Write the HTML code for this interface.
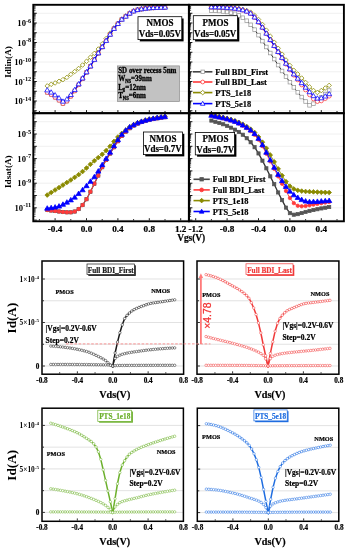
<!DOCTYPE html>
<html><head><meta charset="utf-8"><title>Figure</title>
<style>
html,body{margin:0;padding:0;background:#fff;}
body{width:348px;height:550px;overflow:hidden;}
svg{display:block;}
svg text{font-family:"Liberation Serif","Times New Roman",serif;}
</style></head><body>
<svg width="348" height="550" viewBox="0 0 348 550">
<rect width="348" height="550" fill="#fff"/>
<line x1="33.3" y1="110.75" x2="343.9" y2="110.75" stroke="#ececec" stroke-width="0.8" />
<line x1="33.3" y1="101" x2="343.9" y2="101" stroke="#ececec" stroke-width="0.8" />
<line x1="33.3" y1="91.25" x2="343.9" y2="91.25" stroke="#ececec" stroke-width="0.8" />
<line x1="33.3" y1="81.5" x2="343.9" y2="81.5" stroke="#ececec" stroke-width="0.8" />
<line x1="33.3" y1="71.75" x2="343.9" y2="71.75" stroke="#ececec" stroke-width="0.8" />
<line x1="33.3" y1="62" x2="343.9" y2="62" stroke="#ececec" stroke-width="0.8" />
<line x1="33.3" y1="52.25" x2="343.9" y2="52.25" stroke="#ececec" stroke-width="0.8" />
<line x1="33.3" y1="42.5" x2="343.9" y2="42.5" stroke="#ececec" stroke-width="0.8" />
<line x1="33.3" y1="32.75" x2="343.9" y2="32.75" stroke="#ececec" stroke-width="0.8" />
<line x1="33.3" y1="23" x2="343.9" y2="23" stroke="#ececec" stroke-width="0.8" />
<line x1="33.3" y1="13.25" x2="343.9" y2="13.25" stroke="#ececec" stroke-width="0.8" />
<line x1="33.3" y1="220.1" x2="343.9" y2="220.1" stroke="#ececec" stroke-width="0.8" />
<line x1="33.3" y1="207.8" x2="343.9" y2="207.8" stroke="#ececec" stroke-width="0.8" />
<line x1="33.3" y1="195.5" x2="343.9" y2="195.5" stroke="#ececec" stroke-width="0.8" />
<line x1="33.3" y1="183.2" x2="343.9" y2="183.2" stroke="#ececec" stroke-width="0.8" />
<line x1="33.3" y1="170.9" x2="343.9" y2="170.9" stroke="#ececec" stroke-width="0.8" />
<line x1="33.3" y1="158.6" x2="343.9" y2="158.6" stroke="#ececec" stroke-width="0.8" />
<line x1="33.3" y1="146.3" x2="343.9" y2="146.3" stroke="#ececec" stroke-width="0.8" />
<line x1="33.3" y1="134" x2="343.9" y2="134" stroke="#ececec" stroke-width="0.8" />
<line x1="33.3" y1="121.7" x2="343.9" y2="121.7" stroke="#ececec" stroke-width="0.8" />
<polyline points="47.25,92.41 51.17,94.51 55.1,97.27 59.02,100.22 62.95,103.6 66.88,101.11 70.8,96.26 74.72,90.9 78.65,84.75 82.57,78.67 86.5,72.3 90.42,66.32 94.35,59.78 98.27,53.24 102.2,47 106.12,40.72 110.05,34.52 113.97,28.63 117.9,23.72 121.82,19.38 125.75,16.34 129.67,13.32 133.6,11.1 137.52,9.79 141.45,9.01 145.38,8.4 149.3,8 153.22,7.8 157.15,7.6 161.07,7.4 165,7.3" fill="none" stroke="#222" stroke-width="0.9" stroke-linejoin="round" />
<rect x="45.45" y="90.61" width="3.6" height="3.6" fill="#fff" stroke="#999" stroke-width="0.75"/>
<rect x="49.38" y="92.71" width="3.6" height="3.6" fill="#fff" stroke="#999" stroke-width="0.75"/>
<rect x="53.3" y="95.47" width="3.6" height="3.6" fill="#fff" stroke="#999" stroke-width="0.75"/>
<rect x="57.23" y="98.42" width="3.6" height="3.6" fill="#fff" stroke="#999" stroke-width="0.75"/>
<rect x="61.15" y="101.8" width="3.6" height="3.6" fill="#fff" stroke="#999" stroke-width="0.75"/>
<rect x="65.08" y="99.31" width="3.6" height="3.6" fill="#fff" stroke="#999" stroke-width="0.75"/>
<rect x="69" y="94.46" width="3.6" height="3.6" fill="#fff" stroke="#999" stroke-width="0.75"/>
<rect x="72.92" y="89.1" width="3.6" height="3.6" fill="#fff" stroke="#999" stroke-width="0.75"/>
<rect x="76.85" y="82.95" width="3.6" height="3.6" fill="#fff" stroke="#999" stroke-width="0.75"/>
<rect x="80.77" y="76.87" width="3.6" height="3.6" fill="#fff" stroke="#999" stroke-width="0.75"/>
<rect x="84.7" y="70.5" width="3.6" height="3.6" fill="#fff" stroke="#999" stroke-width="0.75"/>
<rect x="88.62" y="64.52" width="3.6" height="3.6" fill="#fff" stroke="#999" stroke-width="0.75"/>
<rect x="92.55" y="57.98" width="3.6" height="3.6" fill="#fff" stroke="#999" stroke-width="0.75"/>
<rect x="96.47" y="51.44" width="3.6" height="3.6" fill="#fff" stroke="#999" stroke-width="0.75"/>
<rect x="100.4" y="45.2" width="3.6" height="3.6" fill="#fff" stroke="#999" stroke-width="0.75"/>
<rect x="104.32" y="38.92" width="3.6" height="3.6" fill="#fff" stroke="#999" stroke-width="0.75"/>
<rect x="108.25" y="32.72" width="3.6" height="3.6" fill="#fff" stroke="#999" stroke-width="0.75"/>
<rect x="112.17" y="26.83" width="3.6" height="3.6" fill="#fff" stroke="#999" stroke-width="0.75"/>
<rect x="116.1" y="21.92" width="3.6" height="3.6" fill="#fff" stroke="#999" stroke-width="0.75"/>
<rect x="120.02" y="17.58" width="3.6" height="3.6" fill="#fff" stroke="#999" stroke-width="0.75"/>
<rect x="123.95" y="14.54" width="3.6" height="3.6" fill="#fff" stroke="#999" stroke-width="0.75"/>
<rect x="127.87" y="11.52" width="3.6" height="3.6" fill="#fff" stroke="#999" stroke-width="0.75"/>
<rect x="131.8" y="9.3" width="3.6" height="3.6" fill="#fff" stroke="#999" stroke-width="0.75"/>
<rect x="135.72" y="7.99" width="3.6" height="3.6" fill="#fff" stroke="#999" stroke-width="0.75"/>
<rect x="139.65" y="7.21" width="3.6" height="3.6" fill="#fff" stroke="#999" stroke-width="0.75"/>
<rect x="143.57" y="6.6" width="3.6" height="3.6" fill="#fff" stroke="#999" stroke-width="0.75"/>
<rect x="147.5" y="6.2" width="3.6" height="3.6" fill="#fff" stroke="#999" stroke-width="0.75"/>
<rect x="151.42" y="6" width="3.6" height="3.6" fill="#fff" stroke="#999" stroke-width="0.75"/>
<rect x="155.35" y="5.8" width="3.6" height="3.6" fill="#fff" stroke="#999" stroke-width="0.75"/>
<rect x="159.27" y="5.6" width="3.6" height="3.6" fill="#fff" stroke="#999" stroke-width="0.75"/>
<rect x="163.2" y="5.5" width="3.6" height="3.6" fill="#fff" stroke="#999" stroke-width="0.75"/>
<polyline points="47.25,85.89 51.17,84.34 55.1,82.96 59.02,81.29 62.95,79.62 66.88,77.38 70.8,74.35 74.72,71.5 78.65,68.49 82.57,65.02 86.5,61.3 90.42,57.28 94.35,53.45 98.27,49.03 102.2,43.9 106.12,38.57 110.05,33.13 113.97,28.03 117.9,23.31 121.82,19.18 125.75,16.14 129.67,13.32 133.6,11.1 137.52,9.79 141.45,9.01 145.38,8.4 149.3,8 153.22,7.8 157.15,7.6 161.07,7.4 165,7.3" fill="none" stroke="#8a8a00" stroke-width="0.9" stroke-linejoin="round" />
<path d="M47.25,83.59L49.55,85.89L47.25,88.19L44.95,85.89Z" fill="#fff" stroke="#8a8a00" stroke-width="0.75"/>
<path d="M51.17,82.04L53.47,84.34L51.17,86.64L48.88,84.34Z" fill="#fff" stroke="#8a8a00" stroke-width="0.75"/>
<path d="M55.1,80.66L57.4,82.96L55.1,85.26L52.8,82.96Z" fill="#fff" stroke="#8a8a00" stroke-width="0.75"/>
<path d="M59.02,78.99L61.32,81.29L59.02,83.59L56.73,81.29Z" fill="#fff" stroke="#8a8a00" stroke-width="0.75"/>
<path d="M62.95,77.32L65.25,79.62L62.95,81.92L60.65,79.62Z" fill="#fff" stroke="#8a8a00" stroke-width="0.75"/>
<path d="M66.88,75.08L69.17,77.38L66.88,79.68L64.58,77.38Z" fill="#fff" stroke="#8a8a00" stroke-width="0.75"/>
<path d="M70.8,72.05L73.1,74.35L70.8,76.65L68.5,74.35Z" fill="#fff" stroke="#8a8a00" stroke-width="0.75"/>
<path d="M74.72,69.2L77.02,71.5L74.72,73.8L72.42,71.5Z" fill="#fff" stroke="#8a8a00" stroke-width="0.75"/>
<path d="M78.65,66.19L80.95,68.49L78.65,70.79L76.35,68.49Z" fill="#fff" stroke="#8a8a00" stroke-width="0.75"/>
<path d="M82.57,62.72L84.87,65.02L82.57,67.32L80.27,65.02Z" fill="#fff" stroke="#8a8a00" stroke-width="0.75"/>
<path d="M86.5,59L88.8,61.3L86.5,63.6L84.2,61.3Z" fill="#fff" stroke="#8a8a00" stroke-width="0.75"/>
<path d="M90.42,54.98L92.72,57.28L90.42,59.58L88.12,57.28Z" fill="#fff" stroke="#8a8a00" stroke-width="0.75"/>
<path d="M94.35,51.15L96.65,53.45L94.35,55.75L92.05,53.45Z" fill="#fff" stroke="#8a8a00" stroke-width="0.75"/>
<path d="M98.27,46.73L100.57,49.03L98.27,51.33L95.97,49.03Z" fill="#fff" stroke="#8a8a00" stroke-width="0.75"/>
<path d="M102.2,41.6L104.5,43.9L102.2,46.2L99.9,43.9Z" fill="#fff" stroke="#8a8a00" stroke-width="0.75"/>
<path d="M106.12,36.27L108.42,38.57L106.12,40.87L103.82,38.57Z" fill="#fff" stroke="#8a8a00" stroke-width="0.75"/>
<path d="M110.05,30.83L112.35,33.13L110.05,35.43L107.75,33.13Z" fill="#fff" stroke="#8a8a00" stroke-width="0.75"/>
<path d="M113.97,25.73L116.27,28.03L113.97,30.33L111.67,28.03Z" fill="#fff" stroke="#8a8a00" stroke-width="0.75"/>
<path d="M117.9,21.01L120.2,23.31L117.9,25.61L115.6,23.31Z" fill="#fff" stroke="#8a8a00" stroke-width="0.75"/>
<path d="M121.82,16.88L124.12,19.18L121.82,21.48L119.52,19.18Z" fill="#fff" stroke="#8a8a00" stroke-width="0.75"/>
<path d="M125.75,13.84L128.05,16.14L125.75,18.44L123.45,16.14Z" fill="#fff" stroke="#8a8a00" stroke-width="0.75"/>
<path d="M129.67,11.02L131.97,13.32L129.67,15.62L127.37,13.32Z" fill="#fff" stroke="#8a8a00" stroke-width="0.75"/>
<path d="M133.6,8.8L135.9,11.1L133.6,13.4L131.3,11.1Z" fill="#fff" stroke="#8a8a00" stroke-width="0.75"/>
<path d="M137.52,7.49L139.82,9.79L137.52,12.09L135.22,9.79Z" fill="#fff" stroke="#8a8a00" stroke-width="0.75"/>
<path d="M141.45,6.71L143.75,9.01L141.45,11.31L139.15,9.01Z" fill="#fff" stroke="#8a8a00" stroke-width="0.75"/>
<path d="M145.38,6.1L147.68,8.4L145.38,10.7L143.07,8.4Z" fill="#fff" stroke="#8a8a00" stroke-width="0.75"/>
<path d="M149.3,5.7L151.6,8L149.3,10.3L147,8Z" fill="#fff" stroke="#8a8a00" stroke-width="0.75"/>
<path d="M153.22,5.5L155.52,7.8L153.22,10.1L150.92,7.8Z" fill="#fff" stroke="#8a8a00" stroke-width="0.75"/>
<path d="M157.15,5.3L159.45,7.6L157.15,9.9L154.85,7.6Z" fill="#fff" stroke="#8a8a00" stroke-width="0.75"/>
<path d="M161.07,5.1L163.38,7.4L161.07,9.7L158.77,7.4Z" fill="#fff" stroke="#8a8a00" stroke-width="0.75"/>
<path d="M165,5L167.3,7.3L165,9.6L162.7,7.3Z" fill="#fff" stroke="#8a8a00" stroke-width="0.75"/>
<polyline points="47.25,92.41 51.17,94.51 55.1,97.27 59.02,100.22 62.95,103.6 66.88,101.11 70.8,96.26 74.72,90.9 78.65,84.75 82.57,78.67 86.5,72.3 90.42,66.32 94.35,59.78 98.27,53.24 102.2,47 106.12,40.72 110.05,34.52 113.97,28.63 117.9,23.72 121.82,19.38 125.75,16.34 129.67,13.32 133.6,11.1 137.52,9.79 141.45,9.01 145.38,8.4 149.3,8 153.22,7.8 157.15,7.6 161.07,7.4 165,7.3" fill="none" stroke="#ff3b3b" stroke-width="0.9" stroke-linejoin="round" />
<circle cx="47.25" cy="92.41" r="2" fill="#fff" stroke="#ff3b3b" stroke-width="0.75"/>
<circle cx="51.17" cy="94.51" r="2" fill="#fff" stroke="#ff3b3b" stroke-width="0.75"/>
<circle cx="55.1" cy="97.27" r="2" fill="#fff" stroke="#ff3b3b" stroke-width="0.75"/>
<circle cx="59.02" cy="100.22" r="2" fill="#fff" stroke="#ff3b3b" stroke-width="0.75"/>
<circle cx="62.95" cy="103.6" r="2" fill="#fff" stroke="#ff3b3b" stroke-width="0.75"/>
<circle cx="66.88" cy="101.11" r="2" fill="#fff" stroke="#ff3b3b" stroke-width="0.75"/>
<circle cx="70.8" cy="96.26" r="2" fill="#fff" stroke="#ff3b3b" stroke-width="0.75"/>
<circle cx="74.72" cy="90.9" r="2" fill="#fff" stroke="#ff3b3b" stroke-width="0.75"/>
<circle cx="78.65" cy="84.75" r="2" fill="#fff" stroke="#ff3b3b" stroke-width="0.75"/>
<circle cx="82.57" cy="78.67" r="2" fill="#fff" stroke="#ff3b3b" stroke-width="0.75"/>
<circle cx="86.5" cy="72.3" r="2" fill="#fff" stroke="#ff3b3b" stroke-width="0.75"/>
<circle cx="90.42" cy="66.32" r="2" fill="#fff" stroke="#ff3b3b" stroke-width="0.75"/>
<circle cx="94.35" cy="59.78" r="2" fill="#fff" stroke="#ff3b3b" stroke-width="0.75"/>
<circle cx="98.27" cy="53.24" r="2" fill="#fff" stroke="#ff3b3b" stroke-width="0.75"/>
<circle cx="102.2" cy="47" r="2" fill="#fff" stroke="#ff3b3b" stroke-width="0.75"/>
<circle cx="106.12" cy="40.72" r="2" fill="#fff" stroke="#ff3b3b" stroke-width="0.75"/>
<circle cx="110.05" cy="34.52" r="2" fill="#fff" stroke="#ff3b3b" stroke-width="0.75"/>
<circle cx="113.97" cy="28.63" r="2" fill="#fff" stroke="#ff3b3b" stroke-width="0.75"/>
<circle cx="117.9" cy="23.72" r="2" fill="#fff" stroke="#ff3b3b" stroke-width="0.75"/>
<circle cx="121.82" cy="19.38" r="2" fill="#fff" stroke="#ff3b3b" stroke-width="0.75"/>
<circle cx="125.75" cy="16.34" r="2" fill="#fff" stroke="#ff3b3b" stroke-width="0.75"/>
<circle cx="129.67" cy="13.32" r="2" fill="#fff" stroke="#ff3b3b" stroke-width="0.75"/>
<circle cx="133.6" cy="11.1" r="2" fill="#fff" stroke="#ff3b3b" stroke-width="0.75"/>
<circle cx="137.52" cy="9.79" r="2" fill="#fff" stroke="#ff3b3b" stroke-width="0.75"/>
<circle cx="141.45" cy="9.01" r="2" fill="#fff" stroke="#ff3b3b" stroke-width="0.75"/>
<circle cx="145.38" cy="8.4" r="2" fill="#fff" stroke="#ff3b3b" stroke-width="0.75"/>
<circle cx="149.3" cy="8" r="2" fill="#fff" stroke="#ff3b3b" stroke-width="0.75"/>
<circle cx="153.22" cy="7.8" r="2" fill="#fff" stroke="#ff3b3b" stroke-width="0.75"/>
<circle cx="157.15" cy="7.6" r="2" fill="#fff" stroke="#ff3b3b" stroke-width="0.75"/>
<circle cx="161.07" cy="7.4" r="2" fill="#fff" stroke="#ff3b3b" stroke-width="0.75"/>
<circle cx="165" cy="7.3" r="2" fill="#fff" stroke="#ff3b3b" stroke-width="0.75"/>
<polyline points="47.25,90.12 51.17,92.31 55.1,95.07 59.02,98.02 62.95,101.4 66.88,99.1 70.8,94.74 74.72,89.77 78.65,84.02 82.57,78.15 86.5,72 90.42,66.12 94.35,59.58 98.27,53.04 102.2,46.8 106.12,40.62 110.05,34.42 113.97,28.63 117.9,23.72 121.82,19.38 125.75,16.34 129.67,13.32 133.6,11.1 137.52,9.79 141.45,9.01 145.38,8.4 149.3,8 153.22,7.8 157.15,7.6 161.07,7.4 165,7.3" fill="none" stroke="#0000ff" stroke-width="1.1" stroke-linejoin="round" />
<path d="M47.25,87.6L49.77,91.92L44.73,91.92Z" fill="#fff" stroke="#0000ff" stroke-width="0.75"/>
<path d="M51.17,89.79L53.7,94.11L48.65,94.11Z" fill="#fff" stroke="#0000ff" stroke-width="0.75"/>
<path d="M55.1,92.55L57.62,96.87L52.58,96.87Z" fill="#fff" stroke="#0000ff" stroke-width="0.75"/>
<path d="M59.02,95.5L61.55,99.82L56.5,99.82Z" fill="#fff" stroke="#0000ff" stroke-width="0.75"/>
<path d="M62.95,98.88L65.47,103.2L60.43,103.2Z" fill="#fff" stroke="#0000ff" stroke-width="0.75"/>
<path d="M66.88,96.58L69.39,100.9L64.36,100.9Z" fill="#fff" stroke="#0000ff" stroke-width="0.75"/>
<path d="M70.8,92.22L73.32,96.54L68.28,96.54Z" fill="#fff" stroke="#0000ff" stroke-width="0.75"/>
<path d="M74.72,87.25L77.24,91.57L72.2,91.57Z" fill="#fff" stroke="#0000ff" stroke-width="0.75"/>
<path d="M78.65,81.5L81.17,85.82L76.13,85.82Z" fill="#fff" stroke="#0000ff" stroke-width="0.75"/>
<path d="M82.57,75.63L85.09,79.95L80.05,79.95Z" fill="#fff" stroke="#0000ff" stroke-width="0.75"/>
<path d="M86.5,69.48L89.02,73.8L83.98,73.8Z" fill="#fff" stroke="#0000ff" stroke-width="0.75"/>
<path d="M90.42,63.6L92.94,67.92L87.9,67.92Z" fill="#fff" stroke="#0000ff" stroke-width="0.75"/>
<path d="M94.35,57.06L96.87,61.38L91.83,61.38Z" fill="#fff" stroke="#0000ff" stroke-width="0.75"/>
<path d="M98.27,50.52L100.79,54.84L95.75,54.84Z" fill="#fff" stroke="#0000ff" stroke-width="0.75"/>
<path d="M102.2,44.28L104.72,48.6L99.68,48.6Z" fill="#fff" stroke="#0000ff" stroke-width="0.75"/>
<path d="M106.12,38.1L108.64,42.42L103.6,42.42Z" fill="#fff" stroke="#0000ff" stroke-width="0.75"/>
<path d="M110.05,31.9L112.57,36.22L107.53,36.22Z" fill="#fff" stroke="#0000ff" stroke-width="0.75"/>
<path d="M113.97,26.11L116.49,30.43L111.45,30.43Z" fill="#fff" stroke="#0000ff" stroke-width="0.75"/>
<path d="M117.9,21.2L120.42,25.52L115.38,25.52Z" fill="#fff" stroke="#0000ff" stroke-width="0.75"/>
<path d="M121.82,16.86L124.34,21.18L119.3,21.18Z" fill="#fff" stroke="#0000ff" stroke-width="0.75"/>
<path d="M125.75,13.82L128.27,18.14L123.23,18.14Z" fill="#fff" stroke="#0000ff" stroke-width="0.75"/>
<path d="M129.67,10.8L132.19,15.12L127.15,15.12Z" fill="#fff" stroke="#0000ff" stroke-width="0.75"/>
<path d="M133.6,8.58L136.12,12.9L131.08,12.9Z" fill="#fff" stroke="#0000ff" stroke-width="0.75"/>
<path d="M137.52,7.27L140.04,11.59L135,11.59Z" fill="#fff" stroke="#0000ff" stroke-width="0.75"/>
<path d="M141.45,6.49L143.97,10.81L138.93,10.81Z" fill="#fff" stroke="#0000ff" stroke-width="0.75"/>
<path d="M145.38,5.88L147.9,10.2L142.85,10.2Z" fill="#fff" stroke="#0000ff" stroke-width="0.75"/>
<path d="M149.3,5.48L151.82,9.8L146.78,9.8Z" fill="#fff" stroke="#0000ff" stroke-width="0.75"/>
<path d="M153.22,5.28L155.74,9.6L150.7,9.6Z" fill="#fff" stroke="#0000ff" stroke-width="0.75"/>
<path d="M157.15,5.08L159.67,9.4L154.63,9.4Z" fill="#fff" stroke="#0000ff" stroke-width="0.75"/>
<path d="M161.07,4.88L163.59,9.2L158.55,9.2Z" fill="#fff" stroke="#0000ff" stroke-width="0.75"/>
<path d="M165,4.78L167.52,9.1L162.48,9.1Z" fill="#fff" stroke="#0000ff" stroke-width="0.75"/>
<polyline points="211.4,10.8 215.32,10.8 219.25,10.99 223.17,11.48 227.1,11.98 231.02,12.78 234.95,13.78 238.88,15.44 242.8,17.73 246.73,20.73 250.65,24.83 254.58,29.64 258.5,35.15 262.43,41.09 266.35,46.97 270.28,53.01 274.2,59.05 278.13,65.09 282.05,70.98 285.98,76.62 289.9,82.16 293.83,87.4 297.75,92.32 301.68,97.05 305.6,101.5 309.53,105.3 313.45,103.68 317.38,100.7 321.3,97.48 325.23,94.07 329.15,90.54" fill="none" stroke="#222" stroke-width="1.0" stroke-linejoin="round" />
<rect x="209.6" y="9" width="3.6" height="3.6" fill="#fff" stroke="#999" stroke-width="0.75"/>
<rect x="213.52" y="9" width="3.6" height="3.6" fill="#fff" stroke="#999" stroke-width="0.75"/>
<rect x="217.45" y="9.19" width="3.6" height="3.6" fill="#fff" stroke="#999" stroke-width="0.75"/>
<rect x="221.37" y="9.68" width="3.6" height="3.6" fill="#fff" stroke="#999" stroke-width="0.75"/>
<rect x="225.3" y="10.18" width="3.6" height="3.6" fill="#fff" stroke="#999" stroke-width="0.75"/>
<rect x="229.22" y="10.98" width="3.6" height="3.6" fill="#fff" stroke="#999" stroke-width="0.75"/>
<rect x="233.15" y="11.98" width="3.6" height="3.6" fill="#fff" stroke="#999" stroke-width="0.75"/>
<rect x="237.07" y="13.64" width="3.6" height="3.6" fill="#fff" stroke="#999" stroke-width="0.75"/>
<rect x="241" y="15.93" width="3.6" height="3.6" fill="#fff" stroke="#999" stroke-width="0.75"/>
<rect x="244.93" y="18.93" width="3.6" height="3.6" fill="#fff" stroke="#999" stroke-width="0.75"/>
<rect x="248.85" y="23.03" width="3.6" height="3.6" fill="#fff" stroke="#999" stroke-width="0.75"/>
<rect x="252.78" y="27.84" width="3.6" height="3.6" fill="#fff" stroke="#999" stroke-width="0.75"/>
<rect x="256.7" y="33.35" width="3.6" height="3.6" fill="#fff" stroke="#999" stroke-width="0.75"/>
<rect x="260.62" y="39.29" width="3.6" height="3.6" fill="#fff" stroke="#999" stroke-width="0.75"/>
<rect x="264.55" y="45.17" width="3.6" height="3.6" fill="#fff" stroke="#999" stroke-width="0.75"/>
<rect x="268.48" y="51.21" width="3.6" height="3.6" fill="#fff" stroke="#999" stroke-width="0.75"/>
<rect x="272.4" y="57.25" width="3.6" height="3.6" fill="#fff" stroke="#999" stroke-width="0.75"/>
<rect x="276.33" y="63.29" width="3.6" height="3.6" fill="#fff" stroke="#999" stroke-width="0.75"/>
<rect x="280.25" y="69.18" width="3.6" height="3.6" fill="#fff" stroke="#999" stroke-width="0.75"/>
<rect x="284.18" y="74.82" width="3.6" height="3.6" fill="#fff" stroke="#999" stroke-width="0.75"/>
<rect x="288.1" y="80.36" width="3.6" height="3.6" fill="#fff" stroke="#999" stroke-width="0.75"/>
<rect x="292.03" y="85.6" width="3.6" height="3.6" fill="#fff" stroke="#999" stroke-width="0.75"/>
<rect x="295.95" y="90.52" width="3.6" height="3.6" fill="#fff" stroke="#999" stroke-width="0.75"/>
<rect x="299.88" y="95.25" width="3.6" height="3.6" fill="#fff" stroke="#999" stroke-width="0.75"/>
<rect x="303.8" y="99.7" width="3.6" height="3.6" fill="#fff" stroke="#999" stroke-width="0.75"/>
<rect x="307.73" y="103.5" width="3.6" height="3.6" fill="#fff" stroke="#999" stroke-width="0.75"/>
<rect x="311.65" y="101.88" width="3.6" height="3.6" fill="#fff" stroke="#999" stroke-width="0.75"/>
<rect x="315.58" y="98.9" width="3.6" height="3.6" fill="#fff" stroke="#999" stroke-width="0.75"/>
<rect x="319.5" y="95.68" width="3.6" height="3.6" fill="#fff" stroke="#999" stroke-width="0.75"/>
<rect x="323.43" y="92.27" width="3.6" height="3.6" fill="#fff" stroke="#999" stroke-width="0.75"/>
<rect x="327.35" y="88.74" width="3.6" height="3.6" fill="#fff" stroke="#999" stroke-width="0.75"/>
<polyline points="211.4,6.8 215.32,6.83 219.25,6.9 223.17,7.09 227.1,7.39 231.02,7.7 234.95,8.09 238.88,8.68 242.8,9.48 246.73,10.57 250.65,12.22 254.58,15.38 258.5,19.48 262.43,24.5 266.35,30.18 270.28,36.21 274.2,42.25 278.13,48.29 282.05,54.18 285.98,60.02 289.9,65.47 293.83,70.32 297.75,74.05 301.68,78.07 305.6,82.49 309.53,86.92 313.45,90.5 317.38,92.5 321.3,90.56 325.23,88.05 329.15,85.4" fill="none" stroke="#8a8a00" stroke-width="0.9" stroke-linejoin="round" />
<path d="M211.4,4.5L213.7,6.8L211.4,9.1L209.1,6.8Z" fill="#fff" stroke="#8a8a00" stroke-width="0.75"/>
<path d="M215.32,4.53L217.62,6.83L215.32,9.13L213.02,6.83Z" fill="#fff" stroke="#8a8a00" stroke-width="0.75"/>
<path d="M219.25,4.6L221.55,6.9L219.25,9.2L216.95,6.9Z" fill="#fff" stroke="#8a8a00" stroke-width="0.75"/>
<path d="M223.17,4.79L225.47,7.09L223.17,9.39L220.87,7.09Z" fill="#fff" stroke="#8a8a00" stroke-width="0.75"/>
<path d="M227.1,5.09L229.4,7.39L227.1,9.69L224.8,7.39Z" fill="#fff" stroke="#8a8a00" stroke-width="0.75"/>
<path d="M231.02,5.4L233.32,7.7L231.02,10L228.72,7.7Z" fill="#fff" stroke="#8a8a00" stroke-width="0.75"/>
<path d="M234.95,5.79L237.25,8.09L234.95,10.39L232.65,8.09Z" fill="#fff" stroke="#8a8a00" stroke-width="0.75"/>
<path d="M238.88,6.38L241.18,8.68L238.88,10.98L236.57,8.68Z" fill="#fff" stroke="#8a8a00" stroke-width="0.75"/>
<path d="M242.8,7.18L245.1,9.48L242.8,11.78L240.5,9.48Z" fill="#fff" stroke="#8a8a00" stroke-width="0.75"/>
<path d="M246.73,8.27L249.03,10.57L246.73,12.87L244.43,10.57Z" fill="#fff" stroke="#8a8a00" stroke-width="0.75"/>
<path d="M250.65,9.92L252.95,12.22L250.65,14.52L248.35,12.22Z" fill="#fff" stroke="#8a8a00" stroke-width="0.75"/>
<path d="M254.58,13.08L256.88,15.38L254.58,17.68L252.28,15.38Z" fill="#fff" stroke="#8a8a00" stroke-width="0.75"/>
<path d="M258.5,17.18L260.8,19.48L258.5,21.78L256.2,19.48Z" fill="#fff" stroke="#8a8a00" stroke-width="0.75"/>
<path d="M262.43,22.2L264.73,24.5L262.43,26.8L260.12,24.5Z" fill="#fff" stroke="#8a8a00" stroke-width="0.75"/>
<path d="M266.35,27.88L268.65,30.18L266.35,32.48L264.05,30.18Z" fill="#fff" stroke="#8a8a00" stroke-width="0.75"/>
<path d="M270.28,33.91L272.58,36.21L270.28,38.51L267.98,36.21Z" fill="#fff" stroke="#8a8a00" stroke-width="0.75"/>
<path d="M274.2,39.95L276.5,42.25L274.2,44.55L271.9,42.25Z" fill="#fff" stroke="#8a8a00" stroke-width="0.75"/>
<path d="M278.13,45.99L280.43,48.29L278.13,50.59L275.83,48.29Z" fill="#fff" stroke="#8a8a00" stroke-width="0.75"/>
<path d="M282.05,51.88L284.35,54.18L282.05,56.48L279.75,54.18Z" fill="#fff" stroke="#8a8a00" stroke-width="0.75"/>
<path d="M285.98,57.72L288.28,60.02L285.98,62.32L283.68,60.02Z" fill="#fff" stroke="#8a8a00" stroke-width="0.75"/>
<path d="M289.9,63.17L292.2,65.47L289.9,67.77L287.6,65.47Z" fill="#fff" stroke="#8a8a00" stroke-width="0.75"/>
<path d="M293.83,68.02L296.13,70.32L293.83,72.62L291.53,70.32Z" fill="#fff" stroke="#8a8a00" stroke-width="0.75"/>
<path d="M297.75,71.75L300.05,74.05L297.75,76.35L295.45,74.05Z" fill="#fff" stroke="#8a8a00" stroke-width="0.75"/>
<path d="M301.68,75.77L303.98,78.07L301.68,80.37L299.38,78.07Z" fill="#fff" stroke="#8a8a00" stroke-width="0.75"/>
<path d="M305.6,80.19L307.9,82.49L305.6,84.79L303.3,82.49Z" fill="#fff" stroke="#8a8a00" stroke-width="0.75"/>
<path d="M309.53,84.62L311.83,86.92L309.53,89.22L307.23,86.92Z" fill="#fff" stroke="#8a8a00" stroke-width="0.75"/>
<path d="M313.45,88.2L315.75,90.5L313.45,92.8L311.15,90.5Z" fill="#fff" stroke="#8a8a00" stroke-width="0.75"/>
<path d="M317.38,90.2L319.68,92.5L317.38,94.8L315.08,92.5Z" fill="#fff" stroke="#8a8a00" stroke-width="0.75"/>
<path d="M321.3,88.26L323.6,90.56L321.3,92.86L319,90.56Z" fill="#fff" stroke="#8a8a00" stroke-width="0.75"/>
<path d="M325.23,85.75L327.53,88.05L325.23,90.35L322.93,88.05Z" fill="#fff" stroke="#8a8a00" stroke-width="0.75"/>
<path d="M329.15,83.1L331.45,85.4L329.15,87.7L326.85,85.4Z" fill="#fff" stroke="#8a8a00" stroke-width="0.75"/>
<polyline points="211.4,7.2 215.32,7.23 219.25,7.3 223.17,7.48 227.1,7.79 231.02,8.14 234.95,8.59 238.88,9.26 242.8,10.17 246.73,11.47 250.65,13.5 254.58,17.46 258.5,22.27 262.43,27.69 266.35,33.76 270.28,40 274.2,46.05 278.13,52.18 282.05,58.17 285.98,64.11 289.9,69.86 293.83,75.11 297.75,79.81 301.68,84.84 305.6,89.87 309.53,94.71 313.45,98.88 317.38,101.5 321.3,100.83 325.23,98.55 329.15,96.1" fill="none" stroke="#ff3b3b" stroke-width="0.9" stroke-linejoin="round" />
<circle cx="211.4" cy="7.2" r="2" fill="#fff" stroke="#ff3b3b" stroke-width="0.75"/>
<circle cx="215.32" cy="7.23" r="2" fill="#fff" stroke="#ff3b3b" stroke-width="0.75"/>
<circle cx="219.25" cy="7.3" r="2" fill="#fff" stroke="#ff3b3b" stroke-width="0.75"/>
<circle cx="223.17" cy="7.48" r="2" fill="#fff" stroke="#ff3b3b" stroke-width="0.75"/>
<circle cx="227.1" cy="7.79" r="2" fill="#fff" stroke="#ff3b3b" stroke-width="0.75"/>
<circle cx="231.02" cy="8.14" r="2" fill="#fff" stroke="#ff3b3b" stroke-width="0.75"/>
<circle cx="234.95" cy="8.59" r="2" fill="#fff" stroke="#ff3b3b" stroke-width="0.75"/>
<circle cx="238.88" cy="9.26" r="2" fill="#fff" stroke="#ff3b3b" stroke-width="0.75"/>
<circle cx="242.8" cy="10.17" r="2" fill="#fff" stroke="#ff3b3b" stroke-width="0.75"/>
<circle cx="246.73" cy="11.47" r="2" fill="#fff" stroke="#ff3b3b" stroke-width="0.75"/>
<circle cx="250.65" cy="13.5" r="2" fill="#fff" stroke="#ff3b3b" stroke-width="0.75"/>
<circle cx="254.58" cy="17.46" r="2" fill="#fff" stroke="#ff3b3b" stroke-width="0.75"/>
<circle cx="258.5" cy="22.27" r="2" fill="#fff" stroke="#ff3b3b" stroke-width="0.75"/>
<circle cx="262.43" cy="27.69" r="2" fill="#fff" stroke="#ff3b3b" stroke-width="0.75"/>
<circle cx="266.35" cy="33.76" r="2" fill="#fff" stroke="#ff3b3b" stroke-width="0.75"/>
<circle cx="270.28" cy="40" r="2" fill="#fff" stroke="#ff3b3b" stroke-width="0.75"/>
<circle cx="274.2" cy="46.05" r="2" fill="#fff" stroke="#ff3b3b" stroke-width="0.75"/>
<circle cx="278.13" cy="52.18" r="2" fill="#fff" stroke="#ff3b3b" stroke-width="0.75"/>
<circle cx="282.05" cy="58.17" r="2" fill="#fff" stroke="#ff3b3b" stroke-width="0.75"/>
<circle cx="285.98" cy="64.11" r="2" fill="#fff" stroke="#ff3b3b" stroke-width="0.75"/>
<circle cx="289.9" cy="69.86" r="2" fill="#fff" stroke="#ff3b3b" stroke-width="0.75"/>
<circle cx="293.83" cy="75.11" r="2" fill="#fff" stroke="#ff3b3b" stroke-width="0.75"/>
<circle cx="297.75" cy="79.81" r="2" fill="#fff" stroke="#ff3b3b" stroke-width="0.75"/>
<circle cx="301.68" cy="84.84" r="2" fill="#fff" stroke="#ff3b3b" stroke-width="0.75"/>
<circle cx="305.6" cy="89.87" r="2" fill="#fff" stroke="#ff3b3b" stroke-width="0.75"/>
<circle cx="309.53" cy="94.71" r="2" fill="#fff" stroke="#ff3b3b" stroke-width="0.75"/>
<circle cx="313.45" cy="98.88" r="2" fill="#fff" stroke="#ff3b3b" stroke-width="0.75"/>
<circle cx="317.38" cy="101.5" r="2" fill="#fff" stroke="#ff3b3b" stroke-width="0.75"/>
<circle cx="321.3" cy="100.83" r="2" fill="#fff" stroke="#ff3b3b" stroke-width="0.75"/>
<circle cx="325.23" cy="98.55" r="2" fill="#fff" stroke="#ff3b3b" stroke-width="0.75"/>
<circle cx="329.15" cy="96.1" r="2" fill="#fff" stroke="#ff3b3b" stroke-width="0.75"/>
<polyline points="211.4,7 215.32,7.03 219.25,7.1 223.17,7.28 227.1,7.59 231.02,7.94 234.95,8.39 238.88,9.06 242.8,9.97 246.73,11.27 250.65,13.3 254.58,17.16 258.5,21.87 262.43,27.29 266.35,33.36 270.28,39.6 274.2,45.65 278.13,51.69 282.05,57.58 285.98,63.42 289.9,69.06 293.83,74.11 297.75,78.43 301.68,82.86 305.6,87.38 309.53,91.92 313.45,95.89 317.38,98.3 321.3,98.01 325.23,96.24 329.15,93.9" fill="none" stroke="#0000ff" stroke-width="1.1" stroke-linejoin="round" />
<path d="M211.4,4.48L213.92,8.8L208.88,8.8Z" fill="#fff" stroke="#0000ff" stroke-width="0.75"/>
<path d="M215.32,4.51L217.84,8.83L212.8,8.83Z" fill="#fff" stroke="#0000ff" stroke-width="0.75"/>
<path d="M219.25,4.58L221.77,8.9L216.73,8.9Z" fill="#fff" stroke="#0000ff" stroke-width="0.75"/>
<path d="M223.17,4.76L225.69,9.08L220.65,9.08Z" fill="#fff" stroke="#0000ff" stroke-width="0.75"/>
<path d="M227.1,5.07L229.62,9.39L224.58,9.39Z" fill="#fff" stroke="#0000ff" stroke-width="0.75"/>
<path d="M231.02,5.42L233.54,9.74L228.5,9.74Z" fill="#fff" stroke="#0000ff" stroke-width="0.75"/>
<path d="M234.95,5.87L237.47,10.19L232.43,10.19Z" fill="#fff" stroke="#0000ff" stroke-width="0.75"/>
<path d="M238.88,6.54L241.4,10.86L236.35,10.86Z" fill="#fff" stroke="#0000ff" stroke-width="0.75"/>
<path d="M242.8,7.45L245.32,11.77L240.28,11.77Z" fill="#fff" stroke="#0000ff" stroke-width="0.75"/>
<path d="M246.73,8.75L249.25,13.07L244.21,13.07Z" fill="#fff" stroke="#0000ff" stroke-width="0.75"/>
<path d="M250.65,10.78L253.17,15.1L248.13,15.1Z" fill="#fff" stroke="#0000ff" stroke-width="0.75"/>
<path d="M254.58,14.64L257.1,18.96L252.06,18.96Z" fill="#fff" stroke="#0000ff" stroke-width="0.75"/>
<path d="M258.5,19.35L261.02,23.67L255.98,23.67Z" fill="#fff" stroke="#0000ff" stroke-width="0.75"/>
<path d="M262.43,24.77L264.94,29.09L259.91,29.09Z" fill="#fff" stroke="#0000ff" stroke-width="0.75"/>
<path d="M266.35,30.84L268.87,35.16L263.83,35.16Z" fill="#fff" stroke="#0000ff" stroke-width="0.75"/>
<path d="M270.28,37.08L272.8,41.4L267.76,41.4Z" fill="#fff" stroke="#0000ff" stroke-width="0.75"/>
<path d="M274.2,43.13L276.72,47.45L271.68,47.45Z" fill="#fff" stroke="#0000ff" stroke-width="0.75"/>
<path d="M278.13,49.17L280.65,53.49L275.61,53.49Z" fill="#fff" stroke="#0000ff" stroke-width="0.75"/>
<path d="M282.05,55.06L284.57,59.38L279.53,59.38Z" fill="#fff" stroke="#0000ff" stroke-width="0.75"/>
<path d="M285.98,60.9L288.5,65.22L283.46,65.22Z" fill="#fff" stroke="#0000ff" stroke-width="0.75"/>
<path d="M289.9,66.54L292.42,70.86L287.38,70.86Z" fill="#fff" stroke="#0000ff" stroke-width="0.75"/>
<path d="M293.83,71.59L296.35,75.91L291.31,75.91Z" fill="#fff" stroke="#0000ff" stroke-width="0.75"/>
<path d="M297.75,75.91L300.27,80.23L295.23,80.23Z" fill="#fff" stroke="#0000ff" stroke-width="0.75"/>
<path d="M301.68,80.34L304.2,84.66L299.16,84.66Z" fill="#fff" stroke="#0000ff" stroke-width="0.75"/>
<path d="M305.6,84.86L308.12,89.18L303.08,89.18Z" fill="#fff" stroke="#0000ff" stroke-width="0.75"/>
<path d="M309.53,89.4L312.05,93.72L307.01,93.72Z" fill="#fff" stroke="#0000ff" stroke-width="0.75"/>
<path d="M313.45,93.37L315.97,97.69L310.93,97.69Z" fill="#fff" stroke="#0000ff" stroke-width="0.75"/>
<path d="M317.38,95.78L319.9,100.1L314.86,100.1Z" fill="#fff" stroke="#0000ff" stroke-width="0.75"/>
<path d="M321.3,95.49L323.82,99.81L318.78,99.81Z" fill="#fff" stroke="#0000ff" stroke-width="0.75"/>
<path d="M325.23,93.72L327.75,98.04L322.71,98.04Z" fill="#fff" stroke="#0000ff" stroke-width="0.75"/>
<path d="M329.15,91.38L331.67,95.7L326.63,95.7Z" fill="#fff" stroke="#0000ff" stroke-width="0.75"/>
<polyline points="47.25,209.99 51.17,210.5 55.1,211 59.02,211.49 62.95,212 66.88,212.3 70.8,212.3 74.72,211.52 78.65,209.04 82.57,205.03 86.5,199.2 90.42,191.75 94.35,183.7 98.27,175.55 102.2,167.2 106.12,159.96 110.05,153.58 113.97,147.24 117.9,141.2 121.82,135.87 125.75,131.65 129.67,128.22 133.6,125.6 137.52,123.59 141.45,122.02 145.38,120.81 149.3,119.8 153.22,119 157.15,118.31 161.07,117.7 165,117.2" fill="none" stroke="#333" stroke-width="1.2" stroke-linejoin="round" />
<rect x="45.65" y="208.39" width="3.2" height="3.2" fill="#555" stroke="#555" stroke-width="0.75"/>
<rect x="49.57" y="208.9" width="3.2" height="3.2" fill="#555" stroke="#555" stroke-width="0.75"/>
<rect x="53.5" y="209.4" width="3.2" height="3.2" fill="#555" stroke="#555" stroke-width="0.75"/>
<rect x="57.42" y="209.89" width="3.2" height="3.2" fill="#555" stroke="#555" stroke-width="0.75"/>
<rect x="61.35" y="210.4" width="3.2" height="3.2" fill="#555" stroke="#555" stroke-width="0.75"/>
<rect x="65.28" y="210.7" width="3.2" height="3.2" fill="#555" stroke="#555" stroke-width="0.75"/>
<rect x="69.2" y="210.7" width="3.2" height="3.2" fill="#555" stroke="#555" stroke-width="0.75"/>
<rect x="73.12" y="209.92" width="3.2" height="3.2" fill="#555" stroke="#555" stroke-width="0.75"/>
<rect x="77.05" y="207.44" width="3.2" height="3.2" fill="#555" stroke="#555" stroke-width="0.75"/>
<rect x="80.97" y="203.43" width="3.2" height="3.2" fill="#555" stroke="#555" stroke-width="0.75"/>
<rect x="84.9" y="197.6" width="3.2" height="3.2" fill="#555" stroke="#555" stroke-width="0.75"/>
<rect x="88.82" y="190.15" width="3.2" height="3.2" fill="#555" stroke="#555" stroke-width="0.75"/>
<rect x="92.75" y="182.1" width="3.2" height="3.2" fill="#555" stroke="#555" stroke-width="0.75"/>
<rect x="96.67" y="173.95" width="3.2" height="3.2" fill="#555" stroke="#555" stroke-width="0.75"/>
<rect x="100.6" y="165.6" width="3.2" height="3.2" fill="#555" stroke="#555" stroke-width="0.75"/>
<rect x="104.52" y="158.36" width="3.2" height="3.2" fill="#555" stroke="#555" stroke-width="0.75"/>
<rect x="108.45" y="151.98" width="3.2" height="3.2" fill="#555" stroke="#555" stroke-width="0.75"/>
<rect x="112.38" y="145.64" width="3.2" height="3.2" fill="#555" stroke="#555" stroke-width="0.75"/>
<rect x="116.3" y="139.6" width="3.2" height="3.2" fill="#555" stroke="#555" stroke-width="0.75"/>
<rect x="120.22" y="134.27" width="3.2" height="3.2" fill="#555" stroke="#555" stroke-width="0.75"/>
<rect x="124.15" y="130.05" width="3.2" height="3.2" fill="#555" stroke="#555" stroke-width="0.75"/>
<rect x="128.07" y="126.62" width="3.2" height="3.2" fill="#555" stroke="#555" stroke-width="0.75"/>
<rect x="132" y="124" width="3.2" height="3.2" fill="#555" stroke="#555" stroke-width="0.75"/>
<rect x="135.92" y="121.99" width="3.2" height="3.2" fill="#555" stroke="#555" stroke-width="0.75"/>
<rect x="139.85" y="120.42" width="3.2" height="3.2" fill="#555" stroke="#555" stroke-width="0.75"/>
<rect x="143.78" y="119.21" width="3.2" height="3.2" fill="#555" stroke="#555" stroke-width="0.75"/>
<rect x="147.7" y="118.2" width="3.2" height="3.2" fill="#555" stroke="#555" stroke-width="0.75"/>
<rect x="151.62" y="117.4" width="3.2" height="3.2" fill="#555" stroke="#555" stroke-width="0.75"/>
<rect x="155.55" y="116.71" width="3.2" height="3.2" fill="#555" stroke="#555" stroke-width="0.75"/>
<rect x="159.47" y="116.1" width="3.2" height="3.2" fill="#555" stroke="#555" stroke-width="0.75"/>
<rect x="163.4" y="115.6" width="3.2" height="3.2" fill="#555" stroke="#555" stroke-width="0.75"/>
<polyline points="47.25,195.03 51.17,192.52 55.1,190 59.02,187.55 62.95,185.03 66.88,182.52 70.8,180 74.72,177.35 78.65,174.64 82.57,171.52 86.5,168 90.42,164.28 94.35,160.84 98.27,157.62 102.2,154.3 106.12,150.57 110.05,146.26 113.97,141.43 117.9,137 121.82,133.38 125.75,130.14 129.67,127.02 133.6,124.7 137.52,122.89 141.45,121.42 145.38,120.21 149.3,119.2 153.22,118.4 157.15,117.71 161.07,117.1 165,116.6" fill="none" stroke="#8a8a00" stroke-width="0.9" stroke-linejoin="round" />
<path d="M47.25,192.67L49.61,195.03L47.25,197.39L44.89,195.03Z" fill="#8a8a00" stroke="#8a8a00" stroke-width="0.75"/>
<path d="M51.17,190.16L53.53,192.52L51.17,194.87L48.82,192.52Z" fill="#8a8a00" stroke="#8a8a00" stroke-width="0.75"/>
<path d="M55.1,187.64L57.46,190L55.1,192.36L52.74,190Z" fill="#8a8a00" stroke="#8a8a00" stroke-width="0.75"/>
<path d="M59.02,185.19L61.38,187.55L59.02,189.9L56.67,187.55Z" fill="#8a8a00" stroke="#8a8a00" stroke-width="0.75"/>
<path d="M62.95,182.67L65.31,185.03L62.95,187.39L60.59,185.03Z" fill="#8a8a00" stroke="#8a8a00" stroke-width="0.75"/>
<path d="M66.88,180.16L69.23,182.52L66.88,184.87L64.52,182.52Z" fill="#8a8a00" stroke="#8a8a00" stroke-width="0.75"/>
<path d="M70.8,177.64L73.16,180L70.8,182.36L68.44,180Z" fill="#8a8a00" stroke="#8a8a00" stroke-width="0.75"/>
<path d="M74.72,174.99L77.08,177.35L74.72,179.71L72.37,177.35Z" fill="#8a8a00" stroke="#8a8a00" stroke-width="0.75"/>
<path d="M78.65,172.28L81.01,174.64L78.65,176.99L76.29,174.64Z" fill="#8a8a00" stroke="#8a8a00" stroke-width="0.75"/>
<path d="M82.57,169.16L84.93,171.52L82.57,173.88L80.22,171.52Z" fill="#8a8a00" stroke="#8a8a00" stroke-width="0.75"/>
<path d="M86.5,165.64L88.86,168L86.5,170.36L84.14,168Z" fill="#8a8a00" stroke="#8a8a00" stroke-width="0.75"/>
<path d="M90.42,161.92L92.78,164.28L90.42,166.63L88.07,164.28Z" fill="#8a8a00" stroke="#8a8a00" stroke-width="0.75"/>
<path d="M94.35,158.48L96.71,160.84L94.35,163.2L91.99,160.84Z" fill="#8a8a00" stroke="#8a8a00" stroke-width="0.75"/>
<path d="M98.27,155.26L100.63,157.62L98.27,159.98L95.92,157.62Z" fill="#8a8a00" stroke="#8a8a00" stroke-width="0.75"/>
<path d="M102.2,151.94L104.56,154.3L102.2,156.66L99.84,154.3Z" fill="#8a8a00" stroke="#8a8a00" stroke-width="0.75"/>
<path d="M106.12,148.22L108.48,150.57L106.12,152.93L103.77,150.57Z" fill="#8a8a00" stroke="#8a8a00" stroke-width="0.75"/>
<path d="M110.05,143.9L112.41,146.26L110.05,148.62L107.69,146.26Z" fill="#8a8a00" stroke="#8a8a00" stroke-width="0.75"/>
<path d="M113.97,139.07L116.33,141.43L113.97,143.79L111.62,141.43Z" fill="#8a8a00" stroke="#8a8a00" stroke-width="0.75"/>
<path d="M117.9,134.64L120.26,137L117.9,139.36L115.54,137Z" fill="#8a8a00" stroke="#8a8a00" stroke-width="0.75"/>
<path d="M121.82,131.02L124.18,133.38L121.82,135.74L119.47,133.38Z" fill="#8a8a00" stroke="#8a8a00" stroke-width="0.75"/>
<path d="M125.75,127.78L128.11,130.14L125.75,132.5L123.39,130.14Z" fill="#8a8a00" stroke="#8a8a00" stroke-width="0.75"/>
<path d="M129.67,124.66L132.03,127.02L129.67,129.37L127.32,127.02Z" fill="#8a8a00" stroke="#8a8a00" stroke-width="0.75"/>
<path d="M133.6,122.34L135.96,124.7L133.6,127.06L131.24,124.7Z" fill="#8a8a00" stroke="#8a8a00" stroke-width="0.75"/>
<path d="M137.52,120.53L139.88,122.89L137.52,125.25L135.17,122.89Z" fill="#8a8a00" stroke="#8a8a00" stroke-width="0.75"/>
<path d="M141.45,119.06L143.81,121.42L141.45,123.77L139.09,121.42Z" fill="#8a8a00" stroke="#8a8a00" stroke-width="0.75"/>
<path d="M145.38,117.85L147.73,120.21L145.38,122.56L143.02,120.21Z" fill="#8a8a00" stroke="#8a8a00" stroke-width="0.75"/>
<path d="M149.3,116.84L151.66,119.2L149.3,121.56L146.94,119.2Z" fill="#8a8a00" stroke="#8a8a00" stroke-width="0.75"/>
<path d="M153.22,116.04L155.58,118.4L153.22,120.75L150.87,118.4Z" fill="#8a8a00" stroke="#8a8a00" stroke-width="0.75"/>
<path d="M157.15,115.35L159.51,117.71L157.15,120.07L154.79,117.71Z" fill="#8a8a00" stroke="#8a8a00" stroke-width="0.75"/>
<path d="M161.07,114.75L163.43,117.1L161.07,119.46L158.72,117.1Z" fill="#8a8a00" stroke="#8a8a00" stroke-width="0.75"/>
<path d="M165,114.24L167.36,116.6L165,118.96L162.64,116.6Z" fill="#8a8a00" stroke="#8a8a00" stroke-width="0.75"/>
<polyline points="47.25,209.99 51.17,210.5 55.1,211 59.02,211.49 62.95,212 66.88,212.3 70.8,212.3 74.72,211.52 78.65,209.04 82.57,205.03 86.5,199.2 90.42,191.75 94.35,183.7 98.27,175.55 102.2,167.2 106.12,159.96 110.05,153.58 113.97,147.24 117.9,141.2 121.82,135.87 125.75,131.65 129.67,128.22 133.6,125.6 137.52,123.59 141.45,122.02 145.38,120.81 149.3,119.8 153.22,119 157.15,118.31 161.07,117.7 165,117.2" fill="none" stroke="#ff3b3b" stroke-width="0.9" stroke-linejoin="round" />
<circle cx="47.25" cy="209.99" r="1.7" fill="#ff3b3b" stroke="#ff3b3b" stroke-width="0.75"/>
<circle cx="51.17" cy="210.5" r="1.7" fill="#ff3b3b" stroke="#ff3b3b" stroke-width="0.75"/>
<circle cx="55.1" cy="211" r="1.7" fill="#ff3b3b" stroke="#ff3b3b" stroke-width="0.75"/>
<circle cx="59.02" cy="211.49" r="1.7" fill="#ff3b3b" stroke="#ff3b3b" stroke-width="0.75"/>
<circle cx="62.95" cy="212" r="1.7" fill="#ff3b3b" stroke="#ff3b3b" stroke-width="0.75"/>
<circle cx="66.88" cy="212.3" r="1.7" fill="#ff3b3b" stroke="#ff3b3b" stroke-width="0.75"/>
<circle cx="70.8" cy="212.3" r="1.7" fill="#ff3b3b" stroke="#ff3b3b" stroke-width="0.75"/>
<circle cx="74.72" cy="211.52" r="1.7" fill="#ff3b3b" stroke="#ff3b3b" stroke-width="0.75"/>
<circle cx="78.65" cy="209.04" r="1.7" fill="#ff3b3b" stroke="#ff3b3b" stroke-width="0.75"/>
<circle cx="82.57" cy="205.03" r="1.7" fill="#ff3b3b" stroke="#ff3b3b" stroke-width="0.75"/>
<circle cx="86.5" cy="199.2" r="1.7" fill="#ff3b3b" stroke="#ff3b3b" stroke-width="0.75"/>
<circle cx="90.42" cy="191.75" r="1.7" fill="#ff3b3b" stroke="#ff3b3b" stroke-width="0.75"/>
<circle cx="94.35" cy="183.7" r="1.7" fill="#ff3b3b" stroke="#ff3b3b" stroke-width="0.75"/>
<circle cx="98.27" cy="175.55" r="1.7" fill="#ff3b3b" stroke="#ff3b3b" stroke-width="0.75"/>
<circle cx="102.2" cy="167.2" r="1.7" fill="#ff3b3b" stroke="#ff3b3b" stroke-width="0.75"/>
<circle cx="106.12" cy="159.96" r="1.7" fill="#ff3b3b" stroke="#ff3b3b" stroke-width="0.75"/>
<circle cx="110.05" cy="153.58" r="1.7" fill="#ff3b3b" stroke="#ff3b3b" stroke-width="0.75"/>
<circle cx="113.97" cy="147.24" r="1.7" fill="#ff3b3b" stroke="#ff3b3b" stroke-width="0.75"/>
<circle cx="117.9" cy="141.2" r="1.7" fill="#ff3b3b" stroke="#ff3b3b" stroke-width="0.75"/>
<circle cx="121.82" cy="135.87" r="1.7" fill="#ff3b3b" stroke="#ff3b3b" stroke-width="0.75"/>
<circle cx="125.75" cy="131.65" r="1.7" fill="#ff3b3b" stroke="#ff3b3b" stroke-width="0.75"/>
<circle cx="129.67" cy="128.22" r="1.7" fill="#ff3b3b" stroke="#ff3b3b" stroke-width="0.75"/>
<circle cx="133.6" cy="125.6" r="1.7" fill="#ff3b3b" stroke="#ff3b3b" stroke-width="0.75"/>
<circle cx="137.52" cy="123.59" r="1.7" fill="#ff3b3b" stroke="#ff3b3b" stroke-width="0.75"/>
<circle cx="141.45" cy="122.02" r="1.7" fill="#ff3b3b" stroke="#ff3b3b" stroke-width="0.75"/>
<circle cx="145.38" cy="120.81" r="1.7" fill="#ff3b3b" stroke="#ff3b3b" stroke-width="0.75"/>
<circle cx="149.3" cy="119.8" r="1.7" fill="#ff3b3b" stroke="#ff3b3b" stroke-width="0.75"/>
<circle cx="153.22" cy="119" r="1.7" fill="#ff3b3b" stroke="#ff3b3b" stroke-width="0.75"/>
<circle cx="157.15" cy="118.31" r="1.7" fill="#ff3b3b" stroke="#ff3b3b" stroke-width="0.75"/>
<circle cx="161.07" cy="117.7" r="1.7" fill="#ff3b3b" stroke="#ff3b3b" stroke-width="0.75"/>
<circle cx="165" cy="117.2" r="1.7" fill="#ff3b3b" stroke="#ff3b3b" stroke-width="0.75"/>
<polyline points="47.25,208.31 51.17,207.8 55.1,207.2 59.02,206.22 62.95,204.42 66.88,202.31 70.8,200 74.72,197.26 78.65,193.65 82.57,189.92 86.5,185.8 90.42,181.47 94.35,176.86 98.27,171.24 102.2,164.8 106.12,158.56 110.05,152.28 113.97,145.84 117.9,139.8 121.82,134.47 125.75,130.35 129.67,127.02 133.6,124.8 137.52,122.99 141.45,121.52 145.38,120.31 149.3,119.3 153.22,118.5 157.15,117.81 161.07,117.2 165,116.7" fill="none" stroke="#0000ff" stroke-width="0.9" stroke-linejoin="round" />
<path d="M47.25,205.68L49.88,210.18L44.62,210.18Z" fill="#0000ff" stroke="#0000ff" stroke-width="0.75"/>
<path d="M51.17,205.18L53.8,209.68L48.55,209.68Z" fill="#0000ff" stroke="#0000ff" stroke-width="0.75"/>
<path d="M55.1,204.57L57.72,209.07L52.47,209.07Z" fill="#0000ff" stroke="#0000ff" stroke-width="0.75"/>
<path d="M59.02,203.6L61.65,208.1L56.4,208.1Z" fill="#0000ff" stroke="#0000ff" stroke-width="0.75"/>
<path d="M62.95,201.8L65.57,206.3L60.32,206.3Z" fill="#0000ff" stroke="#0000ff" stroke-width="0.75"/>
<path d="M66.88,199.69L69.5,204.19L64.25,204.19Z" fill="#0000ff" stroke="#0000ff" stroke-width="0.75"/>
<path d="M70.8,197.38L73.42,201.88L68.17,201.88Z" fill="#0000ff" stroke="#0000ff" stroke-width="0.75"/>
<path d="M74.72,194.63L77.35,199.13L72.1,199.13Z" fill="#0000ff" stroke="#0000ff" stroke-width="0.75"/>
<path d="M78.65,191.02L81.27,195.52L76.02,195.52Z" fill="#0000ff" stroke="#0000ff" stroke-width="0.75"/>
<path d="M82.57,187.3L85.2,191.8L79.95,191.8Z" fill="#0000ff" stroke="#0000ff" stroke-width="0.75"/>
<path d="M86.5,183.18L89.12,187.68L83.87,187.68Z" fill="#0000ff" stroke="#0000ff" stroke-width="0.75"/>
<path d="M90.42,178.85L93.05,183.35L87.8,183.35Z" fill="#0000ff" stroke="#0000ff" stroke-width="0.75"/>
<path d="M94.35,174.24L96.97,178.74L91.72,178.74Z" fill="#0000ff" stroke="#0000ff" stroke-width="0.75"/>
<path d="M98.27,168.61L100.9,173.11L95.65,173.11Z" fill="#0000ff" stroke="#0000ff" stroke-width="0.75"/>
<path d="M102.2,162.18L104.82,166.68L99.57,166.68Z" fill="#0000ff" stroke="#0000ff" stroke-width="0.75"/>
<path d="M106.12,155.94L108.75,160.44L103.5,160.44Z" fill="#0000ff" stroke="#0000ff" stroke-width="0.75"/>
<path d="M110.05,149.66L112.67,154.16L107.42,154.16Z" fill="#0000ff" stroke="#0000ff" stroke-width="0.75"/>
<path d="M113.97,143.21L116.6,147.71L111.35,147.71Z" fill="#0000ff" stroke="#0000ff" stroke-width="0.75"/>
<path d="M117.9,137.18L120.52,141.68L115.27,141.68Z" fill="#0000ff" stroke="#0000ff" stroke-width="0.75"/>
<path d="M121.82,131.85L124.45,136.35L119.2,136.35Z" fill="#0000ff" stroke="#0000ff" stroke-width="0.75"/>
<path d="M125.75,127.72L128.38,132.22L123.12,132.22Z" fill="#0000ff" stroke="#0000ff" stroke-width="0.75"/>
<path d="M129.67,124.39L132.3,128.89L127.05,128.89Z" fill="#0000ff" stroke="#0000ff" stroke-width="0.75"/>
<path d="M133.6,122.18L136.22,126.68L130.97,126.68Z" fill="#0000ff" stroke="#0000ff" stroke-width="0.75"/>
<path d="M137.52,120.36L140.15,124.86L134.9,124.86Z" fill="#0000ff" stroke="#0000ff" stroke-width="0.75"/>
<path d="M141.45,118.89L144.07,123.39L138.82,123.39Z" fill="#0000ff" stroke="#0000ff" stroke-width="0.75"/>
<path d="M145.38,117.68L148,122.18L142.75,122.18Z" fill="#0000ff" stroke="#0000ff" stroke-width="0.75"/>
<path d="M149.3,116.68L151.92,121.18L146.67,121.18Z" fill="#0000ff" stroke="#0000ff" stroke-width="0.75"/>
<path d="M153.22,115.87L155.85,120.37L150.6,120.37Z" fill="#0000ff" stroke="#0000ff" stroke-width="0.75"/>
<path d="M157.15,115.18L159.77,119.68L154.52,119.68Z" fill="#0000ff" stroke="#0000ff" stroke-width="0.75"/>
<path d="M161.07,114.58L163.7,119.08L158.45,119.08Z" fill="#0000ff" stroke="#0000ff" stroke-width="0.75"/>
<path d="M165,114.08L167.62,118.58L162.37,118.58Z" fill="#0000ff" stroke="#0000ff" stroke-width="0.75"/>
<polyline points="211.4,120.57 215.32,121.78 219.25,122.95 223.17,124.25 227.1,125.86 231.02,127.66 234.95,129.67 238.88,131.92 242.8,134.72 246.73,138.23 250.65,142.23 254.58,147.22 258.5,153.43 262.43,160.66 266.35,168.3 270.28,176.35 274.2,184.2 278.13,192.45 282.05,200.11 285.98,207.6 289.9,213.14 293.83,214.7 297.75,214.13 301.68,213.04 305.6,211.93 309.53,210.92 313.45,210.03 317.38,209.23 321.3,208.42 325.23,207.71 329.15,207.03" fill="none" stroke="#333" stroke-width="1.3" stroke-linejoin="round" />
<rect x="209.8" y="118.97" width="3.2" height="3.2" fill="#555" stroke="#555" stroke-width="0.75"/>
<rect x="213.72" y="120.18" width="3.2" height="3.2" fill="#555" stroke="#555" stroke-width="0.75"/>
<rect x="217.65" y="121.35" width="3.2" height="3.2" fill="#555" stroke="#555" stroke-width="0.75"/>
<rect x="221.57" y="122.65" width="3.2" height="3.2" fill="#555" stroke="#555" stroke-width="0.75"/>
<rect x="225.5" y="124.26" width="3.2" height="3.2" fill="#555" stroke="#555" stroke-width="0.75"/>
<rect x="229.42" y="126.06" width="3.2" height="3.2" fill="#555" stroke="#555" stroke-width="0.75"/>
<rect x="233.35" y="128.07" width="3.2" height="3.2" fill="#555" stroke="#555" stroke-width="0.75"/>
<rect x="237.28" y="130.32" width="3.2" height="3.2" fill="#555" stroke="#555" stroke-width="0.75"/>
<rect x="241.2" y="133.12" width="3.2" height="3.2" fill="#555" stroke="#555" stroke-width="0.75"/>
<rect x="245.13" y="136.63" width="3.2" height="3.2" fill="#555" stroke="#555" stroke-width="0.75"/>
<rect x="249.05" y="140.63" width="3.2" height="3.2" fill="#555" stroke="#555" stroke-width="0.75"/>
<rect x="252.98" y="145.62" width="3.2" height="3.2" fill="#555" stroke="#555" stroke-width="0.75"/>
<rect x="256.9" y="151.83" width="3.2" height="3.2" fill="#555" stroke="#555" stroke-width="0.75"/>
<rect x="260.82" y="159.06" width="3.2" height="3.2" fill="#555" stroke="#555" stroke-width="0.75"/>
<rect x="264.75" y="166.7" width="3.2" height="3.2" fill="#555" stroke="#555" stroke-width="0.75"/>
<rect x="268.68" y="174.75" width="3.2" height="3.2" fill="#555" stroke="#555" stroke-width="0.75"/>
<rect x="272.6" y="182.6" width="3.2" height="3.2" fill="#555" stroke="#555" stroke-width="0.75"/>
<rect x="276.53" y="190.85" width="3.2" height="3.2" fill="#555" stroke="#555" stroke-width="0.75"/>
<rect x="280.45" y="198.51" width="3.2" height="3.2" fill="#555" stroke="#555" stroke-width="0.75"/>
<rect x="284.38" y="206" width="3.2" height="3.2" fill="#555" stroke="#555" stroke-width="0.75"/>
<rect x="288.3" y="211.54" width="3.2" height="3.2" fill="#555" stroke="#555" stroke-width="0.75"/>
<rect x="292.23" y="213.1" width="3.2" height="3.2" fill="#555" stroke="#555" stroke-width="0.75"/>
<rect x="296.15" y="212.53" width="3.2" height="3.2" fill="#555" stroke="#555" stroke-width="0.75"/>
<rect x="300.08" y="211.44" width="3.2" height="3.2" fill="#555" stroke="#555" stroke-width="0.75"/>
<rect x="304" y="210.33" width="3.2" height="3.2" fill="#555" stroke="#555" stroke-width="0.75"/>
<rect x="307.93" y="209.32" width="3.2" height="3.2" fill="#555" stroke="#555" stroke-width="0.75"/>
<rect x="311.85" y="208.43" width="3.2" height="3.2" fill="#555" stroke="#555" stroke-width="0.75"/>
<rect x="315.78" y="207.63" width="3.2" height="3.2" fill="#555" stroke="#555" stroke-width="0.75"/>
<rect x="319.7" y="206.82" width="3.2" height="3.2" fill="#555" stroke="#555" stroke-width="0.75"/>
<rect x="323.63" y="206.11" width="3.2" height="3.2" fill="#555" stroke="#555" stroke-width="0.75"/>
<rect x="327.55" y="205.43" width="3.2" height="3.2" fill="#555" stroke="#555" stroke-width="0.75"/>
<polyline points="211.4,114.98 215.32,115.78 219.25,116.57 223.17,117.37 227.1,118.37 231.02,119.48 234.95,120.78 238.88,122.35 242.8,124.25 246.73,126.55 250.65,129.19 254.58,132.48 258.5,136.88 262.43,142.19 266.35,148.26 270.28,154.98 274.2,161.82 278.13,168.87 282.05,175.56 285.98,181.63 289.9,186.21 293.83,188.96 297.75,190.36 301.68,191.08 305.6,191.49 309.53,191.7 313.45,191.89 317.38,192.09 321.3,192.3 325.23,192.4 329.15,192.5" fill="none" stroke="#8a8a00" stroke-width="0.9" stroke-linejoin="round" />
<path d="M211.4,112.62L213.76,114.98L211.4,117.34L209.04,114.98Z" fill="#8a8a00" stroke="#8a8a00" stroke-width="0.75"/>
<path d="M215.32,113.43L217.68,115.78L215.32,118.14L212.97,115.78Z" fill="#8a8a00" stroke="#8a8a00" stroke-width="0.75"/>
<path d="M219.25,114.21L221.61,116.57L219.25,118.93L216.89,116.57Z" fill="#8a8a00" stroke="#8a8a00" stroke-width="0.75"/>
<path d="M223.17,115.01L225.53,117.37L223.17,119.73L220.82,117.37Z" fill="#8a8a00" stroke="#8a8a00" stroke-width="0.75"/>
<path d="M227.1,116.02L229.46,118.37L227.1,120.73L224.74,118.37Z" fill="#8a8a00" stroke="#8a8a00" stroke-width="0.75"/>
<path d="M231.02,117.12L233.38,119.48L231.02,121.83L228.67,119.48Z" fill="#8a8a00" stroke="#8a8a00" stroke-width="0.75"/>
<path d="M234.95,118.42L237.31,120.78L234.95,123.14L232.59,120.78Z" fill="#8a8a00" stroke="#8a8a00" stroke-width="0.75"/>
<path d="M238.88,119.99L241.23,122.35L238.88,124.7L236.52,122.35Z" fill="#8a8a00" stroke="#8a8a00" stroke-width="0.75"/>
<path d="M242.8,121.89L245.16,124.25L242.8,126.6L240.44,124.25Z" fill="#8a8a00" stroke="#8a8a00" stroke-width="0.75"/>
<path d="M246.73,124.2L249.08,126.55L246.73,128.91L244.37,126.55Z" fill="#8a8a00" stroke="#8a8a00" stroke-width="0.75"/>
<path d="M250.65,126.83L253.01,129.19L250.65,131.55L248.29,129.19Z" fill="#8a8a00" stroke="#8a8a00" stroke-width="0.75"/>
<path d="M254.58,130.12L256.93,132.48L254.58,134.84L252.22,132.48Z" fill="#8a8a00" stroke="#8a8a00" stroke-width="0.75"/>
<path d="M258.5,134.52L260.86,136.88L258.5,139.23L256.14,136.88Z" fill="#8a8a00" stroke="#8a8a00" stroke-width="0.75"/>
<path d="M262.43,139.83L264.78,142.19L262.43,144.55L260.07,142.19Z" fill="#8a8a00" stroke="#8a8a00" stroke-width="0.75"/>
<path d="M266.35,145.9L268.71,148.26L266.35,150.61L263.99,148.26Z" fill="#8a8a00" stroke="#8a8a00" stroke-width="0.75"/>
<path d="M270.28,152.63L272.63,154.98L270.28,157.34L267.92,154.98Z" fill="#8a8a00" stroke="#8a8a00" stroke-width="0.75"/>
<path d="M274.2,159.47L276.56,161.82L274.2,164.18L271.84,161.82Z" fill="#8a8a00" stroke="#8a8a00" stroke-width="0.75"/>
<path d="M278.13,166.51L280.48,168.87L278.13,171.23L275.77,168.87Z" fill="#8a8a00" stroke="#8a8a00" stroke-width="0.75"/>
<path d="M282.05,173.2L284.41,175.56L282.05,177.91L279.69,175.56Z" fill="#8a8a00" stroke="#8a8a00" stroke-width="0.75"/>
<path d="M285.98,179.28L288.33,181.63L285.98,183.99L283.62,181.63Z" fill="#8a8a00" stroke="#8a8a00" stroke-width="0.75"/>
<path d="M289.9,183.85L292.26,186.21L289.9,188.57L287.54,186.21Z" fill="#8a8a00" stroke="#8a8a00" stroke-width="0.75"/>
<path d="M293.83,186.61L296.18,188.96L293.83,191.32L291.47,188.96Z" fill="#8a8a00" stroke="#8a8a00" stroke-width="0.75"/>
<path d="M297.75,188.01L300.11,190.36L297.75,192.72L295.39,190.36Z" fill="#8a8a00" stroke="#8a8a00" stroke-width="0.75"/>
<path d="M301.68,188.73L304.03,191.08L301.68,193.44L299.32,191.08Z" fill="#8a8a00" stroke="#8a8a00" stroke-width="0.75"/>
<path d="M305.6,189.14L307.96,191.49L305.6,193.85L303.24,191.49Z" fill="#8a8a00" stroke="#8a8a00" stroke-width="0.75"/>
<path d="M309.53,189.34L311.88,191.7L309.53,194.05L307.17,191.7Z" fill="#8a8a00" stroke="#8a8a00" stroke-width="0.75"/>
<path d="M313.45,189.53L315.81,191.89L313.45,194.25L311.09,191.89Z" fill="#8a8a00" stroke="#8a8a00" stroke-width="0.75"/>
<path d="M317.38,189.74L319.73,192.09L317.38,194.45L315.02,192.09Z" fill="#8a8a00" stroke="#8a8a00" stroke-width="0.75"/>
<path d="M321.3,189.94L323.66,192.3L321.3,194.65L318.94,192.3Z" fill="#8a8a00" stroke="#8a8a00" stroke-width="0.75"/>
<path d="M325.23,190.04L327.58,192.4L325.23,194.76L322.87,192.4Z" fill="#8a8a00" stroke="#8a8a00" stroke-width="0.75"/>
<path d="M329.15,190.14L331.51,192.5L329.15,194.85L326.79,192.5Z" fill="#8a8a00" stroke="#8a8a00" stroke-width="0.75"/>
<polyline points="211.4,115.78 215.32,116.68 219.25,117.57 223.17,118.37 227.1,119.37 231.02,120.58 234.95,121.98 238.88,123.64 242.8,125.74 246.73,128.15 250.65,131.07 254.58,134.86 258.5,139.66 262.43,146.17 266.35,153.71 270.28,161.36 274.2,168.81 278.13,176.36 282.05,183.72 285.98,190.97 289.9,198.05 293.83,203.13 297.75,205.76 301.68,206.3 305.6,206.01 309.53,205.31 313.45,204.63 317.38,203.92 321.3,203.22 325.23,202.61 329.15,202.02" fill="none" stroke="#ff3b3b" stroke-width="0.9" stroke-linejoin="round" />
<circle cx="211.4" cy="115.78" r="1.7" fill="#ff3b3b" stroke="#ff3b3b" stroke-width="0.75"/>
<circle cx="215.32" cy="116.68" r="1.7" fill="#ff3b3b" stroke="#ff3b3b" stroke-width="0.75"/>
<circle cx="219.25" cy="117.57" r="1.7" fill="#ff3b3b" stroke="#ff3b3b" stroke-width="0.75"/>
<circle cx="223.17" cy="118.37" r="1.7" fill="#ff3b3b" stroke="#ff3b3b" stroke-width="0.75"/>
<circle cx="227.1" cy="119.37" r="1.7" fill="#ff3b3b" stroke="#ff3b3b" stroke-width="0.75"/>
<circle cx="231.02" cy="120.58" r="1.7" fill="#ff3b3b" stroke="#ff3b3b" stroke-width="0.75"/>
<circle cx="234.95" cy="121.98" r="1.7" fill="#ff3b3b" stroke="#ff3b3b" stroke-width="0.75"/>
<circle cx="238.88" cy="123.64" r="1.7" fill="#ff3b3b" stroke="#ff3b3b" stroke-width="0.75"/>
<circle cx="242.8" cy="125.74" r="1.7" fill="#ff3b3b" stroke="#ff3b3b" stroke-width="0.75"/>
<circle cx="246.73" cy="128.15" r="1.7" fill="#ff3b3b" stroke="#ff3b3b" stroke-width="0.75"/>
<circle cx="250.65" cy="131.07" r="1.7" fill="#ff3b3b" stroke="#ff3b3b" stroke-width="0.75"/>
<circle cx="254.58" cy="134.86" r="1.7" fill="#ff3b3b" stroke="#ff3b3b" stroke-width="0.75"/>
<circle cx="258.5" cy="139.66" r="1.7" fill="#ff3b3b" stroke="#ff3b3b" stroke-width="0.75"/>
<circle cx="262.43" cy="146.17" r="1.7" fill="#ff3b3b" stroke="#ff3b3b" stroke-width="0.75"/>
<circle cx="266.35" cy="153.71" r="1.7" fill="#ff3b3b" stroke="#ff3b3b" stroke-width="0.75"/>
<circle cx="270.28" cy="161.36" r="1.7" fill="#ff3b3b" stroke="#ff3b3b" stroke-width="0.75"/>
<circle cx="274.2" cy="168.81" r="1.7" fill="#ff3b3b" stroke="#ff3b3b" stroke-width="0.75"/>
<circle cx="278.13" cy="176.36" r="1.7" fill="#ff3b3b" stroke="#ff3b3b" stroke-width="0.75"/>
<circle cx="282.05" cy="183.72" r="1.7" fill="#ff3b3b" stroke="#ff3b3b" stroke-width="0.75"/>
<circle cx="285.98" cy="190.97" r="1.7" fill="#ff3b3b" stroke="#ff3b3b" stroke-width="0.75"/>
<circle cx="289.9" cy="198.05" r="1.7" fill="#ff3b3b" stroke="#ff3b3b" stroke-width="0.75"/>
<circle cx="293.83" cy="203.13" r="1.7" fill="#ff3b3b" stroke="#ff3b3b" stroke-width="0.75"/>
<circle cx="297.75" cy="205.76" r="1.7" fill="#ff3b3b" stroke="#ff3b3b" stroke-width="0.75"/>
<circle cx="301.68" cy="206.3" r="1.7" fill="#ff3b3b" stroke="#ff3b3b" stroke-width="0.75"/>
<circle cx="305.6" cy="206.01" r="1.7" fill="#ff3b3b" stroke="#ff3b3b" stroke-width="0.75"/>
<circle cx="309.53" cy="205.31" r="1.7" fill="#ff3b3b" stroke="#ff3b3b" stroke-width="0.75"/>
<circle cx="313.45" cy="204.63" r="1.7" fill="#ff3b3b" stroke="#ff3b3b" stroke-width="0.75"/>
<circle cx="317.38" cy="203.92" r="1.7" fill="#ff3b3b" stroke="#ff3b3b" stroke-width="0.75"/>
<circle cx="321.3" cy="203.22" r="1.7" fill="#ff3b3b" stroke="#ff3b3b" stroke-width="0.75"/>
<circle cx="325.23" cy="202.61" r="1.7" fill="#ff3b3b" stroke="#ff3b3b" stroke-width="0.75"/>
<circle cx="329.15" cy="202.02" r="1.7" fill="#ff3b3b" stroke="#ff3b3b" stroke-width="0.75"/>
<polyline points="211.4,115.38 215.32,116.28 219.25,117.17 223.17,117.97 227.1,118.97 231.02,120.18 234.95,121.48 238.88,123.14 242.8,125.15 246.73,127.45 250.65,130.18 254.58,133.67 258.5,138.46 262.43,144.87 266.35,152.31 270.28,159.96 274.2,167.32 278.13,174.47 282.05,180.77 285.98,186.63 289.9,191.3 293.83,194.94 297.75,197.61 301.68,199.75 305.6,201.18 309.53,201.8 313.45,201.71 317.38,201.51 321.3,201.21 325.23,200.91 329.15,200.61" fill="none" stroke="#0000ff" stroke-width="0.9" stroke-linejoin="round" />
<path d="M211.4,112.75L214.02,117.25L208.77,117.25Z" fill="#0000ff" stroke="#0000ff" stroke-width="0.75"/>
<path d="M215.32,113.66L217.95,118.16L212.7,118.16Z" fill="#0000ff" stroke="#0000ff" stroke-width="0.75"/>
<path d="M219.25,114.54L221.88,119.04L216.62,119.04Z" fill="#0000ff" stroke="#0000ff" stroke-width="0.75"/>
<path d="M223.17,115.35L225.8,119.85L220.55,119.85Z" fill="#0000ff" stroke="#0000ff" stroke-width="0.75"/>
<path d="M227.1,116.35L229.72,120.85L224.47,120.85Z" fill="#0000ff" stroke="#0000ff" stroke-width="0.75"/>
<path d="M231.02,117.55L233.65,122.05L228.4,122.05Z" fill="#0000ff" stroke="#0000ff" stroke-width="0.75"/>
<path d="M234.95,118.86L237.57,123.36L232.32,123.36Z" fill="#0000ff" stroke="#0000ff" stroke-width="0.75"/>
<path d="M238.88,120.52L241.5,125.02L236.25,125.02Z" fill="#0000ff" stroke="#0000ff" stroke-width="0.75"/>
<path d="M242.8,122.52L245.43,127.02L240.18,127.02Z" fill="#0000ff" stroke="#0000ff" stroke-width="0.75"/>
<path d="M246.73,124.83L249.35,129.33L244.1,129.33Z" fill="#0000ff" stroke="#0000ff" stroke-width="0.75"/>
<path d="M250.65,127.56L253.28,132.06L248.03,132.06Z" fill="#0000ff" stroke="#0000ff" stroke-width="0.75"/>
<path d="M254.58,131.05L257.2,135.55L251.95,135.55Z" fill="#0000ff" stroke="#0000ff" stroke-width="0.75"/>
<path d="M258.5,135.83L261.12,140.33L255.88,140.33Z" fill="#0000ff" stroke="#0000ff" stroke-width="0.75"/>
<path d="M262.43,142.24L265.05,146.74L259.8,146.74Z" fill="#0000ff" stroke="#0000ff" stroke-width="0.75"/>
<path d="M266.35,149.69L268.98,154.19L263.73,154.19Z" fill="#0000ff" stroke="#0000ff" stroke-width="0.75"/>
<path d="M270.28,157.34L272.9,161.84L267.65,161.84Z" fill="#0000ff" stroke="#0000ff" stroke-width="0.75"/>
<path d="M274.2,164.69L276.83,169.19L271.58,169.19Z" fill="#0000ff" stroke="#0000ff" stroke-width="0.75"/>
<path d="M278.13,171.85L280.75,176.35L275.5,176.35Z" fill="#0000ff" stroke="#0000ff" stroke-width="0.75"/>
<path d="M282.05,178.14L284.68,182.64L279.43,182.64Z" fill="#0000ff" stroke="#0000ff" stroke-width="0.75"/>
<path d="M285.98,184.01L288.6,188.51L283.35,188.51Z" fill="#0000ff" stroke="#0000ff" stroke-width="0.75"/>
<path d="M289.9,188.67L292.53,193.17L287.28,193.17Z" fill="#0000ff" stroke="#0000ff" stroke-width="0.75"/>
<path d="M293.83,192.32L296.45,196.82L291.2,196.82Z" fill="#0000ff" stroke="#0000ff" stroke-width="0.75"/>
<path d="M297.75,194.98L300.38,199.48L295.13,199.48Z" fill="#0000ff" stroke="#0000ff" stroke-width="0.75"/>
<path d="M301.68,197.12L304.3,201.62L299.05,201.62Z" fill="#0000ff" stroke="#0000ff" stroke-width="0.75"/>
<path d="M305.6,198.55L308.23,203.05L302.98,203.05Z" fill="#0000ff" stroke="#0000ff" stroke-width="0.75"/>
<path d="M309.53,199.17L312.15,203.67L306.9,203.67Z" fill="#0000ff" stroke="#0000ff" stroke-width="0.75"/>
<path d="M313.45,199.08L316.08,203.58L310.83,203.58Z" fill="#0000ff" stroke="#0000ff" stroke-width="0.75"/>
<path d="M317.38,198.88L320,203.38L314.75,203.38Z" fill="#0000ff" stroke="#0000ff" stroke-width="0.75"/>
<path d="M321.3,198.58L323.93,203.08L318.68,203.08Z" fill="#0000ff" stroke="#0000ff" stroke-width="0.75"/>
<path d="M325.23,198.28L327.85,202.78L322.6,202.78Z" fill="#0000ff" stroke="#0000ff" stroke-width="0.75"/>
<path d="M329.15,197.99L331.78,202.49L326.53,202.49Z" fill="#0000ff" stroke="#0000ff" stroke-width="0.75"/>
<rect x="139.8" y="18.5" width="43.8" height="22.9" fill="#000"/>
<rect x="138" y="16.7" width="43.8" height="22.9" fill="#fff" stroke="#000" stroke-width="0.8"/>
<text x="0" y="0" transform="translate(160,26.3) scale(1.0,1.16)" font-size="9" text-anchor="middle" font-weight="bold" fill="#000"  stroke="#000" stroke-width="0.2">NMOS</text>
<text x="0" y="0" transform="translate(159.8,37.2) scale(1.0,1.16)" font-size="9" text-anchor="middle" font-weight="bold" fill="#000"  stroke="#000" stroke-width="0.2">Vds=0.05V</text>
<rect x="195.1" y="17.5" width="44.2" height="24" fill="#000"/>
<rect x="193.3" y="15.7" width="44.2" height="24" fill="#fff" stroke="#000" stroke-width="0.8"/>
<text x="0" y="0" transform="translate(215.4,26.2) scale(1.0,1.16)" font-size="9" text-anchor="middle" font-weight="bold" fill="#000"  stroke="#000" stroke-width="0.2">PMOS</text>
<text x="0" y="0" transform="translate(215.2,36.8) scale(1.0,1.16)" font-size="9" text-anchor="middle" font-weight="bold" fill="#000"  stroke="#000" stroke-width="0.2">Vds=0.05V</text>
<rect x="145.3" y="133.8" width="39" height="22.6" fill="#000"/>
<rect x="143.5" y="132" width="39" height="22.6" fill="#fff" stroke="#000" stroke-width="0.8"/>
<text x="0" y="0" transform="translate(163,141.6) scale(1.0,1.16)" font-size="9" text-anchor="middle" font-weight="bold" fill="#000"  stroke="#000" stroke-width="0.2">NMOS</text>
<text x="0" y="0" transform="translate(162.8,152.4) scale(1.0,1.16)" font-size="9" text-anchor="middle" font-weight="bold" fill="#000"  stroke="#000" stroke-width="0.2">Vds=0.7V</text>
<rect x="197.1" y="134.3" width="39.3" height="22.4" fill="#000"/>
<rect x="195.3" y="132.5" width="39.3" height="22.4" fill="#fff" stroke="#000" stroke-width="0.8"/>
<text x="0" y="0" transform="translate(215.4,142.2) scale(1.0,1.16)" font-size="9" text-anchor="middle" font-weight="bold" fill="#000"  stroke="#000" stroke-width="0.2">PMOS</text>
<text x="0" y="0" transform="translate(215.2,153.1) scale(1.0,1.16)" font-size="9" text-anchor="middle" font-weight="bold" fill="#000"  stroke="#000" stroke-width="0.2">Vds=0.7V</text>
<rect x="117.4" y="65.9" width="62.1" height="35.6" fill="#c2c2c2" stroke="#8c8c8c" stroke-width="0.7"/>
<text x="0" y="0" transform="translate(118.2,73.3) scale(1,1.1)" font-size="7" font-weight="bold" stroke="#000" stroke-width="0.28">SD over recess 5nm</text>
<text x="0" y="0" transform="translate(118.2,81.4) scale(1,1.1)" font-size="7" font-weight="bold" stroke="#000" stroke-width="0.28">W<tspan font-size="4.6" dy="1.5">NS</tspan><tspan dy="-1.5">=39nm</tspan></text>
<text x="0" y="0" transform="translate(118.2,89.6) scale(1,1.1)" font-size="7" font-weight="bold" stroke="#000" stroke-width="0.28">L<tspan font-size="4.6" dy="1.5">g</tspan><tspan dy="-1.5">=12nm</tspan></text>
<text x="0" y="0" transform="translate(118.2,98.2) scale(1,1.1)" font-size="7" font-weight="bold" stroke="#000" stroke-width="0.28">T<tspan font-size="4.6" dy="1.5">NS</tspan><tspan dy="-1.5">=6nm</tspan></text>
<line x1="193" y1="71.8" x2="212.4" y2="71.8" stroke="#444" stroke-width="1.6" />
<rect x="201" y="70.1" width="3.4" height="3.4" fill="#fff" stroke="#999" stroke-width="0.8"/>
<text x="0" y="0" transform="translate(215.3,74.8) scale(1.0,1.1)" font-size="8.4" text-anchor="start" font-weight="bold" fill="#000"  stroke="#000" stroke-width="0.2">Full BDI_First</text>
<line x1="193" y1="82" x2="212.4" y2="82" stroke="#ff3b3b" stroke-width="1.6" />
<circle cx="202.7" cy="82" r="1.9" fill="#fff" stroke="#ff3b3b" stroke-width="0.8"/>
<text x="0" y="0" transform="translate(215.3,85) scale(1.0,1.1)" font-size="8.4" text-anchor="start" font-weight="bold" fill="#000"  stroke="#000" stroke-width="0.2">Full BDI_Last</text>
<line x1="193" y1="92.6" x2="212.4" y2="92.6" stroke="#8a8a00" stroke-width="1.6" />
<path d="M202.7,90.3L205,92.6L202.7,94.9L200.4,92.6Z" fill="#fff" stroke="#8a8a00" stroke-width="0.8"/>
<text x="0" y="0" transform="translate(215.3,95.6) scale(1.0,1.1)" font-size="8.4" text-anchor="start" font-weight="bold" fill="#000"  stroke="#000" stroke-width="0.2">PTS_1e18</text>
<line x1="193" y1="103.6" x2="212.4" y2="103.6" stroke="#0000ff" stroke-width="1.6" />
<path d="M202.7,101.29L205.01,105.25L200.39,105.25Z" fill="#fff" stroke="#0000ff" stroke-width="0.8"/>
<text x="0" y="0" transform="translate(215.3,106.6) scale(1.0,1.1)" font-size="8.4" text-anchor="start" font-weight="bold" fill="#000"  stroke="#000" stroke-width="0.2">PTS_5e18</text>
<line x1="193.5" y1="179.3" x2="209.8" y2="179.3" stroke="#444" stroke-width="1.6" />
<rect x="199.95" y="177.6" width="3.4" height="3.4" fill="#555" stroke="#555" stroke-width="0.8"/>
<text x="0" y="0" transform="translate(212.7,182.3) scale(1.0,1.1)" font-size="8.4" text-anchor="start" font-weight="bold" fill="#000"  stroke="#000" stroke-width="0.2">Full BDI_First</text>
<line x1="193.5" y1="189.9" x2="209.8" y2="189.9" stroke="#ff3b3b" stroke-width="1.6" />
<circle cx="201.65" cy="189.9" r="1.9" fill="#ff3b3b" stroke="#ff3b3b" stroke-width="0.8"/>
<text x="0" y="0" transform="translate(212.7,192.9) scale(1.0,1.1)" font-size="8.4" text-anchor="start" font-weight="bold" fill="#000"  stroke="#000" stroke-width="0.2">Full BDI_Last</text>
<line x1="193.5" y1="200.6" x2="209.8" y2="200.6" stroke="#8a8a00" stroke-width="1.6" />
<path d="M201.65,198.3L203.95,200.6L201.65,202.9L199.35,200.6Z" fill="#8a8a00" stroke="#8a8a00" stroke-width="0.8"/>
<text x="0" y="0" transform="translate(212.7,203.6) scale(1.0,1.1)" font-size="8.4" text-anchor="start" font-weight="bold" fill="#000"  stroke="#000" stroke-width="0.2">PTS_1e18</text>
<line x1="193.5" y1="211.5" x2="209.8" y2="211.5" stroke="#0000ff" stroke-width="1.6" />
<path d="M201.65,209.19L203.96,213.15L199.34,213.15Z" fill="#0000ff" stroke="#0000ff" stroke-width="0.8"/>
<text x="0" y="0" transform="translate(212.7,214.5) scale(1.0,1.1)" font-size="8.4" text-anchor="start" font-weight="bold" fill="#000"  stroke="#000" stroke-width="0.2">PTS_5e18</text>
<rect x="33.3" y="4.8" width="155.6" height="108.4" fill="none" stroke="#000" stroke-width="1.9"/>
<rect x="188.9" y="4.8" width="155" height="108.4" fill="none" stroke="#000" stroke-width="1.9"/>
<rect x="33.3" y="113.2" width="155.6" height="108.1" fill="none" stroke="#000" stroke-width="1.9"/>
<rect x="188.9" y="113.2" width="155" height="108.1" fill="none" stroke="#000" stroke-width="1.9"/>
<line x1="34.2" y1="111.69" x2="35.5" y2="111.69" stroke="#000" stroke-width="0.7" />
<line x1="34.2" y1="111.2" x2="35.5" y2="111.2" stroke="#000" stroke-width="0.7" />
<line x1="34.2" y1="110.75" x2="36.8" y2="110.75" stroke="#000" stroke-width="0.9" />
<line x1="34.2" y1="107.81" x2="35.5" y2="107.81" stroke="#000" stroke-width="0.7" />
<line x1="34.2" y1="106.1" x2="35.5" y2="106.1" stroke="#000" stroke-width="0.7" />
<line x1="34.2" y1="104.88" x2="35.5" y2="104.88" stroke="#000" stroke-width="0.7" />
<line x1="34.2" y1="103.94" x2="35.5" y2="103.94" stroke="#000" stroke-width="0.7" />
<line x1="34.2" y1="103.16" x2="35.5" y2="103.16" stroke="#000" stroke-width="0.7" />
<line x1="34.2" y1="102.51" x2="35.5" y2="102.51" stroke="#000" stroke-width="0.7" />
<line x1="34.2" y1="101.94" x2="35.5" y2="101.94" stroke="#000" stroke-width="0.7" />
<line x1="34.2" y1="101.45" x2="35.5" y2="101.45" stroke="#000" stroke-width="0.7" />
<line x1="34.2" y1="101" x2="36.8" y2="101" stroke="#000" stroke-width="0.9" />
<line x1="34.2" y1="98.06" x2="35.5" y2="98.06" stroke="#000" stroke-width="0.7" />
<line x1="34.2" y1="96.35" x2="35.5" y2="96.35" stroke="#000" stroke-width="0.7" />
<line x1="34.2" y1="95.13" x2="35.5" y2="95.13" stroke="#000" stroke-width="0.7" />
<line x1="34.2" y1="94.19" x2="35.5" y2="94.19" stroke="#000" stroke-width="0.7" />
<line x1="34.2" y1="93.41" x2="35.5" y2="93.41" stroke="#000" stroke-width="0.7" />
<line x1="34.2" y1="92.76" x2="35.5" y2="92.76" stroke="#000" stroke-width="0.7" />
<line x1="34.2" y1="92.19" x2="35.5" y2="92.19" stroke="#000" stroke-width="0.7" />
<line x1="34.2" y1="91.7" x2="35.5" y2="91.7" stroke="#000" stroke-width="0.7" />
<line x1="34.2" y1="91.25" x2="36.8" y2="91.25" stroke="#000" stroke-width="0.9" />
<line x1="34.2" y1="88.31" x2="35.5" y2="88.31" stroke="#000" stroke-width="0.7" />
<line x1="34.2" y1="86.6" x2="35.5" y2="86.6" stroke="#000" stroke-width="0.7" />
<line x1="34.2" y1="85.38" x2="35.5" y2="85.38" stroke="#000" stroke-width="0.7" />
<line x1="34.2" y1="84.44" x2="35.5" y2="84.44" stroke="#000" stroke-width="0.7" />
<line x1="34.2" y1="83.66" x2="35.5" y2="83.66" stroke="#000" stroke-width="0.7" />
<line x1="34.2" y1="83.01" x2="35.5" y2="83.01" stroke="#000" stroke-width="0.7" />
<line x1="34.2" y1="82.44" x2="35.5" y2="82.44" stroke="#000" stroke-width="0.7" />
<line x1="34.2" y1="81.95" x2="35.5" y2="81.95" stroke="#000" stroke-width="0.7" />
<line x1="34.2" y1="81.5" x2="36.8" y2="81.5" stroke="#000" stroke-width="0.9" />
<line x1="34.2" y1="78.56" x2="35.5" y2="78.56" stroke="#000" stroke-width="0.7" />
<line x1="34.2" y1="76.85" x2="35.5" y2="76.85" stroke="#000" stroke-width="0.7" />
<line x1="34.2" y1="75.63" x2="35.5" y2="75.63" stroke="#000" stroke-width="0.7" />
<line x1="34.2" y1="74.69" x2="35.5" y2="74.69" stroke="#000" stroke-width="0.7" />
<line x1="34.2" y1="73.91" x2="35.5" y2="73.91" stroke="#000" stroke-width="0.7" />
<line x1="34.2" y1="73.26" x2="35.5" y2="73.26" stroke="#000" stroke-width="0.7" />
<line x1="34.2" y1="72.69" x2="35.5" y2="72.69" stroke="#000" stroke-width="0.7" />
<line x1="34.2" y1="72.2" x2="35.5" y2="72.2" stroke="#000" stroke-width="0.7" />
<line x1="34.2" y1="71.75" x2="36.8" y2="71.75" stroke="#000" stroke-width="0.9" />
<line x1="34.2" y1="68.81" x2="35.5" y2="68.81" stroke="#000" stroke-width="0.7" />
<line x1="34.2" y1="67.1" x2="35.5" y2="67.1" stroke="#000" stroke-width="0.7" />
<line x1="34.2" y1="65.88" x2="35.5" y2="65.88" stroke="#000" stroke-width="0.7" />
<line x1="34.2" y1="64.94" x2="35.5" y2="64.94" stroke="#000" stroke-width="0.7" />
<line x1="34.2" y1="64.16" x2="35.5" y2="64.16" stroke="#000" stroke-width="0.7" />
<line x1="34.2" y1="63.51" x2="35.5" y2="63.51" stroke="#000" stroke-width="0.7" />
<line x1="34.2" y1="62.94" x2="35.5" y2="62.94" stroke="#000" stroke-width="0.7" />
<line x1="34.2" y1="62.45" x2="35.5" y2="62.45" stroke="#000" stroke-width="0.7" />
<line x1="34.2" y1="62" x2="36.8" y2="62" stroke="#000" stroke-width="0.9" />
<line x1="34.2" y1="59.06" x2="35.5" y2="59.06" stroke="#000" stroke-width="0.7" />
<line x1="34.2" y1="57.35" x2="35.5" y2="57.35" stroke="#000" stroke-width="0.7" />
<line x1="34.2" y1="56.13" x2="35.5" y2="56.13" stroke="#000" stroke-width="0.7" />
<line x1="34.2" y1="55.19" x2="35.5" y2="55.19" stroke="#000" stroke-width="0.7" />
<line x1="34.2" y1="54.41" x2="35.5" y2="54.41" stroke="#000" stroke-width="0.7" />
<line x1="34.2" y1="53.76" x2="35.5" y2="53.76" stroke="#000" stroke-width="0.7" />
<line x1="34.2" y1="53.19" x2="35.5" y2="53.19" stroke="#000" stroke-width="0.7" />
<line x1="34.2" y1="52.7" x2="35.5" y2="52.7" stroke="#000" stroke-width="0.7" />
<line x1="34.2" y1="52.25" x2="36.8" y2="52.25" stroke="#000" stroke-width="0.9" />
<line x1="34.2" y1="49.31" x2="35.5" y2="49.31" stroke="#000" stroke-width="0.7" />
<line x1="34.2" y1="47.6" x2="35.5" y2="47.6" stroke="#000" stroke-width="0.7" />
<line x1="34.2" y1="46.38" x2="35.5" y2="46.38" stroke="#000" stroke-width="0.7" />
<line x1="34.2" y1="45.44" x2="35.5" y2="45.44" stroke="#000" stroke-width="0.7" />
<line x1="34.2" y1="44.66" x2="35.5" y2="44.66" stroke="#000" stroke-width="0.7" />
<line x1="34.2" y1="44.01" x2="35.5" y2="44.01" stroke="#000" stroke-width="0.7" />
<line x1="34.2" y1="43.44" x2="35.5" y2="43.44" stroke="#000" stroke-width="0.7" />
<line x1="34.2" y1="42.95" x2="35.5" y2="42.95" stroke="#000" stroke-width="0.7" />
<line x1="34.2" y1="42.5" x2="36.8" y2="42.5" stroke="#000" stroke-width="0.9" />
<line x1="34.2" y1="39.56" x2="35.5" y2="39.56" stroke="#000" stroke-width="0.7" />
<line x1="34.2" y1="37.85" x2="35.5" y2="37.85" stroke="#000" stroke-width="0.7" />
<line x1="34.2" y1="36.63" x2="35.5" y2="36.63" stroke="#000" stroke-width="0.7" />
<line x1="34.2" y1="35.69" x2="35.5" y2="35.69" stroke="#000" stroke-width="0.7" />
<line x1="34.2" y1="34.91" x2="35.5" y2="34.91" stroke="#000" stroke-width="0.7" />
<line x1="34.2" y1="34.26" x2="35.5" y2="34.26" stroke="#000" stroke-width="0.7" />
<line x1="34.2" y1="33.69" x2="35.5" y2="33.69" stroke="#000" stroke-width="0.7" />
<line x1="34.2" y1="33.2" x2="35.5" y2="33.2" stroke="#000" stroke-width="0.7" />
<line x1="34.2" y1="32.75" x2="36.8" y2="32.75" stroke="#000" stroke-width="0.9" />
<line x1="34.2" y1="29.81" x2="35.5" y2="29.81" stroke="#000" stroke-width="0.7" />
<line x1="34.2" y1="28.1" x2="35.5" y2="28.1" stroke="#000" stroke-width="0.7" />
<line x1="34.2" y1="26.88" x2="35.5" y2="26.88" stroke="#000" stroke-width="0.7" />
<line x1="34.2" y1="25.94" x2="35.5" y2="25.94" stroke="#000" stroke-width="0.7" />
<line x1="34.2" y1="25.16" x2="35.5" y2="25.16" stroke="#000" stroke-width="0.7" />
<line x1="34.2" y1="24.51" x2="35.5" y2="24.51" stroke="#000" stroke-width="0.7" />
<line x1="34.2" y1="23.94" x2="35.5" y2="23.94" stroke="#000" stroke-width="0.7" />
<line x1="34.2" y1="23.45" x2="35.5" y2="23.45" stroke="#000" stroke-width="0.7" />
<line x1="34.2" y1="23" x2="36.8" y2="23" stroke="#000" stroke-width="0.9" />
<line x1="34.2" y1="20.06" x2="35.5" y2="20.06" stroke="#000" stroke-width="0.7" />
<line x1="34.2" y1="18.35" x2="35.5" y2="18.35" stroke="#000" stroke-width="0.7" />
<line x1="34.2" y1="17.13" x2="35.5" y2="17.13" stroke="#000" stroke-width="0.7" />
<line x1="34.2" y1="16.19" x2="35.5" y2="16.19" stroke="#000" stroke-width="0.7" />
<line x1="34.2" y1="15.41" x2="35.5" y2="15.41" stroke="#000" stroke-width="0.7" />
<line x1="34.2" y1="14.76" x2="35.5" y2="14.76" stroke="#000" stroke-width="0.7" />
<line x1="34.2" y1="14.19" x2="35.5" y2="14.19" stroke="#000" stroke-width="0.7" />
<line x1="34.2" y1="13.7" x2="35.5" y2="13.7" stroke="#000" stroke-width="0.7" />
<line x1="34.2" y1="13.25" x2="36.8" y2="13.25" stroke="#000" stroke-width="0.9" />
<line x1="34.2" y1="10.31" x2="35.5" y2="10.31" stroke="#000" stroke-width="0.7" />
<line x1="34.2" y1="8.6" x2="35.5" y2="8.6" stroke="#000" stroke-width="0.7" />
<line x1="34.2" y1="7.38" x2="35.5" y2="7.38" stroke="#000" stroke-width="0.7" />
<line x1="34.2" y1="6.44" x2="35.5" y2="6.44" stroke="#000" stroke-width="0.7" />
<line x1="34.2" y1="220.1" x2="36.8" y2="220.1" stroke="#000" stroke-width="0.9" />
<line x1="34.2" y1="216.4" x2="35.5" y2="216.4" stroke="#000" stroke-width="0.7" />
<line x1="34.2" y1="214.23" x2="35.5" y2="214.23" stroke="#000" stroke-width="0.7" />
<line x1="34.2" y1="212.69" x2="35.5" y2="212.69" stroke="#000" stroke-width="0.7" />
<line x1="34.2" y1="211.5" x2="35.5" y2="211.5" stroke="#000" stroke-width="0.7" />
<line x1="34.2" y1="210.53" x2="35.5" y2="210.53" stroke="#000" stroke-width="0.7" />
<line x1="34.2" y1="209.71" x2="35.5" y2="209.71" stroke="#000" stroke-width="0.7" />
<line x1="34.2" y1="208.99" x2="35.5" y2="208.99" stroke="#000" stroke-width="0.7" />
<line x1="34.2" y1="208.36" x2="35.5" y2="208.36" stroke="#000" stroke-width="0.7" />
<line x1="34.2" y1="207.8" x2="36.8" y2="207.8" stroke="#000" stroke-width="0.9" />
<line x1="34.2" y1="204.1" x2="35.5" y2="204.1" stroke="#000" stroke-width="0.7" />
<line x1="34.2" y1="201.93" x2="35.5" y2="201.93" stroke="#000" stroke-width="0.7" />
<line x1="34.2" y1="200.39" x2="35.5" y2="200.39" stroke="#000" stroke-width="0.7" />
<line x1="34.2" y1="199.2" x2="35.5" y2="199.2" stroke="#000" stroke-width="0.7" />
<line x1="34.2" y1="198.23" x2="35.5" y2="198.23" stroke="#000" stroke-width="0.7" />
<line x1="34.2" y1="197.41" x2="35.5" y2="197.41" stroke="#000" stroke-width="0.7" />
<line x1="34.2" y1="196.69" x2="35.5" y2="196.69" stroke="#000" stroke-width="0.7" />
<line x1="34.2" y1="196.06" x2="35.5" y2="196.06" stroke="#000" stroke-width="0.7" />
<line x1="34.2" y1="195.5" x2="36.8" y2="195.5" stroke="#000" stroke-width="0.9" />
<line x1="34.2" y1="191.8" x2="35.5" y2="191.8" stroke="#000" stroke-width="0.7" />
<line x1="34.2" y1="189.63" x2="35.5" y2="189.63" stroke="#000" stroke-width="0.7" />
<line x1="34.2" y1="188.09" x2="35.5" y2="188.09" stroke="#000" stroke-width="0.7" />
<line x1="34.2" y1="186.9" x2="35.5" y2="186.9" stroke="#000" stroke-width="0.7" />
<line x1="34.2" y1="185.93" x2="35.5" y2="185.93" stroke="#000" stroke-width="0.7" />
<line x1="34.2" y1="185.11" x2="35.5" y2="185.11" stroke="#000" stroke-width="0.7" />
<line x1="34.2" y1="184.39" x2="35.5" y2="184.39" stroke="#000" stroke-width="0.7" />
<line x1="34.2" y1="183.76" x2="35.5" y2="183.76" stroke="#000" stroke-width="0.7" />
<line x1="34.2" y1="183.2" x2="36.8" y2="183.2" stroke="#000" stroke-width="0.9" />
<line x1="34.2" y1="179.5" x2="35.5" y2="179.5" stroke="#000" stroke-width="0.7" />
<line x1="34.2" y1="177.33" x2="35.5" y2="177.33" stroke="#000" stroke-width="0.7" />
<line x1="34.2" y1="175.79" x2="35.5" y2="175.79" stroke="#000" stroke-width="0.7" />
<line x1="34.2" y1="174.6" x2="35.5" y2="174.6" stroke="#000" stroke-width="0.7" />
<line x1="34.2" y1="173.63" x2="35.5" y2="173.63" stroke="#000" stroke-width="0.7" />
<line x1="34.2" y1="172.81" x2="35.5" y2="172.81" stroke="#000" stroke-width="0.7" />
<line x1="34.2" y1="172.09" x2="35.5" y2="172.09" stroke="#000" stroke-width="0.7" />
<line x1="34.2" y1="171.46" x2="35.5" y2="171.46" stroke="#000" stroke-width="0.7" />
<line x1="34.2" y1="170.9" x2="36.8" y2="170.9" stroke="#000" stroke-width="0.9" />
<line x1="34.2" y1="167.2" x2="35.5" y2="167.2" stroke="#000" stroke-width="0.7" />
<line x1="34.2" y1="165.03" x2="35.5" y2="165.03" stroke="#000" stroke-width="0.7" />
<line x1="34.2" y1="163.49" x2="35.5" y2="163.49" stroke="#000" stroke-width="0.7" />
<line x1="34.2" y1="162.3" x2="35.5" y2="162.3" stroke="#000" stroke-width="0.7" />
<line x1="34.2" y1="161.33" x2="35.5" y2="161.33" stroke="#000" stroke-width="0.7" />
<line x1="34.2" y1="160.51" x2="35.5" y2="160.51" stroke="#000" stroke-width="0.7" />
<line x1="34.2" y1="159.79" x2="35.5" y2="159.79" stroke="#000" stroke-width="0.7" />
<line x1="34.2" y1="159.16" x2="35.5" y2="159.16" stroke="#000" stroke-width="0.7" />
<line x1="34.2" y1="158.6" x2="36.8" y2="158.6" stroke="#000" stroke-width="0.9" />
<line x1="34.2" y1="154.9" x2="35.5" y2="154.9" stroke="#000" stroke-width="0.7" />
<line x1="34.2" y1="152.73" x2="35.5" y2="152.73" stroke="#000" stroke-width="0.7" />
<line x1="34.2" y1="151.19" x2="35.5" y2="151.19" stroke="#000" stroke-width="0.7" />
<line x1="34.2" y1="150" x2="35.5" y2="150" stroke="#000" stroke-width="0.7" />
<line x1="34.2" y1="149.03" x2="35.5" y2="149.03" stroke="#000" stroke-width="0.7" />
<line x1="34.2" y1="148.21" x2="35.5" y2="148.21" stroke="#000" stroke-width="0.7" />
<line x1="34.2" y1="147.49" x2="35.5" y2="147.49" stroke="#000" stroke-width="0.7" />
<line x1="34.2" y1="146.86" x2="35.5" y2="146.86" stroke="#000" stroke-width="0.7" />
<line x1="34.2" y1="146.3" x2="36.8" y2="146.3" stroke="#000" stroke-width="0.9" />
<line x1="34.2" y1="142.6" x2="35.5" y2="142.6" stroke="#000" stroke-width="0.7" />
<line x1="34.2" y1="140.43" x2="35.5" y2="140.43" stroke="#000" stroke-width="0.7" />
<line x1="34.2" y1="138.89" x2="35.5" y2="138.89" stroke="#000" stroke-width="0.7" />
<line x1="34.2" y1="137.7" x2="35.5" y2="137.7" stroke="#000" stroke-width="0.7" />
<line x1="34.2" y1="136.73" x2="35.5" y2="136.73" stroke="#000" stroke-width="0.7" />
<line x1="34.2" y1="135.91" x2="35.5" y2="135.91" stroke="#000" stroke-width="0.7" />
<line x1="34.2" y1="135.19" x2="35.5" y2="135.19" stroke="#000" stroke-width="0.7" />
<line x1="34.2" y1="134.56" x2="35.5" y2="134.56" stroke="#000" stroke-width="0.7" />
<line x1="34.2" y1="134" x2="36.8" y2="134" stroke="#000" stroke-width="0.9" />
<line x1="34.2" y1="130.3" x2="35.5" y2="130.3" stroke="#000" stroke-width="0.7" />
<line x1="34.2" y1="128.13" x2="35.5" y2="128.13" stroke="#000" stroke-width="0.7" />
<line x1="34.2" y1="126.59" x2="35.5" y2="126.59" stroke="#000" stroke-width="0.7" />
<line x1="34.2" y1="125.4" x2="35.5" y2="125.4" stroke="#000" stroke-width="0.7" />
<line x1="34.2" y1="124.43" x2="35.5" y2="124.43" stroke="#000" stroke-width="0.7" />
<line x1="34.2" y1="123.61" x2="35.5" y2="123.61" stroke="#000" stroke-width="0.7" />
<line x1="34.2" y1="122.89" x2="35.5" y2="122.89" stroke="#000" stroke-width="0.7" />
<line x1="34.2" y1="122.26" x2="35.5" y2="122.26" stroke="#000" stroke-width="0.7" />
<line x1="34.2" y1="121.7" x2="36.8" y2="121.7" stroke="#000" stroke-width="0.9" />
<line x1="34.2" y1="118" x2="35.5" y2="118" stroke="#000" stroke-width="0.7" />
<line x1="34.2" y1="115.83" x2="35.5" y2="115.83" stroke="#000" stroke-width="0.7" />
<line x1="34.2" y1="114.29" x2="35.5" y2="114.29" stroke="#000" stroke-width="0.7" />
<line x1="189.8" y1="111.69" x2="191.1" y2="111.69" stroke="#000" stroke-width="0.7" />
<line x1="189.8" y1="111.2" x2="191.1" y2="111.2" stroke="#000" stroke-width="0.7" />
<line x1="189.8" y1="110.75" x2="192.4" y2="110.75" stroke="#000" stroke-width="0.9" />
<line x1="189.8" y1="107.81" x2="191.1" y2="107.81" stroke="#000" stroke-width="0.7" />
<line x1="189.8" y1="106.1" x2="191.1" y2="106.1" stroke="#000" stroke-width="0.7" />
<line x1="189.8" y1="104.88" x2="191.1" y2="104.88" stroke="#000" stroke-width="0.7" />
<line x1="189.8" y1="103.94" x2="191.1" y2="103.94" stroke="#000" stroke-width="0.7" />
<line x1="189.8" y1="103.16" x2="191.1" y2="103.16" stroke="#000" stroke-width="0.7" />
<line x1="189.8" y1="102.51" x2="191.1" y2="102.51" stroke="#000" stroke-width="0.7" />
<line x1="189.8" y1="101.94" x2="191.1" y2="101.94" stroke="#000" stroke-width="0.7" />
<line x1="189.8" y1="101.45" x2="191.1" y2="101.45" stroke="#000" stroke-width="0.7" />
<line x1="189.8" y1="101" x2="192.4" y2="101" stroke="#000" stroke-width="0.9" />
<line x1="189.8" y1="98.06" x2="191.1" y2="98.06" stroke="#000" stroke-width="0.7" />
<line x1="189.8" y1="96.35" x2="191.1" y2="96.35" stroke="#000" stroke-width="0.7" />
<line x1="189.8" y1="95.13" x2="191.1" y2="95.13" stroke="#000" stroke-width="0.7" />
<line x1="189.8" y1="94.19" x2="191.1" y2="94.19" stroke="#000" stroke-width="0.7" />
<line x1="189.8" y1="93.41" x2="191.1" y2="93.41" stroke="#000" stroke-width="0.7" />
<line x1="189.8" y1="92.76" x2="191.1" y2="92.76" stroke="#000" stroke-width="0.7" />
<line x1="189.8" y1="92.19" x2="191.1" y2="92.19" stroke="#000" stroke-width="0.7" />
<line x1="189.8" y1="91.7" x2="191.1" y2="91.7" stroke="#000" stroke-width="0.7" />
<line x1="189.8" y1="91.25" x2="192.4" y2="91.25" stroke="#000" stroke-width="0.9" />
<line x1="189.8" y1="88.31" x2="191.1" y2="88.31" stroke="#000" stroke-width="0.7" />
<line x1="189.8" y1="86.6" x2="191.1" y2="86.6" stroke="#000" stroke-width="0.7" />
<line x1="189.8" y1="85.38" x2="191.1" y2="85.38" stroke="#000" stroke-width="0.7" />
<line x1="189.8" y1="84.44" x2="191.1" y2="84.44" stroke="#000" stroke-width="0.7" />
<line x1="189.8" y1="83.66" x2="191.1" y2="83.66" stroke="#000" stroke-width="0.7" />
<line x1="189.8" y1="83.01" x2="191.1" y2="83.01" stroke="#000" stroke-width="0.7" />
<line x1="189.8" y1="82.44" x2="191.1" y2="82.44" stroke="#000" stroke-width="0.7" />
<line x1="189.8" y1="81.95" x2="191.1" y2="81.95" stroke="#000" stroke-width="0.7" />
<line x1="189.8" y1="81.5" x2="192.4" y2="81.5" stroke="#000" stroke-width="0.9" />
<line x1="189.8" y1="78.56" x2="191.1" y2="78.56" stroke="#000" stroke-width="0.7" />
<line x1="189.8" y1="76.85" x2="191.1" y2="76.85" stroke="#000" stroke-width="0.7" />
<line x1="189.8" y1="75.63" x2="191.1" y2="75.63" stroke="#000" stroke-width="0.7" />
<line x1="189.8" y1="74.69" x2="191.1" y2="74.69" stroke="#000" stroke-width="0.7" />
<line x1="189.8" y1="73.91" x2="191.1" y2="73.91" stroke="#000" stroke-width="0.7" />
<line x1="189.8" y1="73.26" x2="191.1" y2="73.26" stroke="#000" stroke-width="0.7" />
<line x1="189.8" y1="72.69" x2="191.1" y2="72.69" stroke="#000" stroke-width="0.7" />
<line x1="189.8" y1="72.2" x2="191.1" y2="72.2" stroke="#000" stroke-width="0.7" />
<line x1="189.8" y1="71.75" x2="192.4" y2="71.75" stroke="#000" stroke-width="0.9" />
<line x1="189.8" y1="68.81" x2="191.1" y2="68.81" stroke="#000" stroke-width="0.7" />
<line x1="189.8" y1="67.1" x2="191.1" y2="67.1" stroke="#000" stroke-width="0.7" />
<line x1="189.8" y1="65.88" x2="191.1" y2="65.88" stroke="#000" stroke-width="0.7" />
<line x1="189.8" y1="64.94" x2="191.1" y2="64.94" stroke="#000" stroke-width="0.7" />
<line x1="189.8" y1="64.16" x2="191.1" y2="64.16" stroke="#000" stroke-width="0.7" />
<line x1="189.8" y1="63.51" x2="191.1" y2="63.51" stroke="#000" stroke-width="0.7" />
<line x1="189.8" y1="62.94" x2="191.1" y2="62.94" stroke="#000" stroke-width="0.7" />
<line x1="189.8" y1="62.45" x2="191.1" y2="62.45" stroke="#000" stroke-width="0.7" />
<line x1="189.8" y1="62" x2="192.4" y2="62" stroke="#000" stroke-width="0.9" />
<line x1="189.8" y1="59.06" x2="191.1" y2="59.06" stroke="#000" stroke-width="0.7" />
<line x1="189.8" y1="57.35" x2="191.1" y2="57.35" stroke="#000" stroke-width="0.7" />
<line x1="189.8" y1="56.13" x2="191.1" y2="56.13" stroke="#000" stroke-width="0.7" />
<line x1="189.8" y1="55.19" x2="191.1" y2="55.19" stroke="#000" stroke-width="0.7" />
<line x1="189.8" y1="54.41" x2="191.1" y2="54.41" stroke="#000" stroke-width="0.7" />
<line x1="189.8" y1="53.76" x2="191.1" y2="53.76" stroke="#000" stroke-width="0.7" />
<line x1="189.8" y1="53.19" x2="191.1" y2="53.19" stroke="#000" stroke-width="0.7" />
<line x1="189.8" y1="52.7" x2="191.1" y2="52.7" stroke="#000" stroke-width="0.7" />
<line x1="189.8" y1="52.25" x2="192.4" y2="52.25" stroke="#000" stroke-width="0.9" />
<line x1="189.8" y1="49.31" x2="191.1" y2="49.31" stroke="#000" stroke-width="0.7" />
<line x1="189.8" y1="47.6" x2="191.1" y2="47.6" stroke="#000" stroke-width="0.7" />
<line x1="189.8" y1="46.38" x2="191.1" y2="46.38" stroke="#000" stroke-width="0.7" />
<line x1="189.8" y1="45.44" x2="191.1" y2="45.44" stroke="#000" stroke-width="0.7" />
<line x1="189.8" y1="44.66" x2="191.1" y2="44.66" stroke="#000" stroke-width="0.7" />
<line x1="189.8" y1="44.01" x2="191.1" y2="44.01" stroke="#000" stroke-width="0.7" />
<line x1="189.8" y1="43.44" x2="191.1" y2="43.44" stroke="#000" stroke-width="0.7" />
<line x1="189.8" y1="42.95" x2="191.1" y2="42.95" stroke="#000" stroke-width="0.7" />
<line x1="189.8" y1="42.5" x2="192.4" y2="42.5" stroke="#000" stroke-width="0.9" />
<line x1="189.8" y1="39.56" x2="191.1" y2="39.56" stroke="#000" stroke-width="0.7" />
<line x1="189.8" y1="37.85" x2="191.1" y2="37.85" stroke="#000" stroke-width="0.7" />
<line x1="189.8" y1="36.63" x2="191.1" y2="36.63" stroke="#000" stroke-width="0.7" />
<line x1="189.8" y1="35.69" x2="191.1" y2="35.69" stroke="#000" stroke-width="0.7" />
<line x1="189.8" y1="34.91" x2="191.1" y2="34.91" stroke="#000" stroke-width="0.7" />
<line x1="189.8" y1="34.26" x2="191.1" y2="34.26" stroke="#000" stroke-width="0.7" />
<line x1="189.8" y1="33.69" x2="191.1" y2="33.69" stroke="#000" stroke-width="0.7" />
<line x1="189.8" y1="33.2" x2="191.1" y2="33.2" stroke="#000" stroke-width="0.7" />
<line x1="189.8" y1="32.75" x2="192.4" y2="32.75" stroke="#000" stroke-width="0.9" />
<line x1="189.8" y1="29.81" x2="191.1" y2="29.81" stroke="#000" stroke-width="0.7" />
<line x1="189.8" y1="28.1" x2="191.1" y2="28.1" stroke="#000" stroke-width="0.7" />
<line x1="189.8" y1="26.88" x2="191.1" y2="26.88" stroke="#000" stroke-width="0.7" />
<line x1="189.8" y1="25.94" x2="191.1" y2="25.94" stroke="#000" stroke-width="0.7" />
<line x1="189.8" y1="25.16" x2="191.1" y2="25.16" stroke="#000" stroke-width="0.7" />
<line x1="189.8" y1="24.51" x2="191.1" y2="24.51" stroke="#000" stroke-width="0.7" />
<line x1="189.8" y1="23.94" x2="191.1" y2="23.94" stroke="#000" stroke-width="0.7" />
<line x1="189.8" y1="23.45" x2="191.1" y2="23.45" stroke="#000" stroke-width="0.7" />
<line x1="189.8" y1="23" x2="192.4" y2="23" stroke="#000" stroke-width="0.9" />
<line x1="189.8" y1="20.06" x2="191.1" y2="20.06" stroke="#000" stroke-width="0.7" />
<line x1="189.8" y1="18.35" x2="191.1" y2="18.35" stroke="#000" stroke-width="0.7" />
<line x1="189.8" y1="17.13" x2="191.1" y2="17.13" stroke="#000" stroke-width="0.7" />
<line x1="189.8" y1="16.19" x2="191.1" y2="16.19" stroke="#000" stroke-width="0.7" />
<line x1="189.8" y1="15.41" x2="191.1" y2="15.41" stroke="#000" stroke-width="0.7" />
<line x1="189.8" y1="14.76" x2="191.1" y2="14.76" stroke="#000" stroke-width="0.7" />
<line x1="189.8" y1="14.19" x2="191.1" y2="14.19" stroke="#000" stroke-width="0.7" />
<line x1="189.8" y1="13.7" x2="191.1" y2="13.7" stroke="#000" stroke-width="0.7" />
<line x1="189.8" y1="13.25" x2="192.4" y2="13.25" stroke="#000" stroke-width="0.9" />
<line x1="189.8" y1="10.31" x2="191.1" y2="10.31" stroke="#000" stroke-width="0.7" />
<line x1="189.8" y1="8.6" x2="191.1" y2="8.6" stroke="#000" stroke-width="0.7" />
<line x1="189.8" y1="7.38" x2="191.1" y2="7.38" stroke="#000" stroke-width="0.7" />
<line x1="189.8" y1="6.44" x2="191.1" y2="6.44" stroke="#000" stroke-width="0.7" />
<line x1="189.8" y1="220.1" x2="192.4" y2="220.1" stroke="#000" stroke-width="0.9" />
<line x1="189.8" y1="216.4" x2="191.1" y2="216.4" stroke="#000" stroke-width="0.7" />
<line x1="189.8" y1="214.23" x2="191.1" y2="214.23" stroke="#000" stroke-width="0.7" />
<line x1="189.8" y1="212.69" x2="191.1" y2="212.69" stroke="#000" stroke-width="0.7" />
<line x1="189.8" y1="211.5" x2="191.1" y2="211.5" stroke="#000" stroke-width="0.7" />
<line x1="189.8" y1="210.53" x2="191.1" y2="210.53" stroke="#000" stroke-width="0.7" />
<line x1="189.8" y1="209.71" x2="191.1" y2="209.71" stroke="#000" stroke-width="0.7" />
<line x1="189.8" y1="208.99" x2="191.1" y2="208.99" stroke="#000" stroke-width="0.7" />
<line x1="189.8" y1="208.36" x2="191.1" y2="208.36" stroke="#000" stroke-width="0.7" />
<line x1="189.8" y1="207.8" x2="192.4" y2="207.8" stroke="#000" stroke-width="0.9" />
<line x1="189.8" y1="204.1" x2="191.1" y2="204.1" stroke="#000" stroke-width="0.7" />
<line x1="189.8" y1="201.93" x2="191.1" y2="201.93" stroke="#000" stroke-width="0.7" />
<line x1="189.8" y1="200.39" x2="191.1" y2="200.39" stroke="#000" stroke-width="0.7" />
<line x1="189.8" y1="199.2" x2="191.1" y2="199.2" stroke="#000" stroke-width="0.7" />
<line x1="189.8" y1="198.23" x2="191.1" y2="198.23" stroke="#000" stroke-width="0.7" />
<line x1="189.8" y1="197.41" x2="191.1" y2="197.41" stroke="#000" stroke-width="0.7" />
<line x1="189.8" y1="196.69" x2="191.1" y2="196.69" stroke="#000" stroke-width="0.7" />
<line x1="189.8" y1="196.06" x2="191.1" y2="196.06" stroke="#000" stroke-width="0.7" />
<line x1="189.8" y1="195.5" x2="192.4" y2="195.5" stroke="#000" stroke-width="0.9" />
<line x1="189.8" y1="191.8" x2="191.1" y2="191.8" stroke="#000" stroke-width="0.7" />
<line x1="189.8" y1="189.63" x2="191.1" y2="189.63" stroke="#000" stroke-width="0.7" />
<line x1="189.8" y1="188.09" x2="191.1" y2="188.09" stroke="#000" stroke-width="0.7" />
<line x1="189.8" y1="186.9" x2="191.1" y2="186.9" stroke="#000" stroke-width="0.7" />
<line x1="189.8" y1="185.93" x2="191.1" y2="185.93" stroke="#000" stroke-width="0.7" />
<line x1="189.8" y1="185.11" x2="191.1" y2="185.11" stroke="#000" stroke-width="0.7" />
<line x1="189.8" y1="184.39" x2="191.1" y2="184.39" stroke="#000" stroke-width="0.7" />
<line x1="189.8" y1="183.76" x2="191.1" y2="183.76" stroke="#000" stroke-width="0.7" />
<line x1="189.8" y1="183.2" x2="192.4" y2="183.2" stroke="#000" stroke-width="0.9" />
<line x1="189.8" y1="179.5" x2="191.1" y2="179.5" stroke="#000" stroke-width="0.7" />
<line x1="189.8" y1="177.33" x2="191.1" y2="177.33" stroke="#000" stroke-width="0.7" />
<line x1="189.8" y1="175.79" x2="191.1" y2="175.79" stroke="#000" stroke-width="0.7" />
<line x1="189.8" y1="174.6" x2="191.1" y2="174.6" stroke="#000" stroke-width="0.7" />
<line x1="189.8" y1="173.63" x2="191.1" y2="173.63" stroke="#000" stroke-width="0.7" />
<line x1="189.8" y1="172.81" x2="191.1" y2="172.81" stroke="#000" stroke-width="0.7" />
<line x1="189.8" y1="172.09" x2="191.1" y2="172.09" stroke="#000" stroke-width="0.7" />
<line x1="189.8" y1="171.46" x2="191.1" y2="171.46" stroke="#000" stroke-width="0.7" />
<line x1="189.8" y1="170.9" x2="192.4" y2="170.9" stroke="#000" stroke-width="0.9" />
<line x1="189.8" y1="167.2" x2="191.1" y2="167.2" stroke="#000" stroke-width="0.7" />
<line x1="189.8" y1="165.03" x2="191.1" y2="165.03" stroke="#000" stroke-width="0.7" />
<line x1="189.8" y1="163.49" x2="191.1" y2="163.49" stroke="#000" stroke-width="0.7" />
<line x1="189.8" y1="162.3" x2="191.1" y2="162.3" stroke="#000" stroke-width="0.7" />
<line x1="189.8" y1="161.33" x2="191.1" y2="161.33" stroke="#000" stroke-width="0.7" />
<line x1="189.8" y1="160.51" x2="191.1" y2="160.51" stroke="#000" stroke-width="0.7" />
<line x1="189.8" y1="159.79" x2="191.1" y2="159.79" stroke="#000" stroke-width="0.7" />
<line x1="189.8" y1="159.16" x2="191.1" y2="159.16" stroke="#000" stroke-width="0.7" />
<line x1="189.8" y1="158.6" x2="192.4" y2="158.6" stroke="#000" stroke-width="0.9" />
<line x1="189.8" y1="154.9" x2="191.1" y2="154.9" stroke="#000" stroke-width="0.7" />
<line x1="189.8" y1="152.73" x2="191.1" y2="152.73" stroke="#000" stroke-width="0.7" />
<line x1="189.8" y1="151.19" x2="191.1" y2="151.19" stroke="#000" stroke-width="0.7" />
<line x1="189.8" y1="150" x2="191.1" y2="150" stroke="#000" stroke-width="0.7" />
<line x1="189.8" y1="149.03" x2="191.1" y2="149.03" stroke="#000" stroke-width="0.7" />
<line x1="189.8" y1="148.21" x2="191.1" y2="148.21" stroke="#000" stroke-width="0.7" />
<line x1="189.8" y1="147.49" x2="191.1" y2="147.49" stroke="#000" stroke-width="0.7" />
<line x1="189.8" y1="146.86" x2="191.1" y2="146.86" stroke="#000" stroke-width="0.7" />
<line x1="189.8" y1="146.3" x2="192.4" y2="146.3" stroke="#000" stroke-width="0.9" />
<line x1="189.8" y1="142.6" x2="191.1" y2="142.6" stroke="#000" stroke-width="0.7" />
<line x1="189.8" y1="140.43" x2="191.1" y2="140.43" stroke="#000" stroke-width="0.7" />
<line x1="189.8" y1="138.89" x2="191.1" y2="138.89" stroke="#000" stroke-width="0.7" />
<line x1="189.8" y1="137.7" x2="191.1" y2="137.7" stroke="#000" stroke-width="0.7" />
<line x1="189.8" y1="136.73" x2="191.1" y2="136.73" stroke="#000" stroke-width="0.7" />
<line x1="189.8" y1="135.91" x2="191.1" y2="135.91" stroke="#000" stroke-width="0.7" />
<line x1="189.8" y1="135.19" x2="191.1" y2="135.19" stroke="#000" stroke-width="0.7" />
<line x1="189.8" y1="134.56" x2="191.1" y2="134.56" stroke="#000" stroke-width="0.7" />
<line x1="189.8" y1="134" x2="192.4" y2="134" stroke="#000" stroke-width="0.9" />
<line x1="189.8" y1="130.3" x2="191.1" y2="130.3" stroke="#000" stroke-width="0.7" />
<line x1="189.8" y1="128.13" x2="191.1" y2="128.13" stroke="#000" stroke-width="0.7" />
<line x1="189.8" y1="126.59" x2="191.1" y2="126.59" stroke="#000" stroke-width="0.7" />
<line x1="189.8" y1="125.4" x2="191.1" y2="125.4" stroke="#000" stroke-width="0.7" />
<line x1="189.8" y1="124.43" x2="191.1" y2="124.43" stroke="#000" stroke-width="0.7" />
<line x1="189.8" y1="123.61" x2="191.1" y2="123.61" stroke="#000" stroke-width="0.7" />
<line x1="189.8" y1="122.89" x2="191.1" y2="122.89" stroke="#000" stroke-width="0.7" />
<line x1="189.8" y1="122.26" x2="191.1" y2="122.26" stroke="#000" stroke-width="0.7" />
<line x1="189.8" y1="121.7" x2="192.4" y2="121.7" stroke="#000" stroke-width="0.9" />
<line x1="189.8" y1="118" x2="191.1" y2="118" stroke="#000" stroke-width="0.7" />
<line x1="189.8" y1="115.83" x2="191.1" y2="115.83" stroke="#000" stroke-width="0.7" />
<line x1="189.8" y1="114.29" x2="191.1" y2="114.29" stroke="#000" stroke-width="0.7" />
<line x1="39.4" y1="112.3" x2="39.4" y2="111" stroke="#000" stroke-width="0.9" />
<line x1="39.4" y1="220.4" x2="39.4" y2="219.1" stroke="#000" stroke-width="0.9" />
<line x1="55.1" y1="112.3" x2="55.1" y2="110.1" stroke="#000" stroke-width="0.9" />
<line x1="55.1" y1="220.4" x2="55.1" y2="218.2" stroke="#000" stroke-width="0.9" />
<line x1="70.8" y1="112.3" x2="70.8" y2="111" stroke="#000" stroke-width="0.9" />
<line x1="70.8" y1="220.4" x2="70.8" y2="219.1" stroke="#000" stroke-width="0.9" />
<line x1="86.5" y1="112.3" x2="86.5" y2="110.1" stroke="#000" stroke-width="0.9" />
<line x1="86.5" y1="220.4" x2="86.5" y2="218.2" stroke="#000" stroke-width="0.9" />
<line x1="102.2" y1="112.3" x2="102.2" y2="111" stroke="#000" stroke-width="0.9" />
<line x1="102.2" y1="220.4" x2="102.2" y2="219.1" stroke="#000" stroke-width="0.9" />
<line x1="117.9" y1="112.3" x2="117.9" y2="110.1" stroke="#000" stroke-width="0.9" />
<line x1="117.9" y1="220.4" x2="117.9" y2="218.2" stroke="#000" stroke-width="0.9" />
<line x1="133.6" y1="112.3" x2="133.6" y2="111" stroke="#000" stroke-width="0.9" />
<line x1="133.6" y1="220.4" x2="133.6" y2="219.1" stroke="#000" stroke-width="0.9" />
<line x1="149.3" y1="112.3" x2="149.3" y2="110.1" stroke="#000" stroke-width="0.9" />
<line x1="149.3" y1="220.4" x2="149.3" y2="218.2" stroke="#000" stroke-width="0.9" />
<line x1="165" y1="112.3" x2="165" y2="111" stroke="#000" stroke-width="0.9" />
<line x1="165" y1="220.4" x2="165" y2="219.1" stroke="#000" stroke-width="0.9" />
<line x1="180.7" y1="112.3" x2="180.7" y2="110.1" stroke="#000" stroke-width="0.9" />
<line x1="180.7" y1="220.4" x2="180.7" y2="218.2" stroke="#000" stroke-width="0.9" />
<line x1="195.7" y1="112.3" x2="195.7" y2="110.1" stroke="#000" stroke-width="0.9" />
<line x1="195.7" y1="220.4" x2="195.7" y2="218.2" stroke="#000" stroke-width="0.9" />
<line x1="211.4" y1="112.3" x2="211.4" y2="111" stroke="#000" stroke-width="0.9" />
<line x1="211.4" y1="220.4" x2="211.4" y2="219.1" stroke="#000" stroke-width="0.9" />
<line x1="227.1" y1="112.3" x2="227.1" y2="110.1" stroke="#000" stroke-width="0.9" />
<line x1="227.1" y1="220.4" x2="227.1" y2="218.2" stroke="#000" stroke-width="0.9" />
<line x1="242.8" y1="112.3" x2="242.8" y2="111" stroke="#000" stroke-width="0.9" />
<line x1="242.8" y1="220.4" x2="242.8" y2="219.1" stroke="#000" stroke-width="0.9" />
<line x1="258.5" y1="112.3" x2="258.5" y2="110.1" stroke="#000" stroke-width="0.9" />
<line x1="258.5" y1="220.4" x2="258.5" y2="218.2" stroke="#000" stroke-width="0.9" />
<line x1="274.2" y1="112.3" x2="274.2" y2="111" stroke="#000" stroke-width="0.9" />
<line x1="274.2" y1="220.4" x2="274.2" y2="219.1" stroke="#000" stroke-width="0.9" />
<line x1="289.9" y1="112.3" x2="289.9" y2="110.1" stroke="#000" stroke-width="0.9" />
<line x1="289.9" y1="220.4" x2="289.9" y2="218.2" stroke="#000" stroke-width="0.9" />
<line x1="305.6" y1="112.3" x2="305.6" y2="111" stroke="#000" stroke-width="0.9" />
<line x1="305.6" y1="220.4" x2="305.6" y2="219.1" stroke="#000" stroke-width="0.9" />
<line x1="321.3" y1="112.3" x2="321.3" y2="110.1" stroke="#000" stroke-width="0.9" />
<line x1="321.3" y1="220.4" x2="321.3" y2="218.2" stroke="#000" stroke-width="0.9" />
<line x1="337" y1="112.3" x2="337" y2="111" stroke="#000" stroke-width="0.9" />
<line x1="337" y1="220.4" x2="337" y2="219.1" stroke="#000" stroke-width="0.9" />
<text x="31.2" y="26" font-size="8.6" font-weight="bold" text-anchor="end">10<tspan font-size="6.3" dy="-3.4">-6</tspan></text>
<text x="31.2" y="45.5" font-size="8.6" font-weight="bold" text-anchor="end">10<tspan font-size="6.3" dy="-3.4">-8</tspan></text>
<text x="31.2" y="65" font-size="8.6" font-weight="bold" text-anchor="end">10<tspan font-size="6.3" dy="-3.4">-10</tspan></text>
<text x="31.2" y="84.5" font-size="8.6" font-weight="bold" text-anchor="end">10<tspan font-size="6.3" dy="-3.4">-12</tspan></text>
<text x="31.2" y="104" font-size="8.6" font-weight="bold" text-anchor="end">10<tspan font-size="6.3" dy="-3.4">-14</tspan></text>
<text x="31.2" y="137" font-size="8.6" font-weight="bold" text-anchor="end">10<tspan font-size="6.3" dy="-3.4">-5</tspan></text>
<text x="31.2" y="161.6" font-size="8.6" font-weight="bold" text-anchor="end">10<tspan font-size="6.3" dy="-3.4">-7</tspan></text>
<text x="31.2" y="186.2" font-size="8.6" font-weight="bold" text-anchor="end">10<tspan font-size="6.3" dy="-3.4">-9</tspan></text>
<text x="31.2" y="210.8" font-size="8.6" font-weight="bold" text-anchor="end">10<tspan font-size="6.3" dy="-3.4">-11</tspan></text>
<text x="55.1" y="231.8" font-size="9.2" text-anchor="middle" font-weight="bold" fill="#000"  stroke="#000" stroke-width="0.2">-0.4</text>
<text x="86.5" y="231.8" font-size="9.2" text-anchor="middle" font-weight="bold" fill="#000"  stroke="#000" stroke-width="0.2">0.0</text>
<text x="117.9" y="231.8" font-size="9.2" text-anchor="middle" font-weight="bold" fill="#000"  stroke="#000" stroke-width="0.2">0.4</text>
<text x="149.3" y="231.8" font-size="9.2" text-anchor="middle" font-weight="bold" fill="#000"  stroke="#000" stroke-width="0.2">0.8</text>
<text x="180.7" y="231.8" font-size="9.2" text-anchor="middle" font-weight="bold" fill="#000"  stroke="#000" stroke-width="0.2">1.2</text>
<text x="195.7" y="231.8" font-size="9.2" text-anchor="middle" font-weight="bold" fill="#000"  stroke="#000" stroke-width="0.2">-1.2</text>
<text x="227.1" y="231.8" font-size="9.2" text-anchor="middle" font-weight="bold" fill="#000"  stroke="#000" stroke-width="0.2">-0.8</text>
<text x="258.5" y="231.8" font-size="9.2" text-anchor="middle" font-weight="bold" fill="#000"  stroke="#000" stroke-width="0.2">-0.4</text>
<text x="289.9" y="231.8" font-size="9.2" text-anchor="middle" font-weight="bold" fill="#000"  stroke="#000" stroke-width="0.2">0.0</text>
<text x="321.3" y="231.8" font-size="9.2" text-anchor="middle" font-weight="bold" fill="#000"  stroke="#000" stroke-width="0.2">0.4</text>
<text x="191.2" y="240.8" font-size="9.4" text-anchor="middle" font-weight="bold" fill="#000"  stroke="#000" stroke-width="0.2">Vgs(V)</text>
<text x="0" y="0" font-size="9.2" font-weight="bold" text-anchor="middle" transform="translate(11.3,62) rotate(-90)">Idlin(A)</text>
<text x="0" y="0" font-size="9.2" font-weight="bold" text-anchor="middle" transform="translate(11.2,171.7) rotate(-90)">Idsat(A)</text>
<line x1="42" y1="366" x2="183.6" y2="366" stroke="#d6d6d6" stroke-width="0.7" />
<line x1="42" y1="344.25" x2="183.6" y2="344.25" stroke="#d6d6d6" stroke-width="0.7" />
<line x1="42" y1="322.5" x2="183.6" y2="322.5" stroke="#d6d6d6" stroke-width="0.7" />
<line x1="42" y1="300.75" x2="183.6" y2="300.75" stroke="#d6d6d6" stroke-width="0.7" />
<line x1="42" y1="279" x2="183.6" y2="279" stroke="#d6d6d6" stroke-width="0.7" />
<polyline points="112.75,366 110.37,364.88 107.99,362.73 105.61,360.58 103.23,359.06 100.84,357.73 98.46,356.54 96.08,355.38 93.7,354.25 91.32,353.19 88.94,352.26 86.56,351.49 84.18,350.85 81.8,350.26 79.41,349.72 77.03,349.22 74.65,348.77 72.27,348.36 69.89,348 67.51,347.67 65.13,347.37 62.75,347.09 60.37,346.83 57.99,346.59 55.6,346.38 53.22,346.21 50.84,346.08" fill="none" stroke="#1a1a1a" stroke-width="0.9"/>
<circle cx="112.75" cy="366" r="1.25" fill="#fff" stroke="#1a1a1a" stroke-width="0.5"/>
<circle cx="110.37" cy="364.88" r="1.25" fill="#fff" stroke="#1a1a1a" stroke-width="0.5"/>
<circle cx="107.99" cy="362.73" r="1.25" fill="#fff" stroke="#1a1a1a" stroke-width="0.5"/>
<circle cx="105.61" cy="360.58" r="1.25" fill="#fff" stroke="#1a1a1a" stroke-width="0.5"/>
<circle cx="103.23" cy="359.06" r="1.25" fill="#fff" stroke="#1a1a1a" stroke-width="0.5"/>
<circle cx="100.84" cy="357.73" r="1.25" fill="#fff" stroke="#1a1a1a" stroke-width="0.5"/>
<circle cx="98.46" cy="356.54" r="1.25" fill="#fff" stroke="#1a1a1a" stroke-width="0.5"/>
<circle cx="96.08" cy="355.38" r="1.25" fill="#fff" stroke="#1a1a1a" stroke-width="0.5"/>
<circle cx="93.7" cy="354.25" r="1.25" fill="#fff" stroke="#1a1a1a" stroke-width="0.5"/>
<circle cx="91.32" cy="353.19" r="1.25" fill="#fff" stroke="#1a1a1a" stroke-width="0.5"/>
<circle cx="88.94" cy="352.26" r="1.25" fill="#fff" stroke="#1a1a1a" stroke-width="0.5"/>
<circle cx="86.56" cy="351.49" r="1.25" fill="#fff" stroke="#1a1a1a" stroke-width="0.5"/>
<circle cx="84.18" cy="350.85" r="1.25" fill="#fff" stroke="#1a1a1a" stroke-width="0.5"/>
<circle cx="81.8" cy="350.26" r="1.25" fill="#fff" stroke="#1a1a1a" stroke-width="0.5"/>
<circle cx="79.41" cy="349.72" r="1.25" fill="#fff" stroke="#1a1a1a" stroke-width="0.5"/>
<circle cx="77.03" cy="349.22" r="1.25" fill="#fff" stroke="#1a1a1a" stroke-width="0.5"/>
<circle cx="74.65" cy="348.77" r="1.25" fill="#fff" stroke="#1a1a1a" stroke-width="0.5"/>
<circle cx="72.27" cy="348.36" r="1.25" fill="#fff" stroke="#1a1a1a" stroke-width="0.5"/>
<circle cx="69.89" cy="348" r="1.25" fill="#fff" stroke="#1a1a1a" stroke-width="0.5"/>
<circle cx="67.51" cy="347.67" r="1.25" fill="#fff" stroke="#1a1a1a" stroke-width="0.5"/>
<circle cx="65.13" cy="347.37" r="1.25" fill="#fff" stroke="#1a1a1a" stroke-width="0.5"/>
<circle cx="62.75" cy="347.09" r="1.25" fill="#fff" stroke="#1a1a1a" stroke-width="0.5"/>
<circle cx="60.37" cy="346.83" r="1.25" fill="#fff" stroke="#1a1a1a" stroke-width="0.5"/>
<circle cx="57.99" cy="346.59" r="1.25" fill="#fff" stroke="#1a1a1a" stroke-width="0.5"/>
<circle cx="55.6" cy="346.38" r="1.25" fill="#fff" stroke="#1a1a1a" stroke-width="0.5"/>
<circle cx="53.22" cy="346.21" r="1.25" fill="#fff" stroke="#1a1a1a" stroke-width="0.5"/>
<circle cx="50.84" cy="346.08" r="1.25" fill="#fff" stroke="#1a1a1a" stroke-width="0.5"/>
<polyline points="112.75,366 110.37,365.3 107.99,364.95 105.61,364.89 103.23,364.84 100.84,364.8 98.46,364.75 96.08,364.71 93.7,364.68 91.32,364.65 88.94,364.62 86.56,364.59 84.18,364.56 81.8,364.54 79.41,364.52 77.03,364.51 74.65,364.49 72.27,364.48 69.89,364.47 67.51,364.46 65.13,364.45 62.75,364.45 60.37,364.44 57.99,364.44 55.6,364.44 53.22,364.43 50.84,364.43" fill="none" stroke="#1a1a1a" stroke-width="0.9"/>
<circle cx="112.75" cy="366" r="1.25" fill="#fff" stroke="#1a1a1a" stroke-width="0.5"/>
<circle cx="110.37" cy="365.3" r="1.25" fill="#fff" stroke="#1a1a1a" stroke-width="0.5"/>
<circle cx="107.99" cy="364.95" r="1.25" fill="#fff" stroke="#1a1a1a" stroke-width="0.5"/>
<circle cx="105.61" cy="364.89" r="1.25" fill="#fff" stroke="#1a1a1a" stroke-width="0.5"/>
<circle cx="103.23" cy="364.84" r="1.25" fill="#fff" stroke="#1a1a1a" stroke-width="0.5"/>
<circle cx="100.84" cy="364.8" r="1.25" fill="#fff" stroke="#1a1a1a" stroke-width="0.5"/>
<circle cx="98.46" cy="364.75" r="1.25" fill="#fff" stroke="#1a1a1a" stroke-width="0.5"/>
<circle cx="96.08" cy="364.71" r="1.25" fill="#fff" stroke="#1a1a1a" stroke-width="0.5"/>
<circle cx="93.7" cy="364.68" r="1.25" fill="#fff" stroke="#1a1a1a" stroke-width="0.5"/>
<circle cx="91.32" cy="364.65" r="1.25" fill="#fff" stroke="#1a1a1a" stroke-width="0.5"/>
<circle cx="88.94" cy="364.62" r="1.25" fill="#fff" stroke="#1a1a1a" stroke-width="0.5"/>
<circle cx="86.56" cy="364.59" r="1.25" fill="#fff" stroke="#1a1a1a" stroke-width="0.5"/>
<circle cx="84.18" cy="364.56" r="1.25" fill="#fff" stroke="#1a1a1a" stroke-width="0.5"/>
<circle cx="81.8" cy="364.54" r="1.25" fill="#fff" stroke="#1a1a1a" stroke-width="0.5"/>
<circle cx="79.41" cy="364.52" r="1.25" fill="#fff" stroke="#1a1a1a" stroke-width="0.5"/>
<circle cx="77.03" cy="364.51" r="1.25" fill="#fff" stroke="#1a1a1a" stroke-width="0.5"/>
<circle cx="74.65" cy="364.49" r="1.25" fill="#fff" stroke="#1a1a1a" stroke-width="0.5"/>
<circle cx="72.27" cy="364.48" r="1.25" fill="#fff" stroke="#1a1a1a" stroke-width="0.5"/>
<circle cx="69.89" cy="364.47" r="1.25" fill="#fff" stroke="#1a1a1a" stroke-width="0.5"/>
<circle cx="67.51" cy="364.46" r="1.25" fill="#fff" stroke="#1a1a1a" stroke-width="0.5"/>
<circle cx="65.13" cy="364.45" r="1.25" fill="#fff" stroke="#1a1a1a" stroke-width="0.5"/>
<circle cx="62.75" cy="364.45" r="1.25" fill="#fff" stroke="#1a1a1a" stroke-width="0.5"/>
<circle cx="60.37" cy="364.44" r="1.25" fill="#fff" stroke="#1a1a1a" stroke-width="0.5"/>
<circle cx="57.99" cy="364.44" r="1.25" fill="#fff" stroke="#1a1a1a" stroke-width="0.5"/>
<circle cx="55.6" cy="364.44" r="1.25" fill="#fff" stroke="#1a1a1a" stroke-width="0.5"/>
<circle cx="53.22" cy="364.43" r="1.25" fill="#fff" stroke="#1a1a1a" stroke-width="0.5"/>
<circle cx="50.84" cy="364.43" r="1.25" fill="#fff" stroke="#1a1a1a" stroke-width="0.5"/>
<polyline points="112.75,366 115.13,352.97 117.51,342.06 119.89,332.73 122.27,324.84 124.66,318.52 127.04,315.33 129.42,313.01 131.8,311.04 134.18,309.57 136.56,308.42 138.94,307.4 141.32,306.48 143.7,305.63 146.09,304.76 148.47,303.95 150.85,303.38 153.23,302.96 155.61,302.6 157.99,302.28 160.37,301.95 162.75,301.59 165.13,301.22 167.51,300.86 169.9,300.5 172.28,300.15 174.66,299.79" fill="none" stroke="#1a1a1a" stroke-width="1.5"/>
<circle cx="112.75" cy="366" r="1.25" fill="#fff" stroke="#1a1a1a" stroke-width="0.5"/>
<circle cx="115.13" cy="352.97" r="1.25" fill="#fff" stroke="#1a1a1a" stroke-width="0.5"/>
<circle cx="117.51" cy="342.06" r="1.25" fill="#fff" stroke="#1a1a1a" stroke-width="0.5"/>
<circle cx="119.89" cy="332.73" r="1.25" fill="#fff" stroke="#1a1a1a" stroke-width="0.5"/>
<circle cx="122.27" cy="324.84" r="1.25" fill="#fff" stroke="#1a1a1a" stroke-width="0.5"/>
<circle cx="124.66" cy="318.52" r="1.25" fill="#fff" stroke="#1a1a1a" stroke-width="0.5"/>
<circle cx="127.04" cy="315.33" r="1.25" fill="#fff" stroke="#1a1a1a" stroke-width="0.5"/>
<circle cx="129.42" cy="313.01" r="1.25" fill="#fff" stroke="#1a1a1a" stroke-width="0.5"/>
<circle cx="131.8" cy="311.04" r="1.25" fill="#fff" stroke="#1a1a1a" stroke-width="0.5"/>
<circle cx="134.18" cy="309.57" r="1.25" fill="#fff" stroke="#1a1a1a" stroke-width="0.5"/>
<circle cx="136.56" cy="308.42" r="1.25" fill="#fff" stroke="#1a1a1a" stroke-width="0.5"/>
<circle cx="138.94" cy="307.4" r="1.25" fill="#fff" stroke="#1a1a1a" stroke-width="0.5"/>
<circle cx="141.32" cy="306.48" r="1.25" fill="#fff" stroke="#1a1a1a" stroke-width="0.5"/>
<circle cx="143.7" cy="305.63" r="1.25" fill="#fff" stroke="#1a1a1a" stroke-width="0.5"/>
<circle cx="146.09" cy="304.76" r="1.25" fill="#fff" stroke="#1a1a1a" stroke-width="0.5"/>
<circle cx="148.47" cy="303.95" r="1.25" fill="#fff" stroke="#1a1a1a" stroke-width="0.5"/>
<circle cx="150.85" cy="303.38" r="1.25" fill="#fff" stroke="#1a1a1a" stroke-width="0.5"/>
<circle cx="153.23" cy="302.96" r="1.25" fill="#fff" stroke="#1a1a1a" stroke-width="0.5"/>
<circle cx="155.61" cy="302.6" r="1.25" fill="#fff" stroke="#1a1a1a" stroke-width="0.5"/>
<circle cx="157.99" cy="302.28" r="1.25" fill="#fff" stroke="#1a1a1a" stroke-width="0.5"/>
<circle cx="160.37" cy="301.95" r="1.25" fill="#fff" stroke="#1a1a1a" stroke-width="0.5"/>
<circle cx="162.75" cy="301.59" r="1.25" fill="#fff" stroke="#1a1a1a" stroke-width="0.5"/>
<circle cx="165.13" cy="301.22" r="1.25" fill="#fff" stroke="#1a1a1a" stroke-width="0.5"/>
<circle cx="167.51" cy="300.86" r="1.25" fill="#fff" stroke="#1a1a1a" stroke-width="0.5"/>
<circle cx="169.9" cy="300.5" r="1.25" fill="#fff" stroke="#1a1a1a" stroke-width="0.5"/>
<circle cx="172.28" cy="300.15" r="1.25" fill="#fff" stroke="#1a1a1a" stroke-width="0.5"/>
<circle cx="174.66" cy="299.79" r="1.25" fill="#fff" stroke="#1a1a1a" stroke-width="0.5"/>
<polyline points="112.75,366 115.13,358.47 117.51,356.36 119.89,355.16 122.27,354.29 124.66,353.63 127.04,353.1 129.42,352.66 131.8,352.26 134.18,351.89 136.56,351.55 138.94,351.22 141.32,350.88 143.7,350.55 146.09,350.23 148.47,349.95 150.85,349.71 153.23,349.47 155.61,349.25 157.99,349.03 160.37,348.82 162.75,348.63 165.13,348.45 167.51,348.28 169.9,348.14 172.28,348.01 174.66,347.9" fill="none" stroke="#1a1a1a" stroke-width="0.9"/>
<circle cx="112.75" cy="366" r="1.25" fill="#fff" stroke="#1a1a1a" stroke-width="0.5"/>
<circle cx="115.13" cy="358.47" r="1.25" fill="#fff" stroke="#1a1a1a" stroke-width="0.5"/>
<circle cx="117.51" cy="356.36" r="1.25" fill="#fff" stroke="#1a1a1a" stroke-width="0.5"/>
<circle cx="119.89" cy="355.16" r="1.25" fill="#fff" stroke="#1a1a1a" stroke-width="0.5"/>
<circle cx="122.27" cy="354.29" r="1.25" fill="#fff" stroke="#1a1a1a" stroke-width="0.5"/>
<circle cx="124.66" cy="353.63" r="1.25" fill="#fff" stroke="#1a1a1a" stroke-width="0.5"/>
<circle cx="127.04" cy="353.1" r="1.25" fill="#fff" stroke="#1a1a1a" stroke-width="0.5"/>
<circle cx="129.42" cy="352.66" r="1.25" fill="#fff" stroke="#1a1a1a" stroke-width="0.5"/>
<circle cx="131.8" cy="352.26" r="1.25" fill="#fff" stroke="#1a1a1a" stroke-width="0.5"/>
<circle cx="134.18" cy="351.89" r="1.25" fill="#fff" stroke="#1a1a1a" stroke-width="0.5"/>
<circle cx="136.56" cy="351.55" r="1.25" fill="#fff" stroke="#1a1a1a" stroke-width="0.5"/>
<circle cx="138.94" cy="351.22" r="1.25" fill="#fff" stroke="#1a1a1a" stroke-width="0.5"/>
<circle cx="141.32" cy="350.88" r="1.25" fill="#fff" stroke="#1a1a1a" stroke-width="0.5"/>
<circle cx="143.7" cy="350.55" r="1.25" fill="#fff" stroke="#1a1a1a" stroke-width="0.5"/>
<circle cx="146.09" cy="350.23" r="1.25" fill="#fff" stroke="#1a1a1a" stroke-width="0.5"/>
<circle cx="148.47" cy="349.95" r="1.25" fill="#fff" stroke="#1a1a1a" stroke-width="0.5"/>
<circle cx="150.85" cy="349.71" r="1.25" fill="#fff" stroke="#1a1a1a" stroke-width="0.5"/>
<circle cx="153.23" cy="349.47" r="1.25" fill="#fff" stroke="#1a1a1a" stroke-width="0.5"/>
<circle cx="155.61" cy="349.25" r="1.25" fill="#fff" stroke="#1a1a1a" stroke-width="0.5"/>
<circle cx="157.99" cy="349.03" r="1.25" fill="#fff" stroke="#1a1a1a" stroke-width="0.5"/>
<circle cx="160.37" cy="348.82" r="1.25" fill="#fff" stroke="#1a1a1a" stroke-width="0.5"/>
<circle cx="162.75" cy="348.63" r="1.25" fill="#fff" stroke="#1a1a1a" stroke-width="0.5"/>
<circle cx="165.13" cy="348.45" r="1.25" fill="#fff" stroke="#1a1a1a" stroke-width="0.5"/>
<circle cx="167.51" cy="348.28" r="1.25" fill="#fff" stroke="#1a1a1a" stroke-width="0.5"/>
<circle cx="169.9" cy="348.14" r="1.25" fill="#fff" stroke="#1a1a1a" stroke-width="0.5"/>
<circle cx="172.28" cy="348.01" r="1.25" fill="#fff" stroke="#1a1a1a" stroke-width="0.5"/>
<circle cx="174.66" cy="347.9" r="1.25" fill="#fff" stroke="#1a1a1a" stroke-width="0.5"/>
<polyline points="112.75,366 115.13,365.65 117.51,365.48 119.89,365.46 122.27,365.44 124.66,365.42 127.04,365.41 129.42,365.4 131.8,365.38 134.18,365.37 136.56,365.36 138.94,365.35 141.32,365.35 143.7,365.34 146.09,365.33 148.47,365.33 150.85,365.32 153.23,365.32 155.61,365.31 157.99,365.31 160.37,365.31 162.75,365.31 165.13,365.31 167.51,365.31 169.9,365.3 172.28,365.3 174.66,365.3" fill="none" stroke="#1a1a1a" stroke-width="0.9"/>
<circle cx="112.75" cy="366" r="1.25" fill="#fff" stroke="#1a1a1a" stroke-width="0.5"/>
<circle cx="115.13" cy="365.65" r="1.25" fill="#fff" stroke="#1a1a1a" stroke-width="0.5"/>
<circle cx="117.51" cy="365.48" r="1.25" fill="#fff" stroke="#1a1a1a" stroke-width="0.5"/>
<circle cx="119.89" cy="365.46" r="1.25" fill="#fff" stroke="#1a1a1a" stroke-width="0.5"/>
<circle cx="122.27" cy="365.44" r="1.25" fill="#fff" stroke="#1a1a1a" stroke-width="0.5"/>
<circle cx="124.66" cy="365.42" r="1.25" fill="#fff" stroke="#1a1a1a" stroke-width="0.5"/>
<circle cx="127.04" cy="365.41" r="1.25" fill="#fff" stroke="#1a1a1a" stroke-width="0.5"/>
<circle cx="129.42" cy="365.4" r="1.25" fill="#fff" stroke="#1a1a1a" stroke-width="0.5"/>
<circle cx="131.8" cy="365.38" r="1.25" fill="#fff" stroke="#1a1a1a" stroke-width="0.5"/>
<circle cx="134.18" cy="365.37" r="1.25" fill="#fff" stroke="#1a1a1a" stroke-width="0.5"/>
<circle cx="136.56" cy="365.36" r="1.25" fill="#fff" stroke="#1a1a1a" stroke-width="0.5"/>
<circle cx="138.94" cy="365.35" r="1.25" fill="#fff" stroke="#1a1a1a" stroke-width="0.5"/>
<circle cx="141.32" cy="365.35" r="1.25" fill="#fff" stroke="#1a1a1a" stroke-width="0.5"/>
<circle cx="143.7" cy="365.34" r="1.25" fill="#fff" stroke="#1a1a1a" stroke-width="0.5"/>
<circle cx="146.09" cy="365.33" r="1.25" fill="#fff" stroke="#1a1a1a" stroke-width="0.5"/>
<circle cx="148.47" cy="365.33" r="1.25" fill="#fff" stroke="#1a1a1a" stroke-width="0.5"/>
<circle cx="150.85" cy="365.32" r="1.25" fill="#fff" stroke="#1a1a1a" stroke-width="0.5"/>
<circle cx="153.23" cy="365.32" r="1.25" fill="#fff" stroke="#1a1a1a" stroke-width="0.5"/>
<circle cx="155.61" cy="365.31" r="1.25" fill="#fff" stroke="#1a1a1a" stroke-width="0.5"/>
<circle cx="157.99" cy="365.31" r="1.25" fill="#fff" stroke="#1a1a1a" stroke-width="0.5"/>
<circle cx="160.37" cy="365.31" r="1.25" fill="#fff" stroke="#1a1a1a" stroke-width="0.5"/>
<circle cx="162.75" cy="365.31" r="1.25" fill="#fff" stroke="#1a1a1a" stroke-width="0.5"/>
<circle cx="165.13" cy="365.31" r="1.25" fill="#fff" stroke="#1a1a1a" stroke-width="0.5"/>
<circle cx="167.51" cy="365.31" r="1.25" fill="#fff" stroke="#1a1a1a" stroke-width="0.5"/>
<circle cx="169.9" cy="365.3" r="1.25" fill="#fff" stroke="#1a1a1a" stroke-width="0.5"/>
<circle cx="172.28" cy="365.3" r="1.25" fill="#fff" stroke="#1a1a1a" stroke-width="0.5"/>
<circle cx="174.66" cy="365.3" r="1.25" fill="#fff" stroke="#1a1a1a" stroke-width="0.5"/>
<rect x="42" y="261" width="141.6" height="113.2" fill="none" stroke="#000" stroke-width="1.5"/>
<line x1="42.7" y1="366" x2="44.9" y2="366" stroke="#000" stroke-width="0.8" />
<line x1="42.7" y1="344.25" x2="44" y2="344.25" stroke="#000" stroke-width="0.8" />
<line x1="42.7" y1="322.5" x2="44.9" y2="322.5" stroke="#000" stroke-width="0.8" />
<line x1="42.7" y1="300.75" x2="44" y2="300.75" stroke="#000" stroke-width="0.8" />
<line x1="42.7" y1="279" x2="44.9" y2="279" stroke="#000" stroke-width="0.8" />
<line x1="59.69" y1="373.5" x2="59.69" y2="372.2" stroke="#000" stroke-width="0.8" />
<line x1="77.37" y1="373.5" x2="77.37" y2="371.3" stroke="#000" stroke-width="0.8" />
<line x1="95.06" y1="373.5" x2="95.06" y2="372.2" stroke="#000" stroke-width="0.8" />
<line x1="112.75" y1="373.5" x2="112.75" y2="371.3" stroke="#000" stroke-width="0.8" />
<line x1="130.44" y1="373.5" x2="130.44" y2="372.2" stroke="#000" stroke-width="0.8" />
<line x1="148.13" y1="373.5" x2="148.13" y2="371.3" stroke="#000" stroke-width="0.8" />
<line x1="165.81" y1="373.5" x2="165.81" y2="372.2" stroke="#000" stroke-width="0.8" />
<text x="42" y="383" font-size="7.2" text-anchor="middle" font-weight="bold" fill="#000"  stroke="#000" stroke-width="0.2">-0.8</text>
<text x="77.37" y="383" font-size="7.2" text-anchor="middle" font-weight="bold" fill="#000"  stroke="#000" stroke-width="0.2">-0.4</text>
<text x="112.75" y="383" font-size="7.2" text-anchor="middle" font-weight="bold" fill="#000"  stroke="#000" stroke-width="0.2">0.0</text>
<text x="148.13" y="383" font-size="7.2" text-anchor="middle" font-weight="bold" fill="#000"  stroke="#000" stroke-width="0.2">0.4</text>
<text x="183.5" y="383" font-size="7.2" text-anchor="middle" font-weight="bold" fill="#000"  stroke="#000" stroke-width="0.2">0.8</text>
<text x="114.8" y="397.7" font-size="10.2" text-anchor="middle" font-weight="bold" fill="#000"  stroke="#000" stroke-width="0.2">Vds(V)</text>
<rect x="88.3" y="265.3" width="47.5" height="10.6" fill="#1a1a1a"/>
<rect x="87" y="264" width="47.5" height="10.6" fill="#fff" stroke="#1a1a1a" stroke-width="0.7"/>
<text x="0" y="0" transform="translate(110.75,272.7) scale(1.0,1.08)" font-size="7.3" text-anchor="middle" font-weight="bold" fill="#1a1a1a"  stroke="#1a1a1a" stroke-width="0.2">Full BDI_First</text>
<text x="64.6" y="293.9" font-size="6.3" text-anchor="middle" font-weight="bold" fill="#000"  stroke="#000" stroke-width="0.2">PMOS</text>
<text x="160.6" y="293.4" font-size="6.3" text-anchor="middle" font-weight="bold" fill="#000"  stroke="#000" stroke-width="0.2">NMOS</text>
<text x="0" y="0" transform="translate(45.6,331.3) scale(1.0,1.1)" font-size="7.5" text-anchor="start" font-weight="bold" fill="#000"  stroke="#000" stroke-width="0.2">|Vgs|=0.2V-0.6V</text>
<text x="0" y="0" transform="translate(45.6,342.5) scale(1.0,1.1)" font-size="7.5" text-anchor="start" font-weight="bold" fill="#000"  stroke="#000" stroke-width="0.2">Step=0.2V</text>
<text x="39" y="281.6" font-size="7.4" font-weight="bold" text-anchor="end">1×10<tspan font-size="5" dy="-3">-4</tspan></text>
<text x="39" y="325.1" font-size="7.4" font-weight="bold" text-anchor="end">5×10<tspan font-size="5" dy="-3">-5</tspan></text>
<text x="37.6" y="368.5" font-size="7.2" text-anchor="middle" font-weight="bold" fill="#000"  stroke="#000" stroke-width="0.2">0</text>
<text x="0" y="0" font-size="13.2" font-weight="bold" text-anchor="middle" transform="translate(16,318.1) rotate(-90)">Id(A)</text>
<line x1="197" y1="366" x2="338.9" y2="366" stroke="#d6d6d6" stroke-width="0.7" />
<line x1="197" y1="344.25" x2="338.9" y2="344.25" stroke="#d6d6d6" stroke-width="0.7" />
<line x1="197" y1="322.5" x2="338.9" y2="322.5" stroke="#d6d6d6" stroke-width="0.7" />
<line x1="197" y1="300.75" x2="338.9" y2="300.75" stroke="#d6d6d6" stroke-width="0.7" />
<line x1="197" y1="279" x2="338.9" y2="279" stroke="#d6d6d6" stroke-width="0.7" />
<polyline points="268,366 265.62,355.72 263.24,344.77 260.86,332.99 258.48,322.93 256.09,314.56 253.71,307.95 251.33,302.65 248.95,298.26 246.57,295.47 244.19,293.33 241.81,291.52 239.43,289.87 237.05,288.42 234.66,287.08 232.28,285.77 229.9,284.44 227.52,283.1 225.14,281.78 222.76,280.51 220.38,279.33 218,278.25 215.62,277.32 213.24,276.52 210.85,275.8 208.47,275.18 206.09,274.65" fill="none" stroke="#f03a3a" stroke-width="1.5"/>
<circle cx="268" cy="366" r="1.25" fill="#fff" stroke="#f03a3a" stroke-width="0.5"/>
<circle cx="265.62" cy="355.72" r="1.25" fill="#fff" stroke="#f03a3a" stroke-width="0.5"/>
<circle cx="263.24" cy="344.77" r="1.25" fill="#fff" stroke="#f03a3a" stroke-width="0.5"/>
<circle cx="260.86" cy="332.99" r="1.25" fill="#fff" stroke="#f03a3a" stroke-width="0.5"/>
<circle cx="258.48" cy="322.93" r="1.25" fill="#fff" stroke="#f03a3a" stroke-width="0.5"/>
<circle cx="256.09" cy="314.56" r="1.25" fill="#fff" stroke="#f03a3a" stroke-width="0.5"/>
<circle cx="253.71" cy="307.95" r="1.25" fill="#fff" stroke="#f03a3a" stroke-width="0.5"/>
<circle cx="251.33" cy="302.65" r="1.25" fill="#fff" stroke="#f03a3a" stroke-width="0.5"/>
<circle cx="248.95" cy="298.26" r="1.25" fill="#fff" stroke="#f03a3a" stroke-width="0.5"/>
<circle cx="246.57" cy="295.47" r="1.25" fill="#fff" stroke="#f03a3a" stroke-width="0.5"/>
<circle cx="244.19" cy="293.33" r="1.25" fill="#fff" stroke="#f03a3a" stroke-width="0.5"/>
<circle cx="241.81" cy="291.52" r="1.25" fill="#fff" stroke="#f03a3a" stroke-width="0.5"/>
<circle cx="239.43" cy="289.87" r="1.25" fill="#fff" stroke="#f03a3a" stroke-width="0.5"/>
<circle cx="237.05" cy="288.42" r="1.25" fill="#fff" stroke="#f03a3a" stroke-width="0.5"/>
<circle cx="234.66" cy="287.08" r="1.25" fill="#fff" stroke="#f03a3a" stroke-width="0.5"/>
<circle cx="232.28" cy="285.77" r="1.25" fill="#fff" stroke="#f03a3a" stroke-width="0.5"/>
<circle cx="229.9" cy="284.44" r="1.25" fill="#fff" stroke="#f03a3a" stroke-width="0.5"/>
<circle cx="227.52" cy="283.1" r="1.25" fill="#fff" stroke="#f03a3a" stroke-width="0.5"/>
<circle cx="225.14" cy="281.78" r="1.25" fill="#fff" stroke="#f03a3a" stroke-width="0.5"/>
<circle cx="222.76" cy="280.51" r="1.25" fill="#fff" stroke="#f03a3a" stroke-width="0.5"/>
<circle cx="220.38" cy="279.33" r="1.25" fill="#fff" stroke="#f03a3a" stroke-width="0.5"/>
<circle cx="218" cy="278.25" r="1.25" fill="#fff" stroke="#f03a3a" stroke-width="0.5"/>
<circle cx="215.62" cy="277.32" r="1.25" fill="#fff" stroke="#f03a3a" stroke-width="0.5"/>
<circle cx="213.24" cy="276.52" r="1.25" fill="#fff" stroke="#f03a3a" stroke-width="0.5"/>
<circle cx="210.85" cy="275.8" r="1.25" fill="#fff" stroke="#f03a3a" stroke-width="0.5"/>
<circle cx="208.47" cy="275.18" r="1.25" fill="#fff" stroke="#f03a3a" stroke-width="0.5"/>
<circle cx="206.09" cy="274.65" r="1.25" fill="#fff" stroke="#f03a3a" stroke-width="0.5"/>
<polyline points="268,366 265.62,358.8 263.24,355.31 260.86,353.52 258.48,352.17 256.09,350.98 253.71,349.93 251.33,348.98 248.95,348.11 246.57,347.29 244.19,346.53 241.81,345.82 239.43,345.13 237.05,344.47 234.66,343.82 232.28,343.18 229.9,342.55 227.52,341.95 225.14,341.36 222.76,340.79 220.38,340.22 218,339.64 215.62,339.05 213.24,338.44 210.85,337.83 208.47,337.21 206.09,336.59" fill="none" stroke="#f03a3a" stroke-width="0.9"/>
<circle cx="268" cy="366" r="1.25" fill="#fff" stroke="#f03a3a" stroke-width="0.5"/>
<circle cx="265.62" cy="358.8" r="1.25" fill="#fff" stroke="#f03a3a" stroke-width="0.5"/>
<circle cx="263.24" cy="355.31" r="1.25" fill="#fff" stroke="#f03a3a" stroke-width="0.5"/>
<circle cx="260.86" cy="353.52" r="1.25" fill="#fff" stroke="#f03a3a" stroke-width="0.5"/>
<circle cx="258.48" cy="352.17" r="1.25" fill="#fff" stroke="#f03a3a" stroke-width="0.5"/>
<circle cx="256.09" cy="350.98" r="1.25" fill="#fff" stroke="#f03a3a" stroke-width="0.5"/>
<circle cx="253.71" cy="349.93" r="1.25" fill="#fff" stroke="#f03a3a" stroke-width="0.5"/>
<circle cx="251.33" cy="348.98" r="1.25" fill="#fff" stroke="#f03a3a" stroke-width="0.5"/>
<circle cx="248.95" cy="348.11" r="1.25" fill="#fff" stroke="#f03a3a" stroke-width="0.5"/>
<circle cx="246.57" cy="347.29" r="1.25" fill="#fff" stroke="#f03a3a" stroke-width="0.5"/>
<circle cx="244.19" cy="346.53" r="1.25" fill="#fff" stroke="#f03a3a" stroke-width="0.5"/>
<circle cx="241.81" cy="345.82" r="1.25" fill="#fff" stroke="#f03a3a" stroke-width="0.5"/>
<circle cx="239.43" cy="345.13" r="1.25" fill="#fff" stroke="#f03a3a" stroke-width="0.5"/>
<circle cx="237.05" cy="344.47" r="1.25" fill="#fff" stroke="#f03a3a" stroke-width="0.5"/>
<circle cx="234.66" cy="343.82" r="1.25" fill="#fff" stroke="#f03a3a" stroke-width="0.5"/>
<circle cx="232.28" cy="343.18" r="1.25" fill="#fff" stroke="#f03a3a" stroke-width="0.5"/>
<circle cx="229.9" cy="342.55" r="1.25" fill="#fff" stroke="#f03a3a" stroke-width="0.5"/>
<circle cx="227.52" cy="341.95" r="1.25" fill="#fff" stroke="#f03a3a" stroke-width="0.5"/>
<circle cx="225.14" cy="341.36" r="1.25" fill="#fff" stroke="#f03a3a" stroke-width="0.5"/>
<circle cx="222.76" cy="340.79" r="1.25" fill="#fff" stroke="#f03a3a" stroke-width="0.5"/>
<circle cx="220.38" cy="340.22" r="1.25" fill="#fff" stroke="#f03a3a" stroke-width="0.5"/>
<circle cx="218" cy="339.64" r="1.25" fill="#fff" stroke="#f03a3a" stroke-width="0.5"/>
<circle cx="215.62" cy="339.05" r="1.25" fill="#fff" stroke="#f03a3a" stroke-width="0.5"/>
<circle cx="213.24" cy="338.44" r="1.25" fill="#fff" stroke="#f03a3a" stroke-width="0.5"/>
<circle cx="210.85" cy="337.83" r="1.25" fill="#fff" stroke="#f03a3a" stroke-width="0.5"/>
<circle cx="208.47" cy="337.21" r="1.25" fill="#fff" stroke="#f03a3a" stroke-width="0.5"/>
<circle cx="206.09" cy="336.59" r="1.25" fill="#fff" stroke="#f03a3a" stroke-width="0.5"/>
<polyline points="268,366 265.62,365.77 263.24,365.65 260.86,365.61 258.48,365.58 256.09,365.55 253.71,365.52 251.33,365.5 248.95,365.47 246.57,365.45 244.19,365.43 241.81,365.41 239.43,365.4 237.05,365.38 234.66,365.37 232.28,365.36 229.9,365.35 227.52,365.34 225.14,365.33 222.76,365.32 220.38,365.32 218,365.31 215.62,365.31 213.24,365.31 210.85,365.31 208.47,365.3 206.09,365.3" fill="none" stroke="#f03a3a" stroke-width="0.9"/>
<circle cx="268" cy="366" r="1.25" fill="#fff" stroke="#f03a3a" stroke-width="0.5"/>
<circle cx="265.62" cy="365.77" r="1.25" fill="#fff" stroke="#f03a3a" stroke-width="0.5"/>
<circle cx="263.24" cy="365.65" r="1.25" fill="#fff" stroke="#f03a3a" stroke-width="0.5"/>
<circle cx="260.86" cy="365.61" r="1.25" fill="#fff" stroke="#f03a3a" stroke-width="0.5"/>
<circle cx="258.48" cy="365.58" r="1.25" fill="#fff" stroke="#f03a3a" stroke-width="0.5"/>
<circle cx="256.09" cy="365.55" r="1.25" fill="#fff" stroke="#f03a3a" stroke-width="0.5"/>
<circle cx="253.71" cy="365.52" r="1.25" fill="#fff" stroke="#f03a3a" stroke-width="0.5"/>
<circle cx="251.33" cy="365.5" r="1.25" fill="#fff" stroke="#f03a3a" stroke-width="0.5"/>
<circle cx="248.95" cy="365.47" r="1.25" fill="#fff" stroke="#f03a3a" stroke-width="0.5"/>
<circle cx="246.57" cy="365.45" r="1.25" fill="#fff" stroke="#f03a3a" stroke-width="0.5"/>
<circle cx="244.19" cy="365.43" r="1.25" fill="#fff" stroke="#f03a3a" stroke-width="0.5"/>
<circle cx="241.81" cy="365.41" r="1.25" fill="#fff" stroke="#f03a3a" stroke-width="0.5"/>
<circle cx="239.43" cy="365.4" r="1.25" fill="#fff" stroke="#f03a3a" stroke-width="0.5"/>
<circle cx="237.05" cy="365.38" r="1.25" fill="#fff" stroke="#f03a3a" stroke-width="0.5"/>
<circle cx="234.66" cy="365.37" r="1.25" fill="#fff" stroke="#f03a3a" stroke-width="0.5"/>
<circle cx="232.28" cy="365.36" r="1.25" fill="#fff" stroke="#f03a3a" stroke-width="0.5"/>
<circle cx="229.9" cy="365.35" r="1.25" fill="#fff" stroke="#f03a3a" stroke-width="0.5"/>
<circle cx="227.52" cy="365.34" r="1.25" fill="#fff" stroke="#f03a3a" stroke-width="0.5"/>
<circle cx="225.14" cy="365.33" r="1.25" fill="#fff" stroke="#f03a3a" stroke-width="0.5"/>
<circle cx="222.76" cy="365.32" r="1.25" fill="#fff" stroke="#f03a3a" stroke-width="0.5"/>
<circle cx="220.38" cy="365.32" r="1.25" fill="#fff" stroke="#f03a3a" stroke-width="0.5"/>
<circle cx="218" cy="365.31" r="1.25" fill="#fff" stroke="#f03a3a" stroke-width="0.5"/>
<circle cx="215.62" cy="365.31" r="1.25" fill="#fff" stroke="#f03a3a" stroke-width="0.5"/>
<circle cx="213.24" cy="365.31" r="1.25" fill="#fff" stroke="#f03a3a" stroke-width="0.5"/>
<circle cx="210.85" cy="365.31" r="1.25" fill="#fff" stroke="#f03a3a" stroke-width="0.5"/>
<circle cx="208.47" cy="365.3" r="1.25" fill="#fff" stroke="#f03a3a" stroke-width="0.5"/>
<circle cx="206.09" cy="365.3" r="1.25" fill="#fff" stroke="#f03a3a" stroke-width="0.5"/>
<polyline points="268,366 270.38,353.45 272.76,341.77 275.14,331.19 277.52,323.35 279.91,318.41 282.29,315.2 284.67,312.72 287.05,310.78 289.43,309.48 291.81,308.49 294.19,307.49 296.57,306.46 298.95,305.5 301.34,304.6 303.72,303.83 306.1,303.35 308.48,303 310.86,302.71 313.24,302.45 315.62,302.18 318,301.88 320.38,301.57 322.76,301.26 325.15,300.96 327.53,300.65 329.91,300.34" fill="none" stroke="#f03a3a" stroke-width="1.5"/>
<circle cx="268" cy="366" r="1.25" fill="#fff" stroke="#f03a3a" stroke-width="0.5"/>
<circle cx="270.38" cy="353.45" r="1.25" fill="#fff" stroke="#f03a3a" stroke-width="0.5"/>
<circle cx="272.76" cy="341.77" r="1.25" fill="#fff" stroke="#f03a3a" stroke-width="0.5"/>
<circle cx="275.14" cy="331.19" r="1.25" fill="#fff" stroke="#f03a3a" stroke-width="0.5"/>
<circle cx="277.52" cy="323.35" r="1.25" fill="#fff" stroke="#f03a3a" stroke-width="0.5"/>
<circle cx="279.91" cy="318.41" r="1.25" fill="#fff" stroke="#f03a3a" stroke-width="0.5"/>
<circle cx="282.29" cy="315.2" r="1.25" fill="#fff" stroke="#f03a3a" stroke-width="0.5"/>
<circle cx="284.67" cy="312.72" r="1.25" fill="#fff" stroke="#f03a3a" stroke-width="0.5"/>
<circle cx="287.05" cy="310.78" r="1.25" fill="#fff" stroke="#f03a3a" stroke-width="0.5"/>
<circle cx="289.43" cy="309.48" r="1.25" fill="#fff" stroke="#f03a3a" stroke-width="0.5"/>
<circle cx="291.81" cy="308.49" r="1.25" fill="#fff" stroke="#f03a3a" stroke-width="0.5"/>
<circle cx="294.19" cy="307.49" r="1.25" fill="#fff" stroke="#f03a3a" stroke-width="0.5"/>
<circle cx="296.57" cy="306.46" r="1.25" fill="#fff" stroke="#f03a3a" stroke-width="0.5"/>
<circle cx="298.95" cy="305.5" r="1.25" fill="#fff" stroke="#f03a3a" stroke-width="0.5"/>
<circle cx="301.34" cy="304.6" r="1.25" fill="#fff" stroke="#f03a3a" stroke-width="0.5"/>
<circle cx="303.72" cy="303.83" r="1.25" fill="#fff" stroke="#f03a3a" stroke-width="0.5"/>
<circle cx="306.1" cy="303.35" r="1.25" fill="#fff" stroke="#f03a3a" stroke-width="0.5"/>
<circle cx="308.48" cy="303" r="1.25" fill="#fff" stroke="#f03a3a" stroke-width="0.5"/>
<circle cx="310.86" cy="302.71" r="1.25" fill="#fff" stroke="#f03a3a" stroke-width="0.5"/>
<circle cx="313.24" cy="302.45" r="1.25" fill="#fff" stroke="#f03a3a" stroke-width="0.5"/>
<circle cx="315.62" cy="302.18" r="1.25" fill="#fff" stroke="#f03a3a" stroke-width="0.5"/>
<circle cx="318" cy="301.88" r="1.25" fill="#fff" stroke="#f03a3a" stroke-width="0.5"/>
<circle cx="320.38" cy="301.57" r="1.25" fill="#fff" stroke="#f03a3a" stroke-width="0.5"/>
<circle cx="322.76" cy="301.26" r="1.25" fill="#fff" stroke="#f03a3a" stroke-width="0.5"/>
<circle cx="325.15" cy="300.96" r="1.25" fill="#fff" stroke="#f03a3a" stroke-width="0.5"/>
<circle cx="327.53" cy="300.65" r="1.25" fill="#fff" stroke="#f03a3a" stroke-width="0.5"/>
<circle cx="329.91" cy="300.34" r="1.25" fill="#fff" stroke="#f03a3a" stroke-width="0.5"/>
<polyline points="268,366 270.38,358.62 272.76,356.3 275.14,355.24 277.52,354.53 279.91,353.98 282.29,353.56 284.67,353.2 287.05,352.89 289.43,352.62 291.81,352.37 294.19,352.12 296.57,351.87 298.95,351.63 301.34,351.4 303.72,351.17 306.1,350.95 308.48,350.72 310.86,350.48 313.24,350.23 315.62,349.98 318,349.72 320.38,349.45 322.76,349.18 325.15,348.9 327.53,348.62 329.91,348.34" fill="none" stroke="#f03a3a" stroke-width="0.9"/>
<circle cx="268" cy="366" r="1.25" fill="#fff" stroke="#f03a3a" stroke-width="0.5"/>
<circle cx="270.38" cy="358.62" r="1.25" fill="#fff" stroke="#f03a3a" stroke-width="0.5"/>
<circle cx="272.76" cy="356.3" r="1.25" fill="#fff" stroke="#f03a3a" stroke-width="0.5"/>
<circle cx="275.14" cy="355.24" r="1.25" fill="#fff" stroke="#f03a3a" stroke-width="0.5"/>
<circle cx="277.52" cy="354.53" r="1.25" fill="#fff" stroke="#f03a3a" stroke-width="0.5"/>
<circle cx="279.91" cy="353.98" r="1.25" fill="#fff" stroke="#f03a3a" stroke-width="0.5"/>
<circle cx="282.29" cy="353.56" r="1.25" fill="#fff" stroke="#f03a3a" stroke-width="0.5"/>
<circle cx="284.67" cy="353.2" r="1.25" fill="#fff" stroke="#f03a3a" stroke-width="0.5"/>
<circle cx="287.05" cy="352.89" r="1.25" fill="#fff" stroke="#f03a3a" stroke-width="0.5"/>
<circle cx="289.43" cy="352.62" r="1.25" fill="#fff" stroke="#f03a3a" stroke-width="0.5"/>
<circle cx="291.81" cy="352.37" r="1.25" fill="#fff" stroke="#f03a3a" stroke-width="0.5"/>
<circle cx="294.19" cy="352.12" r="1.25" fill="#fff" stroke="#f03a3a" stroke-width="0.5"/>
<circle cx="296.57" cy="351.87" r="1.25" fill="#fff" stroke="#f03a3a" stroke-width="0.5"/>
<circle cx="298.95" cy="351.63" r="1.25" fill="#fff" stroke="#f03a3a" stroke-width="0.5"/>
<circle cx="301.34" cy="351.4" r="1.25" fill="#fff" stroke="#f03a3a" stroke-width="0.5"/>
<circle cx="303.72" cy="351.17" r="1.25" fill="#fff" stroke="#f03a3a" stroke-width="0.5"/>
<circle cx="306.1" cy="350.95" r="1.25" fill="#fff" stroke="#f03a3a" stroke-width="0.5"/>
<circle cx="308.48" cy="350.72" r="1.25" fill="#fff" stroke="#f03a3a" stroke-width="0.5"/>
<circle cx="310.86" cy="350.48" r="1.25" fill="#fff" stroke="#f03a3a" stroke-width="0.5"/>
<circle cx="313.24" cy="350.23" r="1.25" fill="#fff" stroke="#f03a3a" stroke-width="0.5"/>
<circle cx="315.62" cy="349.98" r="1.25" fill="#fff" stroke="#f03a3a" stroke-width="0.5"/>
<circle cx="318" cy="349.72" r="1.25" fill="#fff" stroke="#f03a3a" stroke-width="0.5"/>
<circle cx="320.38" cy="349.45" r="1.25" fill="#fff" stroke="#f03a3a" stroke-width="0.5"/>
<circle cx="322.76" cy="349.18" r="1.25" fill="#fff" stroke="#f03a3a" stroke-width="0.5"/>
<circle cx="325.15" cy="348.9" r="1.25" fill="#fff" stroke="#f03a3a" stroke-width="0.5"/>
<circle cx="327.53" cy="348.62" r="1.25" fill="#fff" stroke="#f03a3a" stroke-width="0.5"/>
<circle cx="329.91" cy="348.34" r="1.25" fill="#fff" stroke="#f03a3a" stroke-width="0.5"/>
<polyline points="268,366 270.38,365.83 272.76,365.74 275.14,365.72 277.52,365.7 279.91,365.69 282.29,365.67 284.67,365.66 287.05,365.65 289.43,365.64 291.81,365.63 294.19,365.62 296.57,365.61 298.95,365.6 301.34,365.6 303.72,365.59 306.1,365.58 308.48,365.58 310.86,365.58 313.24,365.57 315.62,365.57 318,365.57 320.38,365.57 322.76,365.57 325.15,365.57 327.53,365.57 329.91,365.56" fill="none" stroke="#f03a3a" stroke-width="0.9"/>
<circle cx="268" cy="366" r="1.25" fill="#fff" stroke="#f03a3a" stroke-width="0.5"/>
<circle cx="270.38" cy="365.83" r="1.25" fill="#fff" stroke="#f03a3a" stroke-width="0.5"/>
<circle cx="272.76" cy="365.74" r="1.25" fill="#fff" stroke="#f03a3a" stroke-width="0.5"/>
<circle cx="275.14" cy="365.72" r="1.25" fill="#fff" stroke="#f03a3a" stroke-width="0.5"/>
<circle cx="277.52" cy="365.7" r="1.25" fill="#fff" stroke="#f03a3a" stroke-width="0.5"/>
<circle cx="279.91" cy="365.69" r="1.25" fill="#fff" stroke="#f03a3a" stroke-width="0.5"/>
<circle cx="282.29" cy="365.67" r="1.25" fill="#fff" stroke="#f03a3a" stroke-width="0.5"/>
<circle cx="284.67" cy="365.66" r="1.25" fill="#fff" stroke="#f03a3a" stroke-width="0.5"/>
<circle cx="287.05" cy="365.65" r="1.25" fill="#fff" stroke="#f03a3a" stroke-width="0.5"/>
<circle cx="289.43" cy="365.64" r="1.25" fill="#fff" stroke="#f03a3a" stroke-width="0.5"/>
<circle cx="291.81" cy="365.63" r="1.25" fill="#fff" stroke="#f03a3a" stroke-width="0.5"/>
<circle cx="294.19" cy="365.62" r="1.25" fill="#fff" stroke="#f03a3a" stroke-width="0.5"/>
<circle cx="296.57" cy="365.61" r="1.25" fill="#fff" stroke="#f03a3a" stroke-width="0.5"/>
<circle cx="298.95" cy="365.6" r="1.25" fill="#fff" stroke="#f03a3a" stroke-width="0.5"/>
<circle cx="301.34" cy="365.6" r="1.25" fill="#fff" stroke="#f03a3a" stroke-width="0.5"/>
<circle cx="303.72" cy="365.59" r="1.25" fill="#fff" stroke="#f03a3a" stroke-width="0.5"/>
<circle cx="306.1" cy="365.58" r="1.25" fill="#fff" stroke="#f03a3a" stroke-width="0.5"/>
<circle cx="308.48" cy="365.58" r="1.25" fill="#fff" stroke="#f03a3a" stroke-width="0.5"/>
<circle cx="310.86" cy="365.58" r="1.25" fill="#fff" stroke="#f03a3a" stroke-width="0.5"/>
<circle cx="313.24" cy="365.57" r="1.25" fill="#fff" stroke="#f03a3a" stroke-width="0.5"/>
<circle cx="315.62" cy="365.57" r="1.25" fill="#fff" stroke="#f03a3a" stroke-width="0.5"/>
<circle cx="318" cy="365.57" r="1.25" fill="#fff" stroke="#f03a3a" stroke-width="0.5"/>
<circle cx="320.38" cy="365.57" r="1.25" fill="#fff" stroke="#f03a3a" stroke-width="0.5"/>
<circle cx="322.76" cy="365.57" r="1.25" fill="#fff" stroke="#f03a3a" stroke-width="0.5"/>
<circle cx="325.15" cy="365.57" r="1.25" fill="#fff" stroke="#f03a3a" stroke-width="0.5"/>
<circle cx="327.53" cy="365.57" r="1.25" fill="#fff" stroke="#f03a3a" stroke-width="0.5"/>
<circle cx="329.91" cy="365.56" r="1.25" fill="#fff" stroke="#f03a3a" stroke-width="0.5"/>
<rect x="197" y="261" width="141.9" height="113.2" fill="none" stroke="#000" stroke-width="1.5"/>
<line x1="197.7" y1="366" x2="199.9" y2="366" stroke="#000" stroke-width="0.8" />
<line x1="197.7" y1="344.25" x2="199" y2="344.25" stroke="#000" stroke-width="0.8" />
<line x1="197.7" y1="322.5" x2="199.9" y2="322.5" stroke="#000" stroke-width="0.8" />
<line x1="197.7" y1="300.75" x2="199" y2="300.75" stroke="#000" stroke-width="0.8" />
<line x1="197.7" y1="279" x2="199.9" y2="279" stroke="#000" stroke-width="0.8" />
<line x1="214.94" y1="373.5" x2="214.94" y2="372.2" stroke="#000" stroke-width="0.8" />
<line x1="232.62" y1="373.5" x2="232.62" y2="371.3" stroke="#000" stroke-width="0.8" />
<line x1="250.31" y1="373.5" x2="250.31" y2="372.2" stroke="#000" stroke-width="0.8" />
<line x1="268" y1="373.5" x2="268" y2="371.3" stroke="#000" stroke-width="0.8" />
<line x1="285.69" y1="373.5" x2="285.69" y2="372.2" stroke="#000" stroke-width="0.8" />
<line x1="303.38" y1="373.5" x2="303.38" y2="371.3" stroke="#000" stroke-width="0.8" />
<line x1="321.06" y1="373.5" x2="321.06" y2="372.2" stroke="#000" stroke-width="0.8" />
<text x="197.25" y="383" font-size="7.2" text-anchor="middle" font-weight="bold" fill="#000"  stroke="#000" stroke-width="0.2">-0.8</text>
<text x="232.62" y="383" font-size="7.2" text-anchor="middle" font-weight="bold" fill="#000"  stroke="#000" stroke-width="0.2">-0.4</text>
<text x="268" y="383" font-size="7.2" text-anchor="middle" font-weight="bold" fill="#000"  stroke="#000" stroke-width="0.2">0.0</text>
<text x="303.38" y="383" font-size="7.2" text-anchor="middle" font-weight="bold" fill="#000"  stroke="#000" stroke-width="0.2">0.4</text>
<text x="338.75" y="383" font-size="7.2" text-anchor="middle" font-weight="bold" fill="#000"  stroke="#000" stroke-width="0.2">0.8</text>
<text x="269.95" y="397.7" font-size="10.2" text-anchor="middle" font-weight="bold" fill="#000"  stroke="#000" stroke-width="0.2">Vds(V)</text>
<rect x="247.3" y="265.1" width="47" height="10.8" fill="#f03a3a"/>
<rect x="246" y="263.8" width="47" height="10.8" fill="#fff" stroke="#f03a3a" stroke-width="0.7"/>
<text x="0" y="0" transform="translate(269.5,272.6) scale(1.0,1.08)" font-size="7.3" text-anchor="middle" font-weight="bold" fill="#f03a3a"  stroke="#f03a3a" stroke-width="0.2">Full BDI_Last</text>
<text x="211.3" y="297.4" font-size="6.3" text-anchor="middle" font-weight="bold" fill="#000"  stroke="#000" stroke-width="0.2">PMOS</text>
<text x="320" y="296.1" font-size="6.3" text-anchor="middle" font-weight="bold" fill="#000"  stroke="#000" stroke-width="0.2">NMOS</text>
<text x="0" y="0" transform="translate(282.4,328) scale(1.0,1.1)" font-size="7.5" text-anchor="start" font-weight="bold" fill="#000"  stroke="#000" stroke-width="0.2">|Vgs|=0.2V-0.6V</text>
<text x="0" y="0" transform="translate(282.4,339.8) scale(1.0,1.1)" font-size="7.5" text-anchor="start" font-weight="bold" fill="#000"  stroke="#000" stroke-width="0.2">Step=0.2V</text>
<line x1="42" y1="512.4" x2="183.4" y2="512.4" stroke="#d6d6d6" stroke-width="0.7" />
<line x1="42" y1="490.65" x2="183.4" y2="490.65" stroke="#d6d6d6" stroke-width="0.7" />
<line x1="42" y1="468.9" x2="183.4" y2="468.9" stroke="#d6d6d6" stroke-width="0.7" />
<line x1="42" y1="447.15" x2="183.4" y2="447.15" stroke="#d6d6d6" stroke-width="0.7" />
<line x1="42" y1="425.4" x2="183.4" y2="425.4" stroke="#d6d6d6" stroke-width="0.7" />
<polyline points="112.7,512.4 110.32,501.71 107.94,491.04 105.56,480.39 103.18,469.75 100.79,459.43 98.41,451.8 96.03,446.93 93.65,443.76 91.27,441.55 88.89,439.86 86.51,438.33 84.13,436.77 81.75,435.28 79.36,433.9 76.98,432.67 74.6,431.58 72.22,430.57 69.84,429.62 67.46,428.72 65.08,427.85 62.7,427 60.32,426.17 57.94,425.38 55.55,424.62 53.17,423.9 50.79,423.22" fill="none" stroke="#6cb02c" stroke-width="1.5"/>
<circle cx="112.7" cy="512.4" r="1.25" fill="#fff" stroke="#6cb02c" stroke-width="0.5"/>
<circle cx="110.32" cy="501.71" r="1.25" fill="#fff" stroke="#6cb02c" stroke-width="0.5"/>
<circle cx="107.94" cy="491.04" r="1.25" fill="#fff" stroke="#6cb02c" stroke-width="0.5"/>
<circle cx="105.56" cy="480.39" r="1.25" fill="#fff" stroke="#6cb02c" stroke-width="0.5"/>
<circle cx="103.18" cy="469.75" r="1.25" fill="#fff" stroke="#6cb02c" stroke-width="0.5"/>
<circle cx="100.79" cy="459.43" r="1.25" fill="#fff" stroke="#6cb02c" stroke-width="0.5"/>
<circle cx="98.41" cy="451.8" r="1.25" fill="#fff" stroke="#6cb02c" stroke-width="0.5"/>
<circle cx="96.03" cy="446.93" r="1.25" fill="#fff" stroke="#6cb02c" stroke-width="0.5"/>
<circle cx="93.65" cy="443.76" r="1.25" fill="#fff" stroke="#6cb02c" stroke-width="0.5"/>
<circle cx="91.27" cy="441.55" r="1.25" fill="#fff" stroke="#6cb02c" stroke-width="0.5"/>
<circle cx="88.89" cy="439.86" r="1.25" fill="#fff" stroke="#6cb02c" stroke-width="0.5"/>
<circle cx="86.51" cy="438.33" r="1.25" fill="#fff" stroke="#6cb02c" stroke-width="0.5"/>
<circle cx="84.13" cy="436.77" r="1.25" fill="#fff" stroke="#6cb02c" stroke-width="0.5"/>
<circle cx="81.75" cy="435.28" r="1.25" fill="#fff" stroke="#6cb02c" stroke-width="0.5"/>
<circle cx="79.36" cy="433.9" r="1.25" fill="#fff" stroke="#6cb02c" stroke-width="0.5"/>
<circle cx="76.98" cy="432.67" r="1.25" fill="#fff" stroke="#6cb02c" stroke-width="0.5"/>
<circle cx="74.6" cy="431.58" r="1.25" fill="#fff" stroke="#6cb02c" stroke-width="0.5"/>
<circle cx="72.22" cy="430.57" r="1.25" fill="#fff" stroke="#6cb02c" stroke-width="0.5"/>
<circle cx="69.84" cy="429.62" r="1.25" fill="#fff" stroke="#6cb02c" stroke-width="0.5"/>
<circle cx="67.46" cy="428.72" r="1.25" fill="#fff" stroke="#6cb02c" stroke-width="0.5"/>
<circle cx="65.08" cy="427.85" r="1.25" fill="#fff" stroke="#6cb02c" stroke-width="0.5"/>
<circle cx="62.7" cy="427" r="1.25" fill="#fff" stroke="#6cb02c" stroke-width="0.5"/>
<circle cx="60.32" cy="426.17" r="1.25" fill="#fff" stroke="#6cb02c" stroke-width="0.5"/>
<circle cx="57.94" cy="425.38" r="1.25" fill="#fff" stroke="#6cb02c" stroke-width="0.5"/>
<circle cx="55.55" cy="424.62" r="1.25" fill="#fff" stroke="#6cb02c" stroke-width="0.5"/>
<circle cx="53.17" cy="423.9" r="1.25" fill="#fff" stroke="#6cb02c" stroke-width="0.5"/>
<circle cx="50.79" cy="423.22" r="1.25" fill="#fff" stroke="#6cb02c" stroke-width="0.5"/>
<polyline points="112.7,512.4 110.32,509.32 107.94,507.36 105.56,505.4 103.18,503.83 100.79,502.53 98.41,501.4 96.03,500.36 93.65,499.38 91.27,498.42 88.89,497.51 86.51,496.64 84.13,495.82 81.75,495.05 79.36,494.35 76.98,493.71 74.6,493.13 72.22,492.59 69.84,492.08 67.46,491.6 65.08,491.14 62.7,490.7 60.32,490.27 57.94,489.86 55.55,489.46 53.17,489.09 50.79,488.74" fill="none" stroke="#6cb02c" stroke-width="0.9"/>
<circle cx="112.7" cy="512.4" r="1.25" fill="#fff" stroke="#6cb02c" stroke-width="0.5"/>
<circle cx="110.32" cy="509.32" r="1.25" fill="#fff" stroke="#6cb02c" stroke-width="0.5"/>
<circle cx="107.94" cy="507.36" r="1.25" fill="#fff" stroke="#6cb02c" stroke-width="0.5"/>
<circle cx="105.56" cy="505.4" r="1.25" fill="#fff" stroke="#6cb02c" stroke-width="0.5"/>
<circle cx="103.18" cy="503.83" r="1.25" fill="#fff" stroke="#6cb02c" stroke-width="0.5"/>
<circle cx="100.79" cy="502.53" r="1.25" fill="#fff" stroke="#6cb02c" stroke-width="0.5"/>
<circle cx="98.41" cy="501.4" r="1.25" fill="#fff" stroke="#6cb02c" stroke-width="0.5"/>
<circle cx="96.03" cy="500.36" r="1.25" fill="#fff" stroke="#6cb02c" stroke-width="0.5"/>
<circle cx="93.65" cy="499.38" r="1.25" fill="#fff" stroke="#6cb02c" stroke-width="0.5"/>
<circle cx="91.27" cy="498.42" r="1.25" fill="#fff" stroke="#6cb02c" stroke-width="0.5"/>
<circle cx="88.89" cy="497.51" r="1.25" fill="#fff" stroke="#6cb02c" stroke-width="0.5"/>
<circle cx="86.51" cy="496.64" r="1.25" fill="#fff" stroke="#6cb02c" stroke-width="0.5"/>
<circle cx="84.13" cy="495.82" r="1.25" fill="#fff" stroke="#6cb02c" stroke-width="0.5"/>
<circle cx="81.75" cy="495.05" r="1.25" fill="#fff" stroke="#6cb02c" stroke-width="0.5"/>
<circle cx="79.36" cy="494.35" r="1.25" fill="#fff" stroke="#6cb02c" stroke-width="0.5"/>
<circle cx="76.98" cy="493.71" r="1.25" fill="#fff" stroke="#6cb02c" stroke-width="0.5"/>
<circle cx="74.6" cy="493.13" r="1.25" fill="#fff" stroke="#6cb02c" stroke-width="0.5"/>
<circle cx="72.22" cy="492.59" r="1.25" fill="#fff" stroke="#6cb02c" stroke-width="0.5"/>
<circle cx="69.84" cy="492.08" r="1.25" fill="#fff" stroke="#6cb02c" stroke-width="0.5"/>
<circle cx="67.46" cy="491.6" r="1.25" fill="#fff" stroke="#6cb02c" stroke-width="0.5"/>
<circle cx="65.08" cy="491.14" r="1.25" fill="#fff" stroke="#6cb02c" stroke-width="0.5"/>
<circle cx="62.7" cy="490.7" r="1.25" fill="#fff" stroke="#6cb02c" stroke-width="0.5"/>
<circle cx="60.32" cy="490.27" r="1.25" fill="#fff" stroke="#6cb02c" stroke-width="0.5"/>
<circle cx="57.94" cy="489.86" r="1.25" fill="#fff" stroke="#6cb02c" stroke-width="0.5"/>
<circle cx="55.55" cy="489.46" r="1.25" fill="#fff" stroke="#6cb02c" stroke-width="0.5"/>
<circle cx="53.17" cy="489.09" r="1.25" fill="#fff" stroke="#6cb02c" stroke-width="0.5"/>
<circle cx="50.79" cy="488.74" r="1.25" fill="#fff" stroke="#6cb02c" stroke-width="0.5"/>
<polyline points="112.7,512.4 110.32,512.23 107.94,512.14 105.56,512.11 103.18,512.09 100.79,512.06 98.41,512.04 96.03,512.02 93.65,512.01 91.27,511.99 88.89,511.97 86.51,511.96 84.13,511.95 81.75,511.94 79.36,511.93 76.98,511.92 74.6,511.91 72.22,511.9 69.84,511.9 67.46,511.89 65.08,511.89 62.7,511.89 60.32,511.88 57.94,511.88 55.55,511.88 53.17,511.88 50.79,511.88" fill="none" stroke="#6cb02c" stroke-width="0.9"/>
<circle cx="112.7" cy="512.4" r="1.25" fill="#fff" stroke="#6cb02c" stroke-width="0.5"/>
<circle cx="110.32" cy="512.23" r="1.25" fill="#fff" stroke="#6cb02c" stroke-width="0.5"/>
<circle cx="107.94" cy="512.14" r="1.25" fill="#fff" stroke="#6cb02c" stroke-width="0.5"/>
<circle cx="105.56" cy="512.11" r="1.25" fill="#fff" stroke="#6cb02c" stroke-width="0.5"/>
<circle cx="103.18" cy="512.09" r="1.25" fill="#fff" stroke="#6cb02c" stroke-width="0.5"/>
<circle cx="100.79" cy="512.06" r="1.25" fill="#fff" stroke="#6cb02c" stroke-width="0.5"/>
<circle cx="98.41" cy="512.04" r="1.25" fill="#fff" stroke="#6cb02c" stroke-width="0.5"/>
<circle cx="96.03" cy="512.02" r="1.25" fill="#fff" stroke="#6cb02c" stroke-width="0.5"/>
<circle cx="93.65" cy="512.01" r="1.25" fill="#fff" stroke="#6cb02c" stroke-width="0.5"/>
<circle cx="91.27" cy="511.99" r="1.25" fill="#fff" stroke="#6cb02c" stroke-width="0.5"/>
<circle cx="88.89" cy="511.97" r="1.25" fill="#fff" stroke="#6cb02c" stroke-width="0.5"/>
<circle cx="86.51" cy="511.96" r="1.25" fill="#fff" stroke="#6cb02c" stroke-width="0.5"/>
<circle cx="84.13" cy="511.95" r="1.25" fill="#fff" stroke="#6cb02c" stroke-width="0.5"/>
<circle cx="81.75" cy="511.94" r="1.25" fill="#fff" stroke="#6cb02c" stroke-width="0.5"/>
<circle cx="79.36" cy="511.93" r="1.25" fill="#fff" stroke="#6cb02c" stroke-width="0.5"/>
<circle cx="76.98" cy="511.92" r="1.25" fill="#fff" stroke="#6cb02c" stroke-width="0.5"/>
<circle cx="74.6" cy="511.91" r="1.25" fill="#fff" stroke="#6cb02c" stroke-width="0.5"/>
<circle cx="72.22" cy="511.9" r="1.25" fill="#fff" stroke="#6cb02c" stroke-width="0.5"/>
<circle cx="69.84" cy="511.9" r="1.25" fill="#fff" stroke="#6cb02c" stroke-width="0.5"/>
<circle cx="67.46" cy="511.89" r="1.25" fill="#fff" stroke="#6cb02c" stroke-width="0.5"/>
<circle cx="65.08" cy="511.89" r="1.25" fill="#fff" stroke="#6cb02c" stroke-width="0.5"/>
<circle cx="62.7" cy="511.89" r="1.25" fill="#fff" stroke="#6cb02c" stroke-width="0.5"/>
<circle cx="60.32" cy="511.88" r="1.25" fill="#fff" stroke="#6cb02c" stroke-width="0.5"/>
<circle cx="57.94" cy="511.88" r="1.25" fill="#fff" stroke="#6cb02c" stroke-width="0.5"/>
<circle cx="55.55" cy="511.88" r="1.25" fill="#fff" stroke="#6cb02c" stroke-width="0.5"/>
<circle cx="53.17" cy="511.88" r="1.25" fill="#fff" stroke="#6cb02c" stroke-width="0.5"/>
<circle cx="50.79" cy="511.88" r="1.25" fill="#fff" stroke="#6cb02c" stroke-width="0.5"/>
<polyline points="112.7,512.4 115.08,498.71 117.46,483.76 119.84,472.56 122.22,465.07 124.61,460.69 126.99,456.98 129.37,454.19 131.75,452.39 134.13,450.93 136.51,449.57 138.89,448.37 141.27,447.29 143.65,446.32 146.04,445.42 148.42,444.55 150.8,443.7 153.18,442.87 155.56,442.07 157.94,441.28 160.32,440.51 162.7,439.76 165.08,439.02 167.46,438.3 169.85,437.6 172.23,436.91 174.61,436.24" fill="none" stroke="#6cb02c" stroke-width="1.5"/>
<circle cx="112.7" cy="512.4" r="1.25" fill="#fff" stroke="#6cb02c" stroke-width="0.5"/>
<circle cx="115.08" cy="498.71" r="1.25" fill="#fff" stroke="#6cb02c" stroke-width="0.5"/>
<circle cx="117.46" cy="483.76" r="1.25" fill="#fff" stroke="#6cb02c" stroke-width="0.5"/>
<circle cx="119.84" cy="472.56" r="1.25" fill="#fff" stroke="#6cb02c" stroke-width="0.5"/>
<circle cx="122.22" cy="465.07" r="1.25" fill="#fff" stroke="#6cb02c" stroke-width="0.5"/>
<circle cx="124.61" cy="460.69" r="1.25" fill="#fff" stroke="#6cb02c" stroke-width="0.5"/>
<circle cx="126.99" cy="456.98" r="1.25" fill="#fff" stroke="#6cb02c" stroke-width="0.5"/>
<circle cx="129.37" cy="454.19" r="1.25" fill="#fff" stroke="#6cb02c" stroke-width="0.5"/>
<circle cx="131.75" cy="452.39" r="1.25" fill="#fff" stroke="#6cb02c" stroke-width="0.5"/>
<circle cx="134.13" cy="450.93" r="1.25" fill="#fff" stroke="#6cb02c" stroke-width="0.5"/>
<circle cx="136.51" cy="449.57" r="1.25" fill="#fff" stroke="#6cb02c" stroke-width="0.5"/>
<circle cx="138.89" cy="448.37" r="1.25" fill="#fff" stroke="#6cb02c" stroke-width="0.5"/>
<circle cx="141.27" cy="447.29" r="1.25" fill="#fff" stroke="#6cb02c" stroke-width="0.5"/>
<circle cx="143.65" cy="446.32" r="1.25" fill="#fff" stroke="#6cb02c" stroke-width="0.5"/>
<circle cx="146.04" cy="445.42" r="1.25" fill="#fff" stroke="#6cb02c" stroke-width="0.5"/>
<circle cx="148.42" cy="444.55" r="1.25" fill="#fff" stroke="#6cb02c" stroke-width="0.5"/>
<circle cx="150.8" cy="443.7" r="1.25" fill="#fff" stroke="#6cb02c" stroke-width="0.5"/>
<circle cx="153.18" cy="442.87" r="1.25" fill="#fff" stroke="#6cb02c" stroke-width="0.5"/>
<circle cx="155.56" cy="442.07" r="1.25" fill="#fff" stroke="#6cb02c" stroke-width="0.5"/>
<circle cx="157.94" cy="441.28" r="1.25" fill="#fff" stroke="#6cb02c" stroke-width="0.5"/>
<circle cx="160.32" cy="440.51" r="1.25" fill="#fff" stroke="#6cb02c" stroke-width="0.5"/>
<circle cx="162.7" cy="439.76" r="1.25" fill="#fff" stroke="#6cb02c" stroke-width="0.5"/>
<circle cx="165.08" cy="439.02" r="1.25" fill="#fff" stroke="#6cb02c" stroke-width="0.5"/>
<circle cx="167.46" cy="438.3" r="1.25" fill="#fff" stroke="#6cb02c" stroke-width="0.5"/>
<circle cx="169.85" cy="437.6" r="1.25" fill="#fff" stroke="#6cb02c" stroke-width="0.5"/>
<circle cx="172.23" cy="436.91" r="1.25" fill="#fff" stroke="#6cb02c" stroke-width="0.5"/>
<circle cx="174.61" cy="436.24" r="1.25" fill="#fff" stroke="#6cb02c" stroke-width="0.5"/>
<polyline points="112.7,512.4 115.08,506.92 117.46,504.48 119.84,502.61 122.22,501.54 124.61,500.78 126.99,500.16 129.37,499.54 131.75,498.96 134.13,498.42 136.51,497.86 138.89,497.27 141.27,496.63 143.65,496 146.04,495.39 148.42,494.85 150.8,494.35 153.18,493.88 155.56,493.43 157.94,493 160.32,492.57 162.7,492.15 165.08,491.73 167.46,491.32 169.85,490.92 172.23,490.53 174.61,490.16" fill="none" stroke="#6cb02c" stroke-width="0.9"/>
<circle cx="112.7" cy="512.4" r="1.25" fill="#fff" stroke="#6cb02c" stroke-width="0.5"/>
<circle cx="115.08" cy="506.92" r="1.25" fill="#fff" stroke="#6cb02c" stroke-width="0.5"/>
<circle cx="117.46" cy="504.48" r="1.25" fill="#fff" stroke="#6cb02c" stroke-width="0.5"/>
<circle cx="119.84" cy="502.61" r="1.25" fill="#fff" stroke="#6cb02c" stroke-width="0.5"/>
<circle cx="122.22" cy="501.54" r="1.25" fill="#fff" stroke="#6cb02c" stroke-width="0.5"/>
<circle cx="124.61" cy="500.78" r="1.25" fill="#fff" stroke="#6cb02c" stroke-width="0.5"/>
<circle cx="126.99" cy="500.16" r="1.25" fill="#fff" stroke="#6cb02c" stroke-width="0.5"/>
<circle cx="129.37" cy="499.54" r="1.25" fill="#fff" stroke="#6cb02c" stroke-width="0.5"/>
<circle cx="131.75" cy="498.96" r="1.25" fill="#fff" stroke="#6cb02c" stroke-width="0.5"/>
<circle cx="134.13" cy="498.42" r="1.25" fill="#fff" stroke="#6cb02c" stroke-width="0.5"/>
<circle cx="136.51" cy="497.86" r="1.25" fill="#fff" stroke="#6cb02c" stroke-width="0.5"/>
<circle cx="138.89" cy="497.27" r="1.25" fill="#fff" stroke="#6cb02c" stroke-width="0.5"/>
<circle cx="141.27" cy="496.63" r="1.25" fill="#fff" stroke="#6cb02c" stroke-width="0.5"/>
<circle cx="143.65" cy="496" r="1.25" fill="#fff" stroke="#6cb02c" stroke-width="0.5"/>
<circle cx="146.04" cy="495.39" r="1.25" fill="#fff" stroke="#6cb02c" stroke-width="0.5"/>
<circle cx="148.42" cy="494.85" r="1.25" fill="#fff" stroke="#6cb02c" stroke-width="0.5"/>
<circle cx="150.8" cy="494.35" r="1.25" fill="#fff" stroke="#6cb02c" stroke-width="0.5"/>
<circle cx="153.18" cy="493.88" r="1.25" fill="#fff" stroke="#6cb02c" stroke-width="0.5"/>
<circle cx="155.56" cy="493.43" r="1.25" fill="#fff" stroke="#6cb02c" stroke-width="0.5"/>
<circle cx="157.94" cy="493" r="1.25" fill="#fff" stroke="#6cb02c" stroke-width="0.5"/>
<circle cx="160.32" cy="492.57" r="1.25" fill="#fff" stroke="#6cb02c" stroke-width="0.5"/>
<circle cx="162.7" cy="492.15" r="1.25" fill="#fff" stroke="#6cb02c" stroke-width="0.5"/>
<circle cx="165.08" cy="491.73" r="1.25" fill="#fff" stroke="#6cb02c" stroke-width="0.5"/>
<circle cx="167.46" cy="491.32" r="1.25" fill="#fff" stroke="#6cb02c" stroke-width="0.5"/>
<circle cx="169.85" cy="490.92" r="1.25" fill="#fff" stroke="#6cb02c" stroke-width="0.5"/>
<circle cx="172.23" cy="490.53" r="1.25" fill="#fff" stroke="#6cb02c" stroke-width="0.5"/>
<circle cx="174.61" cy="490.16" r="1.25" fill="#fff" stroke="#6cb02c" stroke-width="0.5"/>
<polyline points="112.7,512.4 115.08,512.23 117.46,512.14 119.84,512.11 122.22,512.09 124.61,512.06 126.99,512.04 129.37,512.02 131.75,512.01 134.13,511.99 136.51,511.97 138.89,511.96 141.27,511.95 143.65,511.94 146.04,511.93 148.42,511.92 150.8,511.91 153.18,511.9 155.56,511.9 157.94,511.89 160.32,511.89 162.7,511.89 165.08,511.88 167.46,511.88 169.85,511.88 172.23,511.88 174.61,511.88" fill="none" stroke="#6cb02c" stroke-width="0.9"/>
<circle cx="112.7" cy="512.4" r="1.25" fill="#fff" stroke="#6cb02c" stroke-width="0.5"/>
<circle cx="115.08" cy="512.23" r="1.25" fill="#fff" stroke="#6cb02c" stroke-width="0.5"/>
<circle cx="117.46" cy="512.14" r="1.25" fill="#fff" stroke="#6cb02c" stroke-width="0.5"/>
<circle cx="119.84" cy="512.11" r="1.25" fill="#fff" stroke="#6cb02c" stroke-width="0.5"/>
<circle cx="122.22" cy="512.09" r="1.25" fill="#fff" stroke="#6cb02c" stroke-width="0.5"/>
<circle cx="124.61" cy="512.06" r="1.25" fill="#fff" stroke="#6cb02c" stroke-width="0.5"/>
<circle cx="126.99" cy="512.04" r="1.25" fill="#fff" stroke="#6cb02c" stroke-width="0.5"/>
<circle cx="129.37" cy="512.02" r="1.25" fill="#fff" stroke="#6cb02c" stroke-width="0.5"/>
<circle cx="131.75" cy="512.01" r="1.25" fill="#fff" stroke="#6cb02c" stroke-width="0.5"/>
<circle cx="134.13" cy="511.99" r="1.25" fill="#fff" stroke="#6cb02c" stroke-width="0.5"/>
<circle cx="136.51" cy="511.97" r="1.25" fill="#fff" stroke="#6cb02c" stroke-width="0.5"/>
<circle cx="138.89" cy="511.96" r="1.25" fill="#fff" stroke="#6cb02c" stroke-width="0.5"/>
<circle cx="141.27" cy="511.95" r="1.25" fill="#fff" stroke="#6cb02c" stroke-width="0.5"/>
<circle cx="143.65" cy="511.94" r="1.25" fill="#fff" stroke="#6cb02c" stroke-width="0.5"/>
<circle cx="146.04" cy="511.93" r="1.25" fill="#fff" stroke="#6cb02c" stroke-width="0.5"/>
<circle cx="148.42" cy="511.92" r="1.25" fill="#fff" stroke="#6cb02c" stroke-width="0.5"/>
<circle cx="150.8" cy="511.91" r="1.25" fill="#fff" stroke="#6cb02c" stroke-width="0.5"/>
<circle cx="153.18" cy="511.9" r="1.25" fill="#fff" stroke="#6cb02c" stroke-width="0.5"/>
<circle cx="155.56" cy="511.9" r="1.25" fill="#fff" stroke="#6cb02c" stroke-width="0.5"/>
<circle cx="157.94" cy="511.89" r="1.25" fill="#fff" stroke="#6cb02c" stroke-width="0.5"/>
<circle cx="160.32" cy="511.89" r="1.25" fill="#fff" stroke="#6cb02c" stroke-width="0.5"/>
<circle cx="162.7" cy="511.89" r="1.25" fill="#fff" stroke="#6cb02c" stroke-width="0.5"/>
<circle cx="165.08" cy="511.88" r="1.25" fill="#fff" stroke="#6cb02c" stroke-width="0.5"/>
<circle cx="167.46" cy="511.88" r="1.25" fill="#fff" stroke="#6cb02c" stroke-width="0.5"/>
<circle cx="169.85" cy="511.88" r="1.25" fill="#fff" stroke="#6cb02c" stroke-width="0.5"/>
<circle cx="172.23" cy="511.88" r="1.25" fill="#fff" stroke="#6cb02c" stroke-width="0.5"/>
<circle cx="174.61" cy="511.88" r="1.25" fill="#fff" stroke="#6cb02c" stroke-width="0.5"/>
<rect x="42" y="408.2" width="141.4" height="113.1" fill="none" stroke="#000" stroke-width="1.5"/>
<line x1="42.7" y1="512.4" x2="44.9" y2="512.4" stroke="#000" stroke-width="0.8" />
<line x1="42.7" y1="490.65" x2="44" y2="490.65" stroke="#000" stroke-width="0.8" />
<line x1="42.7" y1="468.9" x2="44.9" y2="468.9" stroke="#000" stroke-width="0.8" />
<line x1="42.7" y1="447.15" x2="44" y2="447.15" stroke="#000" stroke-width="0.8" />
<line x1="42.7" y1="425.4" x2="44.9" y2="425.4" stroke="#000" stroke-width="0.8" />
<line x1="59.64" y1="520.6" x2="59.64" y2="519.3" stroke="#000" stroke-width="0.8" />
<line x1="77.32" y1="520.6" x2="77.32" y2="518.4" stroke="#000" stroke-width="0.8" />
<line x1="95.01" y1="520.6" x2="95.01" y2="519.3" stroke="#000" stroke-width="0.8" />
<line x1="112.7" y1="520.6" x2="112.7" y2="518.4" stroke="#000" stroke-width="0.8" />
<line x1="130.39" y1="520.6" x2="130.39" y2="519.3" stroke="#000" stroke-width="0.8" />
<line x1="148.08" y1="520.6" x2="148.08" y2="518.4" stroke="#000" stroke-width="0.8" />
<line x1="165.76" y1="520.6" x2="165.76" y2="519.3" stroke="#000" stroke-width="0.8" />
<text x="41.95" y="530.1" font-size="7.2" text-anchor="middle" font-weight="bold" fill="#000"  stroke="#000" stroke-width="0.2">-0.8</text>
<text x="77.32" y="530.1" font-size="7.2" text-anchor="middle" font-weight="bold" fill="#000"  stroke="#000" stroke-width="0.2">-0.4</text>
<text x="112.7" y="530.1" font-size="7.2" text-anchor="middle" font-weight="bold" fill="#000"  stroke="#000" stroke-width="0.2">0.0</text>
<text x="148.08" y="530.1" font-size="7.2" text-anchor="middle" font-weight="bold" fill="#000"  stroke="#000" stroke-width="0.2">0.4</text>
<text x="183.45" y="530.1" font-size="7.2" text-anchor="middle" font-weight="bold" fill="#000"  stroke="#000" stroke-width="0.2">0.8</text>
<text x="114.7" y="544.8" font-size="10.2" text-anchor="middle" font-weight="bold" fill="#000"  stroke="#000" stroke-width="0.2">Vds(V)</text>
<rect x="99.1" y="411.5" width="33.8" height="11.2" fill="#6cb02c"/>
<rect x="97.8" y="410.2" width="33.8" height="11.2" fill="#fff" stroke="#6cb02c" stroke-width="0.7"/>
<text x="0" y="0" transform="translate(114.7,419.2) scale(1.0,1.08)" font-size="7.3" text-anchor="middle" font-weight="bold" fill="#6cb02c"  stroke="#6cb02c" stroke-width="0.2">PTS_1e18</text>
<text x="55.8" y="456" font-size="6.3" text-anchor="middle" font-weight="bold" fill="#000"  stroke="#000" stroke-width="0.2">PMOS</text>
<text x="166.2" y="453.5" font-size="6.3" text-anchor="middle" font-weight="bold" fill="#000"  stroke="#000" stroke-width="0.2">NMOS</text>
<text x="0" y="0" transform="translate(129.4,475) scale(1.0,1.1)" font-size="7.5" text-anchor="start" font-weight="bold" fill="#000"  stroke="#000" stroke-width="0.2">|Vgs|=0.2V-0.6V</text>
<text x="0" y="0" transform="translate(129.4,486.4) scale(1.0,1.1)" font-size="7.5" text-anchor="start" font-weight="bold" fill="#000"  stroke="#000" stroke-width="0.2">Step=0.2V</text>
<text x="39" y="428" font-size="7.4" font-weight="bold" text-anchor="end">1×10<tspan font-size="5" dy="-3">-4</tspan></text>
<text x="39" y="471.5" font-size="7.4" font-weight="bold" text-anchor="end">5×10<tspan font-size="5" dy="-3">-5</tspan></text>
<text x="37.6" y="514.9" font-size="7.2" text-anchor="middle" font-weight="bold" fill="#000"  stroke="#000" stroke-width="0.2">0</text>
<text x="0" y="0" font-size="13.2" font-weight="bold" text-anchor="middle" transform="translate(16,465.25) rotate(-90)">Id(A)</text>
<line x1="197.3" y1="512.6" x2="338.8" y2="512.6" stroke="#d6d6d6" stroke-width="0.7" />
<line x1="197.3" y1="490.85" x2="338.8" y2="490.85" stroke="#d6d6d6" stroke-width="0.7" />
<line x1="197.3" y1="469.1" x2="338.8" y2="469.1" stroke="#d6d6d6" stroke-width="0.7" />
<line x1="197.3" y1="447.35" x2="338.8" y2="447.35" stroke="#d6d6d6" stroke-width="0.7" />
<line x1="197.3" y1="425.6" x2="338.8" y2="425.6" stroke="#d6d6d6" stroke-width="0.7" />
<polyline points="268.3,512.6 265.92,501.46 263.54,489.38 261.16,477.59 258.78,467.45 256.39,459.81 254.01,453.78 251.63,448.99 249.25,445.36 246.87,442.82 244.49,440.75 242.11,438.93 239.73,437.19 237.35,435.59 234.96,434.13 232.58,432.82 230.2,431.59 227.82,430.38 225.44,429.23 223.06,428.15 220.68,427.17 218.3,426.31 215.92,425.6 213.54,425.02 211.15,424.51 208.77,424.08 206.39,423.76" fill="none" stroke="#1f6de0" stroke-width="1.5"/>
<circle cx="268.3" cy="512.6" r="1.25" fill="#fff" stroke="#1f6de0" stroke-width="0.5"/>
<circle cx="265.92" cy="501.46" r="1.25" fill="#fff" stroke="#1f6de0" stroke-width="0.5"/>
<circle cx="263.54" cy="489.38" r="1.25" fill="#fff" stroke="#1f6de0" stroke-width="0.5"/>
<circle cx="261.16" cy="477.59" r="1.25" fill="#fff" stroke="#1f6de0" stroke-width="0.5"/>
<circle cx="258.78" cy="467.45" r="1.25" fill="#fff" stroke="#1f6de0" stroke-width="0.5"/>
<circle cx="256.39" cy="459.81" r="1.25" fill="#fff" stroke="#1f6de0" stroke-width="0.5"/>
<circle cx="254.01" cy="453.78" r="1.25" fill="#fff" stroke="#1f6de0" stroke-width="0.5"/>
<circle cx="251.63" cy="448.99" r="1.25" fill="#fff" stroke="#1f6de0" stroke-width="0.5"/>
<circle cx="249.25" cy="445.36" r="1.25" fill="#fff" stroke="#1f6de0" stroke-width="0.5"/>
<circle cx="246.87" cy="442.82" r="1.25" fill="#fff" stroke="#1f6de0" stroke-width="0.5"/>
<circle cx="244.49" cy="440.75" r="1.25" fill="#fff" stroke="#1f6de0" stroke-width="0.5"/>
<circle cx="242.11" cy="438.93" r="1.25" fill="#fff" stroke="#1f6de0" stroke-width="0.5"/>
<circle cx="239.73" cy="437.19" r="1.25" fill="#fff" stroke="#1f6de0" stroke-width="0.5"/>
<circle cx="237.35" cy="435.59" r="1.25" fill="#fff" stroke="#1f6de0" stroke-width="0.5"/>
<circle cx="234.96" cy="434.13" r="1.25" fill="#fff" stroke="#1f6de0" stroke-width="0.5"/>
<circle cx="232.58" cy="432.82" r="1.25" fill="#fff" stroke="#1f6de0" stroke-width="0.5"/>
<circle cx="230.2" cy="431.59" r="1.25" fill="#fff" stroke="#1f6de0" stroke-width="0.5"/>
<circle cx="227.82" cy="430.38" r="1.25" fill="#fff" stroke="#1f6de0" stroke-width="0.5"/>
<circle cx="225.44" cy="429.23" r="1.25" fill="#fff" stroke="#1f6de0" stroke-width="0.5"/>
<circle cx="223.06" cy="428.15" r="1.25" fill="#fff" stroke="#1f6de0" stroke-width="0.5"/>
<circle cx="220.68" cy="427.17" r="1.25" fill="#fff" stroke="#1f6de0" stroke-width="0.5"/>
<circle cx="218.3" cy="426.31" r="1.25" fill="#fff" stroke="#1f6de0" stroke-width="0.5"/>
<circle cx="215.92" cy="425.6" r="1.25" fill="#fff" stroke="#1f6de0" stroke-width="0.5"/>
<circle cx="213.54" cy="425.02" r="1.25" fill="#fff" stroke="#1f6de0" stroke-width="0.5"/>
<circle cx="211.15" cy="424.51" r="1.25" fill="#fff" stroke="#1f6de0" stroke-width="0.5"/>
<circle cx="208.77" cy="424.08" r="1.25" fill="#fff" stroke="#1f6de0" stroke-width="0.5"/>
<circle cx="206.39" cy="423.76" r="1.25" fill="#fff" stroke="#1f6de0" stroke-width="0.5"/>
<polyline points="268.3,512.6 265.92,507.65 263.54,504.44 261.16,502.43 258.78,501.13 256.39,500.14 254.01,499.33 251.63,498.57 249.25,497.79 246.87,497.01 244.49,496.23 242.11,495.48 239.73,494.76 237.35,494.09 234.96,493.46 232.58,492.9 230.2,492.38 227.82,491.87 225.44,491.38 223.06,490.93 220.68,490.52 218.3,490.17 215.92,489.88 213.54,489.64 211.15,489.44 208.77,489.26 206.39,489.14" fill="none" stroke="#1f6de0" stroke-width="0.9"/>
<circle cx="268.3" cy="512.6" r="1.25" fill="#fff" stroke="#1f6de0" stroke-width="0.5"/>
<circle cx="265.92" cy="507.65" r="1.25" fill="#fff" stroke="#1f6de0" stroke-width="0.5"/>
<circle cx="263.54" cy="504.44" r="1.25" fill="#fff" stroke="#1f6de0" stroke-width="0.5"/>
<circle cx="261.16" cy="502.43" r="1.25" fill="#fff" stroke="#1f6de0" stroke-width="0.5"/>
<circle cx="258.78" cy="501.13" r="1.25" fill="#fff" stroke="#1f6de0" stroke-width="0.5"/>
<circle cx="256.39" cy="500.14" r="1.25" fill="#fff" stroke="#1f6de0" stroke-width="0.5"/>
<circle cx="254.01" cy="499.33" r="1.25" fill="#fff" stroke="#1f6de0" stroke-width="0.5"/>
<circle cx="251.63" cy="498.57" r="1.25" fill="#fff" stroke="#1f6de0" stroke-width="0.5"/>
<circle cx="249.25" cy="497.79" r="1.25" fill="#fff" stroke="#1f6de0" stroke-width="0.5"/>
<circle cx="246.87" cy="497.01" r="1.25" fill="#fff" stroke="#1f6de0" stroke-width="0.5"/>
<circle cx="244.49" cy="496.23" r="1.25" fill="#fff" stroke="#1f6de0" stroke-width="0.5"/>
<circle cx="242.11" cy="495.48" r="1.25" fill="#fff" stroke="#1f6de0" stroke-width="0.5"/>
<circle cx="239.73" cy="494.76" r="1.25" fill="#fff" stroke="#1f6de0" stroke-width="0.5"/>
<circle cx="237.35" cy="494.09" r="1.25" fill="#fff" stroke="#1f6de0" stroke-width="0.5"/>
<circle cx="234.96" cy="493.46" r="1.25" fill="#fff" stroke="#1f6de0" stroke-width="0.5"/>
<circle cx="232.58" cy="492.9" r="1.25" fill="#fff" stroke="#1f6de0" stroke-width="0.5"/>
<circle cx="230.2" cy="492.38" r="1.25" fill="#fff" stroke="#1f6de0" stroke-width="0.5"/>
<circle cx="227.82" cy="491.87" r="1.25" fill="#fff" stroke="#1f6de0" stroke-width="0.5"/>
<circle cx="225.44" cy="491.38" r="1.25" fill="#fff" stroke="#1f6de0" stroke-width="0.5"/>
<circle cx="223.06" cy="490.93" r="1.25" fill="#fff" stroke="#1f6de0" stroke-width="0.5"/>
<circle cx="220.68" cy="490.52" r="1.25" fill="#fff" stroke="#1f6de0" stroke-width="0.5"/>
<circle cx="218.3" cy="490.17" r="1.25" fill="#fff" stroke="#1f6de0" stroke-width="0.5"/>
<circle cx="215.92" cy="489.88" r="1.25" fill="#fff" stroke="#1f6de0" stroke-width="0.5"/>
<circle cx="213.54" cy="489.64" r="1.25" fill="#fff" stroke="#1f6de0" stroke-width="0.5"/>
<circle cx="211.15" cy="489.44" r="1.25" fill="#fff" stroke="#1f6de0" stroke-width="0.5"/>
<circle cx="208.77" cy="489.26" r="1.25" fill="#fff" stroke="#1f6de0" stroke-width="0.5"/>
<circle cx="206.39" cy="489.14" r="1.25" fill="#fff" stroke="#1f6de0" stroke-width="0.5"/>
<polyline points="268.3,512.6 265.92,512.43 263.54,512.34 261.16,512.31 258.78,512.29 256.39,512.26 254.01,512.24 251.63,512.22 249.25,512.21 246.87,512.19 244.49,512.17 242.11,512.16 239.73,512.15 237.35,512.14 234.96,512.13 232.58,512.12 230.2,512.11 227.82,512.1 225.44,512.1 223.06,512.09 220.68,512.09 218.3,512.09 215.92,512.08 213.54,512.08 211.15,512.08 208.77,512.08 206.39,512.08" fill="none" stroke="#1f6de0" stroke-width="0.9"/>
<circle cx="268.3" cy="512.6" r="1.25" fill="#fff" stroke="#1f6de0" stroke-width="0.5"/>
<circle cx="265.92" cy="512.43" r="1.25" fill="#fff" stroke="#1f6de0" stroke-width="0.5"/>
<circle cx="263.54" cy="512.34" r="1.25" fill="#fff" stroke="#1f6de0" stroke-width="0.5"/>
<circle cx="261.16" cy="512.31" r="1.25" fill="#fff" stroke="#1f6de0" stroke-width="0.5"/>
<circle cx="258.78" cy="512.29" r="1.25" fill="#fff" stroke="#1f6de0" stroke-width="0.5"/>
<circle cx="256.39" cy="512.26" r="1.25" fill="#fff" stroke="#1f6de0" stroke-width="0.5"/>
<circle cx="254.01" cy="512.24" r="1.25" fill="#fff" stroke="#1f6de0" stroke-width="0.5"/>
<circle cx="251.63" cy="512.22" r="1.25" fill="#fff" stroke="#1f6de0" stroke-width="0.5"/>
<circle cx="249.25" cy="512.21" r="1.25" fill="#fff" stroke="#1f6de0" stroke-width="0.5"/>
<circle cx="246.87" cy="512.19" r="1.25" fill="#fff" stroke="#1f6de0" stroke-width="0.5"/>
<circle cx="244.49" cy="512.17" r="1.25" fill="#fff" stroke="#1f6de0" stroke-width="0.5"/>
<circle cx="242.11" cy="512.16" r="1.25" fill="#fff" stroke="#1f6de0" stroke-width="0.5"/>
<circle cx="239.73" cy="512.15" r="1.25" fill="#fff" stroke="#1f6de0" stroke-width="0.5"/>
<circle cx="237.35" cy="512.14" r="1.25" fill="#fff" stroke="#1f6de0" stroke-width="0.5"/>
<circle cx="234.96" cy="512.13" r="1.25" fill="#fff" stroke="#1f6de0" stroke-width="0.5"/>
<circle cx="232.58" cy="512.12" r="1.25" fill="#fff" stroke="#1f6de0" stroke-width="0.5"/>
<circle cx="230.2" cy="512.11" r="1.25" fill="#fff" stroke="#1f6de0" stroke-width="0.5"/>
<circle cx="227.82" cy="512.1" r="1.25" fill="#fff" stroke="#1f6de0" stroke-width="0.5"/>
<circle cx="225.44" cy="512.1" r="1.25" fill="#fff" stroke="#1f6de0" stroke-width="0.5"/>
<circle cx="223.06" cy="512.09" r="1.25" fill="#fff" stroke="#1f6de0" stroke-width="0.5"/>
<circle cx="220.68" cy="512.09" r="1.25" fill="#fff" stroke="#1f6de0" stroke-width="0.5"/>
<circle cx="218.3" cy="512.09" r="1.25" fill="#fff" stroke="#1f6de0" stroke-width="0.5"/>
<circle cx="215.92" cy="512.08" r="1.25" fill="#fff" stroke="#1f6de0" stroke-width="0.5"/>
<circle cx="213.54" cy="512.08" r="1.25" fill="#fff" stroke="#1f6de0" stroke-width="0.5"/>
<circle cx="211.15" cy="512.08" r="1.25" fill="#fff" stroke="#1f6de0" stroke-width="0.5"/>
<circle cx="208.77" cy="512.08" r="1.25" fill="#fff" stroke="#1f6de0" stroke-width="0.5"/>
<circle cx="206.39" cy="512.08" r="1.25" fill="#fff" stroke="#1f6de0" stroke-width="0.5"/>
<polyline points="268.3,512.6 270.68,499.22 273.06,487.31 275.44,478.16 277.82,471.52 280.21,466.63 282.59,463.1 284.97,460.59 287.35,458.63 289.73,457.04 292.11,455.69 294.49,454.52 296.87,453.43 299.25,452.44 301.64,451.58 304.02,450.86 306.4,450.21 308.78,449.61 311.16,449.05 313.54,448.52 315.92,448.01 318.3,447.49 320.68,447 323.06,446.52 325.45,446.06 327.83,445.62 330.21,445.21" fill="none" stroke="#1f6de0" stroke-width="1.5"/>
<circle cx="268.3" cy="512.6" r="1.25" fill="#fff" stroke="#1f6de0" stroke-width="0.5"/>
<circle cx="270.68" cy="499.22" r="1.25" fill="#fff" stroke="#1f6de0" stroke-width="0.5"/>
<circle cx="273.06" cy="487.31" r="1.25" fill="#fff" stroke="#1f6de0" stroke-width="0.5"/>
<circle cx="275.44" cy="478.16" r="1.25" fill="#fff" stroke="#1f6de0" stroke-width="0.5"/>
<circle cx="277.82" cy="471.52" r="1.25" fill="#fff" stroke="#1f6de0" stroke-width="0.5"/>
<circle cx="280.21" cy="466.63" r="1.25" fill="#fff" stroke="#1f6de0" stroke-width="0.5"/>
<circle cx="282.59" cy="463.1" r="1.25" fill="#fff" stroke="#1f6de0" stroke-width="0.5"/>
<circle cx="284.97" cy="460.59" r="1.25" fill="#fff" stroke="#1f6de0" stroke-width="0.5"/>
<circle cx="287.35" cy="458.63" r="1.25" fill="#fff" stroke="#1f6de0" stroke-width="0.5"/>
<circle cx="289.73" cy="457.04" r="1.25" fill="#fff" stroke="#1f6de0" stroke-width="0.5"/>
<circle cx="292.11" cy="455.69" r="1.25" fill="#fff" stroke="#1f6de0" stroke-width="0.5"/>
<circle cx="294.49" cy="454.52" r="1.25" fill="#fff" stroke="#1f6de0" stroke-width="0.5"/>
<circle cx="296.87" cy="453.43" r="1.25" fill="#fff" stroke="#1f6de0" stroke-width="0.5"/>
<circle cx="299.25" cy="452.44" r="1.25" fill="#fff" stroke="#1f6de0" stroke-width="0.5"/>
<circle cx="301.64" cy="451.58" r="1.25" fill="#fff" stroke="#1f6de0" stroke-width="0.5"/>
<circle cx="304.02" cy="450.86" r="1.25" fill="#fff" stroke="#1f6de0" stroke-width="0.5"/>
<circle cx="306.4" cy="450.21" r="1.25" fill="#fff" stroke="#1f6de0" stroke-width="0.5"/>
<circle cx="308.78" cy="449.61" r="1.25" fill="#fff" stroke="#1f6de0" stroke-width="0.5"/>
<circle cx="311.16" cy="449.05" r="1.25" fill="#fff" stroke="#1f6de0" stroke-width="0.5"/>
<circle cx="313.54" cy="448.52" r="1.25" fill="#fff" stroke="#1f6de0" stroke-width="0.5"/>
<circle cx="315.92" cy="448.01" r="1.25" fill="#fff" stroke="#1f6de0" stroke-width="0.5"/>
<circle cx="318.3" cy="447.49" r="1.25" fill="#fff" stroke="#1f6de0" stroke-width="0.5"/>
<circle cx="320.68" cy="447" r="1.25" fill="#fff" stroke="#1f6de0" stroke-width="0.5"/>
<circle cx="323.06" cy="446.52" r="1.25" fill="#fff" stroke="#1f6de0" stroke-width="0.5"/>
<circle cx="325.45" cy="446.06" r="1.25" fill="#fff" stroke="#1f6de0" stroke-width="0.5"/>
<circle cx="327.83" cy="445.62" r="1.25" fill="#fff" stroke="#1f6de0" stroke-width="0.5"/>
<circle cx="330.21" cy="445.21" r="1.25" fill="#fff" stroke="#1f6de0" stroke-width="0.5"/>
<polyline points="268.3,512.6 270.68,506.07 273.06,503.92 275.44,502.73 277.82,501.89 280.21,501.24 282.59,500.73 284.97,500.33 287.35,500 289.73,499.72 292.11,499.45 294.49,499.16 296.87,498.84 299.25,498.52 301.64,498.19 304.02,497.86 306.4,497.53 308.78,497.2 311.16,496.87 313.54,496.54 315.92,496.21 318.3,495.88 320.68,495.55 323.06,495.23 325.45,494.9 327.83,494.57 330.21,494.24" fill="none" stroke="#1f6de0" stroke-width="0.9"/>
<circle cx="268.3" cy="512.6" r="1.25" fill="#fff" stroke="#1f6de0" stroke-width="0.5"/>
<circle cx="270.68" cy="506.07" r="1.25" fill="#fff" stroke="#1f6de0" stroke-width="0.5"/>
<circle cx="273.06" cy="503.92" r="1.25" fill="#fff" stroke="#1f6de0" stroke-width="0.5"/>
<circle cx="275.44" cy="502.73" r="1.25" fill="#fff" stroke="#1f6de0" stroke-width="0.5"/>
<circle cx="277.82" cy="501.89" r="1.25" fill="#fff" stroke="#1f6de0" stroke-width="0.5"/>
<circle cx="280.21" cy="501.24" r="1.25" fill="#fff" stroke="#1f6de0" stroke-width="0.5"/>
<circle cx="282.59" cy="500.73" r="1.25" fill="#fff" stroke="#1f6de0" stroke-width="0.5"/>
<circle cx="284.97" cy="500.33" r="1.25" fill="#fff" stroke="#1f6de0" stroke-width="0.5"/>
<circle cx="287.35" cy="500" r="1.25" fill="#fff" stroke="#1f6de0" stroke-width="0.5"/>
<circle cx="289.73" cy="499.72" r="1.25" fill="#fff" stroke="#1f6de0" stroke-width="0.5"/>
<circle cx="292.11" cy="499.45" r="1.25" fill="#fff" stroke="#1f6de0" stroke-width="0.5"/>
<circle cx="294.49" cy="499.16" r="1.25" fill="#fff" stroke="#1f6de0" stroke-width="0.5"/>
<circle cx="296.87" cy="498.84" r="1.25" fill="#fff" stroke="#1f6de0" stroke-width="0.5"/>
<circle cx="299.25" cy="498.52" r="1.25" fill="#fff" stroke="#1f6de0" stroke-width="0.5"/>
<circle cx="301.64" cy="498.19" r="1.25" fill="#fff" stroke="#1f6de0" stroke-width="0.5"/>
<circle cx="304.02" cy="497.86" r="1.25" fill="#fff" stroke="#1f6de0" stroke-width="0.5"/>
<circle cx="306.4" cy="497.53" r="1.25" fill="#fff" stroke="#1f6de0" stroke-width="0.5"/>
<circle cx="308.78" cy="497.2" r="1.25" fill="#fff" stroke="#1f6de0" stroke-width="0.5"/>
<circle cx="311.16" cy="496.87" r="1.25" fill="#fff" stroke="#1f6de0" stroke-width="0.5"/>
<circle cx="313.54" cy="496.54" r="1.25" fill="#fff" stroke="#1f6de0" stroke-width="0.5"/>
<circle cx="315.92" cy="496.21" r="1.25" fill="#fff" stroke="#1f6de0" stroke-width="0.5"/>
<circle cx="318.3" cy="495.88" r="1.25" fill="#fff" stroke="#1f6de0" stroke-width="0.5"/>
<circle cx="320.68" cy="495.55" r="1.25" fill="#fff" stroke="#1f6de0" stroke-width="0.5"/>
<circle cx="323.06" cy="495.23" r="1.25" fill="#fff" stroke="#1f6de0" stroke-width="0.5"/>
<circle cx="325.45" cy="494.9" r="1.25" fill="#fff" stroke="#1f6de0" stroke-width="0.5"/>
<circle cx="327.83" cy="494.57" r="1.25" fill="#fff" stroke="#1f6de0" stroke-width="0.5"/>
<circle cx="330.21" cy="494.24" r="1.25" fill="#fff" stroke="#1f6de0" stroke-width="0.5"/>
<polyline points="268.3,512.6 270.68,512.43 273.06,512.34 275.44,512.31 277.82,512.29 280.21,512.26 282.59,512.24 284.97,512.22 287.35,512.21 289.73,512.19 292.11,512.17 294.49,512.16 296.87,512.15 299.25,512.14 301.64,512.13 304.02,512.12 306.4,512.11 308.78,512.1 311.16,512.1 313.54,512.09 315.92,512.09 318.3,512.09 320.68,512.08 323.06,512.08 325.45,512.08 327.83,512.08 330.21,512.08" fill="none" stroke="#1f6de0" stroke-width="0.9"/>
<circle cx="268.3" cy="512.6" r="1.25" fill="#fff" stroke="#1f6de0" stroke-width="0.5"/>
<circle cx="270.68" cy="512.43" r="1.25" fill="#fff" stroke="#1f6de0" stroke-width="0.5"/>
<circle cx="273.06" cy="512.34" r="1.25" fill="#fff" stroke="#1f6de0" stroke-width="0.5"/>
<circle cx="275.44" cy="512.31" r="1.25" fill="#fff" stroke="#1f6de0" stroke-width="0.5"/>
<circle cx="277.82" cy="512.29" r="1.25" fill="#fff" stroke="#1f6de0" stroke-width="0.5"/>
<circle cx="280.21" cy="512.26" r="1.25" fill="#fff" stroke="#1f6de0" stroke-width="0.5"/>
<circle cx="282.59" cy="512.24" r="1.25" fill="#fff" stroke="#1f6de0" stroke-width="0.5"/>
<circle cx="284.97" cy="512.22" r="1.25" fill="#fff" stroke="#1f6de0" stroke-width="0.5"/>
<circle cx="287.35" cy="512.21" r="1.25" fill="#fff" stroke="#1f6de0" stroke-width="0.5"/>
<circle cx="289.73" cy="512.19" r="1.25" fill="#fff" stroke="#1f6de0" stroke-width="0.5"/>
<circle cx="292.11" cy="512.17" r="1.25" fill="#fff" stroke="#1f6de0" stroke-width="0.5"/>
<circle cx="294.49" cy="512.16" r="1.25" fill="#fff" stroke="#1f6de0" stroke-width="0.5"/>
<circle cx="296.87" cy="512.15" r="1.25" fill="#fff" stroke="#1f6de0" stroke-width="0.5"/>
<circle cx="299.25" cy="512.14" r="1.25" fill="#fff" stroke="#1f6de0" stroke-width="0.5"/>
<circle cx="301.64" cy="512.13" r="1.25" fill="#fff" stroke="#1f6de0" stroke-width="0.5"/>
<circle cx="304.02" cy="512.12" r="1.25" fill="#fff" stroke="#1f6de0" stroke-width="0.5"/>
<circle cx="306.4" cy="512.11" r="1.25" fill="#fff" stroke="#1f6de0" stroke-width="0.5"/>
<circle cx="308.78" cy="512.1" r="1.25" fill="#fff" stroke="#1f6de0" stroke-width="0.5"/>
<circle cx="311.16" cy="512.1" r="1.25" fill="#fff" stroke="#1f6de0" stroke-width="0.5"/>
<circle cx="313.54" cy="512.09" r="1.25" fill="#fff" stroke="#1f6de0" stroke-width="0.5"/>
<circle cx="315.92" cy="512.09" r="1.25" fill="#fff" stroke="#1f6de0" stroke-width="0.5"/>
<circle cx="318.3" cy="512.09" r="1.25" fill="#fff" stroke="#1f6de0" stroke-width="0.5"/>
<circle cx="320.68" cy="512.08" r="1.25" fill="#fff" stroke="#1f6de0" stroke-width="0.5"/>
<circle cx="323.06" cy="512.08" r="1.25" fill="#fff" stroke="#1f6de0" stroke-width="0.5"/>
<circle cx="325.45" cy="512.08" r="1.25" fill="#fff" stroke="#1f6de0" stroke-width="0.5"/>
<circle cx="327.83" cy="512.08" r="1.25" fill="#fff" stroke="#1f6de0" stroke-width="0.5"/>
<circle cx="330.21" cy="512.08" r="1.25" fill="#fff" stroke="#1f6de0" stroke-width="0.5"/>
<rect x="197.3" y="408.2" width="141.5" height="113.1" fill="none" stroke="#000" stroke-width="1.5"/>
<line x1="198" y1="512.6" x2="200.2" y2="512.6" stroke="#000" stroke-width="0.8" />
<line x1="198" y1="490.85" x2="199.3" y2="490.85" stroke="#000" stroke-width="0.8" />
<line x1="198" y1="469.1" x2="200.2" y2="469.1" stroke="#000" stroke-width="0.8" />
<line x1="198" y1="447.35" x2="199.3" y2="447.35" stroke="#000" stroke-width="0.8" />
<line x1="198" y1="425.6" x2="200.2" y2="425.6" stroke="#000" stroke-width="0.8" />
<line x1="215.24" y1="520.6" x2="215.24" y2="519.3" stroke="#000" stroke-width="0.8" />
<line x1="232.92" y1="520.6" x2="232.92" y2="518.4" stroke="#000" stroke-width="0.8" />
<line x1="250.61" y1="520.6" x2="250.61" y2="519.3" stroke="#000" stroke-width="0.8" />
<line x1="268.3" y1="520.6" x2="268.3" y2="518.4" stroke="#000" stroke-width="0.8" />
<line x1="285.99" y1="520.6" x2="285.99" y2="519.3" stroke="#000" stroke-width="0.8" />
<line x1="303.68" y1="520.6" x2="303.68" y2="518.4" stroke="#000" stroke-width="0.8" />
<line x1="321.36" y1="520.6" x2="321.36" y2="519.3" stroke="#000" stroke-width="0.8" />
<text x="197.55" y="530.1" font-size="7.2" text-anchor="middle" font-weight="bold" fill="#000"  stroke="#000" stroke-width="0.2">-0.8</text>
<text x="232.92" y="530.1" font-size="7.2" text-anchor="middle" font-weight="bold" fill="#000"  stroke="#000" stroke-width="0.2">-0.4</text>
<text x="268.3" y="530.1" font-size="7.2" text-anchor="middle" font-weight="bold" fill="#000"  stroke="#000" stroke-width="0.2">0.0</text>
<text x="303.68" y="530.1" font-size="7.2" text-anchor="middle" font-weight="bold" fill="#000"  stroke="#000" stroke-width="0.2">0.4</text>
<text x="339.05" y="530.1" font-size="7.2" text-anchor="middle" font-weight="bold" fill="#000"  stroke="#000" stroke-width="0.2">0.8</text>
<text x="270.05" y="544.8" font-size="10.2" text-anchor="middle" font-weight="bold" fill="#000"  stroke="#000" stroke-width="0.2">Vds(V)</text>
<rect x="255.2" y="411.2" width="33.3" height="11" fill="#1f6de0"/>
<rect x="253.9" y="409.9" width="33.3" height="11" fill="#fff" stroke="#1f6de0" stroke-width="0.7"/>
<text x="0" y="0" transform="translate(270.55,418.8) scale(1.0,1.08)" font-size="7.3" text-anchor="middle" font-weight="bold" fill="#1f6de0"  stroke="#1f6de0" stroke-width="0.2">PTS_5e18</text>
<text x="211.2" y="438.9" font-size="6.3" text-anchor="middle" font-weight="bold" fill="#000"  stroke="#000" stroke-width="0.2">PMOS</text>
<text x="323.8" y="440.5" font-size="6.3" text-anchor="middle" font-weight="bold" fill="#000"  stroke="#000" stroke-width="0.2">NMOS</text>
<text x="0" y="0" transform="translate(285,474.6) scale(1.0,1.1)" font-size="7.5" text-anchor="start" font-weight="bold" fill="#000"  stroke="#000" stroke-width="0.2">|Vgs|=0.2V-0.6V</text>
<text x="0" y="0" transform="translate(285,486) scale(1.0,1.1)" font-size="7.5" text-anchor="start" font-weight="bold" fill="#000"  stroke="#000" stroke-width="0.2">Step=0.2V</text>
<line x1="66" y1="343.9" x2="210.5" y2="343.9" stroke="#f78a8a" stroke-width="0.9" stroke-dasharray="2.6,1.6"/>
<line x1="200.9" y1="276.5" x2="200.9" y2="344" stroke="#ff7b7b" stroke-width="1.8" />
<path d="M200.9,273.3L203.1,278L198.7,278Z" fill="#ff7b7b"/>
<text x="0" y="0" font-size="10.4" fill="#f03030" stroke="#f03030" stroke-width="0.25" text-anchor="middle" style="font-family:'Liberation Sans', Arial, sans-serif" transform="translate(211.2,315.6) rotate(-90)">×4.78</text>
</svg>
</body></html>
